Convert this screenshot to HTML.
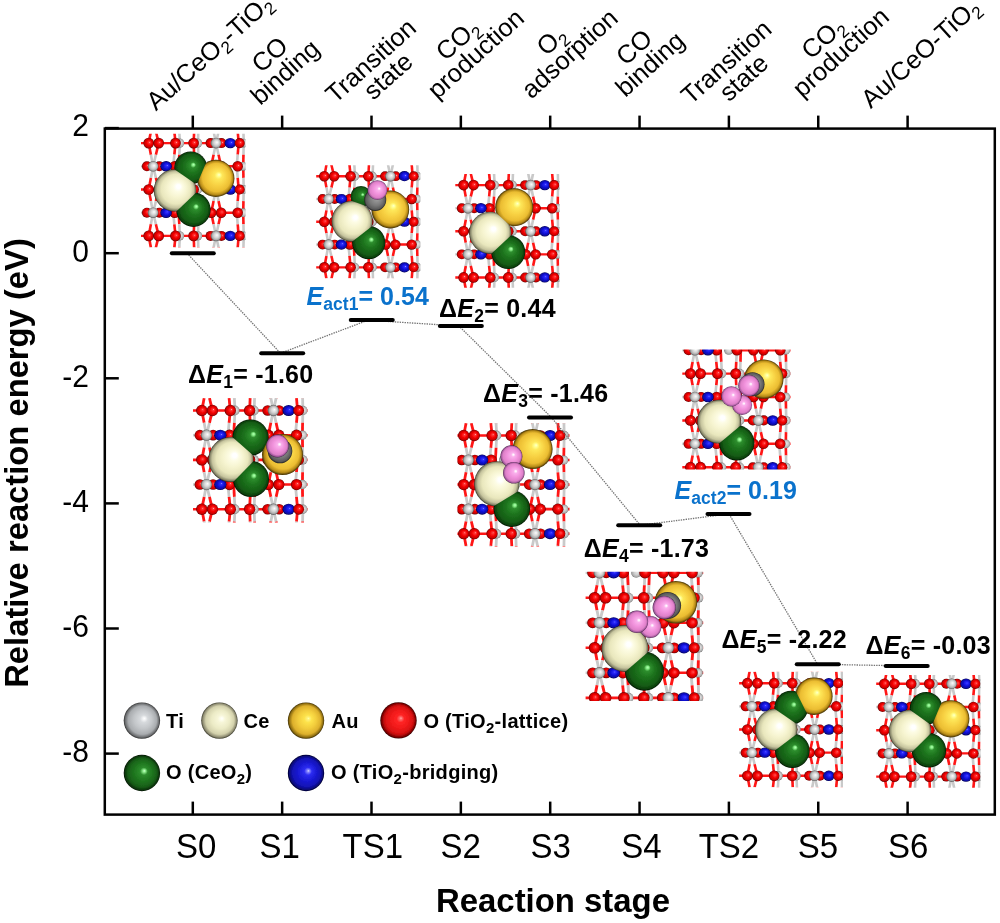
<!DOCTYPE html>
<html><head><meta charset="utf-8"><title>Reaction energy diagram</title>
<style>html,body{margin:0;padding:0;background:#fff;}svg{display:block;}</style>
</head><body>
<svg width="1000" height="923" viewBox="0 0 1000 923"><defs><filter id="soft2" x="-10%" y="-10%" width="120%" height="120%"><feGaussianBlur stdDeviation="0.5"/></filter><filter id="soft" x="-5%" y="-5%" width="110%" height="110%"><feGaussianBlur stdDeviation="0.35"/></filter><radialGradient id="gRed" cx="0.5" cy="0.5" r="0.5" fx="0.6" fy="0.42"><stop offset="0" stop-color="#ffc0c0"/><stop offset="0.12" stop-color="#ff3a3a"/><stop offset="0.5" stop-color="#f40000"/><stop offset="0.82" stop-color="#c80000"/><stop offset="1" stop-color="#600000"/></radialGradient><radialGradient id="gTi" cx="0.5" cy="0.5" r="0.5" fx="0.6" fy="0.42"><stop offset="0" stop-color="#ffffff"/><stop offset="0.12" stop-color="#f2f2f2"/><stop offset="0.5" stop-color="#d2d2d2"/><stop offset="0.8" stop-color="#a9a9a9"/><stop offset="1" stop-color="#555555"/></radialGradient><radialGradient id="gTiB" cx="0.5" cy="0.5" r="0.5" fx="0.6" fy="0.42"><stop offset="0" stop-color="#e6e6e6"/><stop offset="0.5" stop-color="#cdcdcd"/><stop offset="0.85" stop-color="#a8a8a8"/><stop offset="1" stop-color="#767676"/></radialGradient><radialGradient id="gBlue" cx="0.5" cy="0.5" r="0.5" fx="0.6" fy="0.42"><stop offset="0" stop-color="#a0a0ff"/><stop offset="0.12" stop-color="#3030ff"/><stop offset="0.5" stop-color="#1212dc"/><stop offset="0.82" stop-color="#0a0aa6"/><stop offset="1" stop-color="#000050"/></radialGradient><radialGradient id="gCe" cx="0.5" cy="0.5" r="0.5" fx="0.59" fy="0.4"><stop offset="0" stop-color="#ffffff"/><stop offset="0.09" stop-color="#ffffff"/><stop offset="0.22" stop-color="#fdfce4"/><stop offset="0.45" stop-color="#f6f4d0"/><stop offset="0.7" stop-color="#e9e7bd"/><stop offset="0.86" stop-color="#c6c49e"/><stop offset="0.95" stop-color="#858468"/><stop offset="1" stop-color="#2e2e22"/></radialGradient><radialGradient id="gGreen" cx="0.5" cy="0.5" r="0.5" fx="0.59" fy="0.4"><stop offset="0" stop-color="#b8ffb8"/><stop offset="0.07" stop-color="#88f088"/><stop offset="0.17" stop-color="#2e8e2e"/><stop offset="0.45" stop-color="#1c721c"/><stop offset="0.78" stop-color="#155c15"/><stop offset="0.92" stop-color="#0c420c"/><stop offset="1" stop-color="#011601"/></radialGradient><radialGradient id="gAu" cx="0.5" cy="0.5" r="0.5" fx="0.59" fy="0.4"><stop offset="0" stop-color="#ffffd0"/><stop offset="0.08" stop-color="#ffff90"/><stop offset="0.2" stop-color="#fee85a"/><stop offset="0.5" stop-color="#f7d042"/><stop offset="0.76" stop-color="#ebbd32"/><stop offset="0.9" stop-color="#b68a18"/><stop offset="1" stop-color="#3a2a00"/></radialGradient><radialGradient id="gPink" cx="0.5" cy="0.5" r="0.5" fx="0.6" fy="0.42"><stop offset="0" stop-color="#ffffff"/><stop offset="0.06" stop-color="#fff0fc"/><stop offset="0.18" stop-color="#fab0ec"/><stop offset="0.5" stop-color="#f192dc"/><stop offset="0.8" stop-color="#de80c8"/><stop offset="0.93" stop-color="#a0589a"/><stop offset="1" stop-color="#48244a"/></radialGradient><radialGradient id="gC" cx="0.5" cy="0.5" r="0.5" fx="0.6" fy="0.42"><stop offset="0" stop-color="#c8c8c8"/><stop offset="0.15" stop-color="#9a9a9a"/><stop offset="0.6" stop-color="#787878"/><stop offset="0.88" stop-color="#5a5a5a"/><stop offset="1" stop-color="#222222"/></radialGradient><radialGradient id="gLTi" cx="0.5" cy="0.5" r="0.5" fx="0.57" fy="0.44"><stop offset="0" stop-color="#ffffff"/><stop offset="0.07" stop-color="#f4f5f6"/><stop offset="0.21000000000000002" stop-color="#d6d9dc"/><stop offset="0.5" stop-color="#c3c6c9"/><stop offset="0.78" stop-color="#a9acaf"/><stop offset="0.93" stop-color="#6a6c6e"/><stop offset="1" stop-color="#2c2c2c"/></radialGradient><radialGradient id="gLCe" cx="0.5" cy="0.5" r="0.5" fx="0.57" fy="0.44"><stop offset="0" stop-color="#ffffff"/><stop offset="0.07" stop-color="#fefef0"/><stop offset="0.21000000000000002" stop-color="#f7f6d8"/><stop offset="0.5" stop-color="#ecebc6"/><stop offset="0.78" stop-color="#d3d1ac"/><stop offset="0.93" stop-color="#8c8a70"/><stop offset="1" stop-color="#343426"/></radialGradient><radialGradient id="gLRed" cx="0.5" cy="0.5" r="0.5" fx="0.57" fy="0.44"><stop offset="0" stop-color="#ffa8a8"/><stop offset="0.07" stop-color="#ff6a6a"/><stop offset="0.21000000000000002" stop-color="#ff2424"/><stop offset="0.5" stop-color="#f01a1a"/><stop offset="0.78" stop-color="#d41010"/><stop offset="0.93" stop-color="#800000"/><stop offset="1" stop-color="#2c0000"/></radialGradient><radialGradient id="gLBlue" cx="0.5" cy="0.5" r="0.5" fx="0.57" fy="0.44"><stop offset="0" stop-color="#d8d8ff"/><stop offset="0.07" stop-color="#8888ff"/><stop offset="0.21000000000000002" stop-color="#2c2cf2"/><stop offset="0.5" stop-color="#1a1ad4"/><stop offset="0.78" stop-color="#1212b4"/><stop offset="0.93" stop-color="#080870"/><stop offset="1" stop-color="#000024"/></radialGradient><radialGradient id="gLGreen" cx="0.5" cy="0.5" r="0.5" fx="0.57" fy="0.44"><stop offset="0" stop-color="#d0ffd0"/><stop offset="0.07" stop-color="#90f090"/><stop offset="0.21000000000000002" stop-color="#2c8c2c"/><stop offset="0.5" stop-color="#1f761f"/><stop offset="0.78" stop-color="#186018"/><stop offset="0.93" stop-color="#0c380c"/><stop offset="1" stop-color="#021202"/></radialGradient><radialGradient id="gLAu" cx="0.5" cy="0.5" r="0.5" fx="0.57" fy="0.44"><stop offset="0" stop-color="#ffffa8"/><stop offset="0.07" stop-color="#fff27a"/><stop offset="0.21000000000000002" stop-color="#fde24a"/><stop offset="0.5" stop-color="#f2cc3c"/><stop offset="0.78" stop-color="#ddb02c"/><stop offset="0.93" stop-color="#8c6c10"/><stop offset="1" stop-color="#362800"/></radialGradient><clipPath id="cS0"><rect x="141.0" y="133.7" width="104.60" height="113.70"/></clipPath><clipPath id="k1"><polygon points="208.18,157.80 236.40,157.80 236.40,199.00 195.20,199.00 195.20,188.53"/></clipPath><clipPath id="k2"><polygon points="151.80,167.20 171.47,167.20 198.20,185.77 198.20,213.60 151.80,213.60"/></clipPath><clipPath id="k3"><polygon points="198.39,190.50 212.60,190.50 212.60,228.90 174.20,228.90 174.20,213.56"/></clipPath><clipPath id="cTS1"><rect x="316.2" y="165.2" width="104.20" height="113.00"/></clipPath><clipPath id="k4"><polygon points="329.60,198.70 345.80,198.70 374.60,209.08 374.60,243.70 329.60,243.70"/></clipPath><clipPath id="k5"><polygon points="374.94,224.00 387.30,224.00 387.30,261.20 350.10,261.20 350.10,243.27"/></clipPath><clipPath id="cS2"><rect x="455.3" y="174.1" width="104.40" height="113.60"/></clipPath><clipPath id="k6"><polygon points="493.20,186.30 535.20,186.30 535.20,228.30 512.72,228.30 493.20,209.93"/></clipPath><clipPath id="k7"><polygon points="513.56,233.10 527.20,233.10 527.20,271.10 489.20,271.10 489.20,255.82"/></clipPath><clipPath id="cS1"><rect x="193.0" y="398.0" width="114.60" height="124.40"/></clipPath><clipPath id="k8"><polygon points="206.40,434.90 230.10,434.90 255.60,457.50 255.60,484.10 206.40,484.10"/></clipPath><clipPath id="k9"><polygon points="255.66,459.00 271.00,459.00 271.00,499.00 231.00,499.00 231.00,484.30"/></clipPath><clipPath id="k10"><polygon points="272.49,432.00 305.00,432.00 305.00,477.00 260.00,477.00 260.00,455.51"/></clipPath><clipPath id="cS3"><rect x="457.4" y="423.0" width="112.60" height="123.40"/></clipPath><clipPath id="k11"><polygon points="523.05,488.30 532.10,488.30 532.10,528.90 491.50,528.90 491.50,507.51"/></clipPath><clipPath id="cTS2"><rect x="682.3" y="349.5" width="108.20" height="119.90"/></clipPath><clipPath id="k12"><polygon points="743.59,423.10 756.40,423.10 756.40,462.50 717.00,462.50 717.00,445.28"/></clipPath><clipPath id="cS4"><rect x="585.6" y="571.8" width="117.60" height="129.20"/></clipPath><clipPath id="k13"><polygon points="650.76,649.70 665.90,649.70 665.90,692.70 622.90,692.70 622.90,673.63"/></clipPath><clipPath id="cS5"><rect x="739.1" y="671.8" width="103.90" height="115.40"/></clipPath><clipPath id="k14"><polygon points="793.20,675.50 834.60,675.50 834.60,716.90 808.67,716.90 793.20,686.09"/></clipPath><clipPath id="k15"><polygon points="753.20,706.60 771.28,706.60 799.20,725.64 799.20,752.60 753.20,752.60"/></clipPath><clipPath id="k16"><polygon points="800.12,731.40 811.60,731.40 811.60,770.00 773.00,770.00 773.00,752.09"/></clipPath><clipPath id="cS6"><rect x="876.2" y="674.9" width="104.50" height="112.80"/></clipPath><clipPath id="k17"><polygon points="943.38,698.20 971.40,698.20 971.40,739.40 930.20,739.40 930.20,729.49"/></clipPath><clipPath id="k18"><polygon points="886.80,707.80 906.95,707.80 933.20,726.50 933.20,754.20 886.80,754.20"/></clipPath><clipPath id="k19"><polygon points="933.27,731.10 948.10,731.10 948.10,769.50 909.70,769.50 909.70,754.18"/></clipPath></defs><rect width="1000" height="923" fill="#fff"/><g clip-path="url(#cS0)"><g filter="url(#soft)"><g transform="translate(148.7,143.1) scale(1.0)"><line x1="-12" y1="-23.20" x2="12" y2="-23.20" stroke="#c9c9c9" stroke-width="2.4"/><line x1="12" y1="-23.20" x2="22" y2="-23.20" stroke="#1a1ae0" stroke-width="2.4"/><line x1="40" y1="-23.20" x2="100" y2="-23.20" stroke="#ff1414" stroke-width="2.4"/><line x1="4.4" y1="-23.20" x2="2.20" y2="-11.60" stroke="#c9c9c9" stroke-width="2.6"/><line x1="2.20" y1="-11.60" x2="0" y2="0.00" stroke="#ff1414" stroke-width="2.6"/><line x1="4.4" y1="-23.20" x2="7.20" y2="-11.60" stroke="#c9c9c9" stroke-width="2.6"/><line x1="7.20" y1="-11.60" x2="10" y2="0.00" stroke="#ff1414" stroke-width="2.6"/><line x1="24.5" y1="-23.20" x2="25.65" y2="-11.60" stroke="#c9c9c9" stroke-width="2.6"/><line x1="25.65" y1="-11.60" x2="26.8" y2="0.00" stroke="#ff1414" stroke-width="2.6"/><line x1="30.0" y1="-23.20" x2="30.60" y2="-11.60" stroke="#ff1414" stroke-width="2.6"/><line x1="30.60" y1="-11.60" x2="31.2" y2="0.00" stroke="#c9c9c9" stroke-width="2.6"/><line x1="46.0" y1="-23.20" x2="45.45" y2="-11.60" stroke="#c9c9c9" stroke-width="2.6"/><line x1="45.45" y1="-11.60" x2="44.9" y2="0.00" stroke="#ff1414" stroke-width="2.6"/><line x1="50.0" y1="-23.20" x2="49.60" y2="-11.60" stroke="#ff1414" stroke-width="2.6"/><line x1="49.60" y1="-11.60" x2="49.2" y2="0.00" stroke="#c9c9c9" stroke-width="2.6"/><line x1="62.5" y1="-23.20" x2="64.90" y2="-11.60" stroke="#ff1414" stroke-width="2.6"/><line x1="64.90" y1="-11.60" x2="67.3" y2="0.00" stroke="#c9c9c9" stroke-width="2.6"/><line x1="72.4" y1="-23.20" x2="69.85" y2="-11.60" stroke="#ff1414" stroke-width="2.6"/><line x1="69.85" y1="-11.60" x2="67.3" y2="0.00" stroke="#c9c9c9" stroke-width="2.6"/><line x1="88.0" y1="-23.20" x2="89.00" y2="-11.60" stroke="#c9c9c9" stroke-width="2.6"/><line x1="89.00" y1="-11.60" x2="90.0" y2="0.00" stroke="#ff1414" stroke-width="2.6"/><line x1="94.5" y1="-23.20" x2="94.75" y2="-11.60" stroke="#ff1414" stroke-width="2.6"/><line x1="94.75" y1="-11.60" x2="95.0" y2="0.00" stroke="#c9c9c9" stroke-width="2.6"/><line x1="-12" y1="0.00" x2="58" y2="0.00" stroke="#ff1414" stroke-width="2.4"/><line x1="58" y1="0.00" x2="77" y2="0.00" stroke="#c9c9c9" stroke-width="2.4"/><line x1="77" y1="0.00" x2="86" y2="0.00" stroke="#1a1ae0" stroke-width="2.4"/><line x1="86" y1="0.00" x2="100" y2="0.00" stroke="#ff1414" stroke-width="2.4"/><line x1="0" y1="0.00" x2="2.20" y2="11.60" stroke="#ff1414" stroke-width="2.6"/><line x1="2.20" y1="11.60" x2="4.4" y2="23.20" stroke="#c9c9c9" stroke-width="2.6"/><line x1="10" y1="0.00" x2="7.20" y2="11.60" stroke="#ff1414" stroke-width="2.6"/><line x1="7.20" y1="11.60" x2="4.4" y2="23.20" stroke="#c9c9c9" stroke-width="2.6"/><line x1="26.8" y1="0.00" x2="25.65" y2="11.60" stroke="#ff1414" stroke-width="2.6"/><line x1="25.65" y1="11.60" x2="24.5" y2="23.20" stroke="#c9c9c9" stroke-width="2.6"/><line x1="31.2" y1="0.00" x2="30.60" y2="11.60" stroke="#c9c9c9" stroke-width="2.6"/><line x1="30.60" y1="11.60" x2="30.0" y2="23.20" stroke="#ff1414" stroke-width="2.6"/><line x1="44.9" y1="0.00" x2="45.45" y2="11.60" stroke="#ff1414" stroke-width="2.6"/><line x1="45.45" y1="11.60" x2="46.0" y2="23.20" stroke="#c9c9c9" stroke-width="2.6"/><line x1="49.2" y1="0.00" x2="49.60" y2="11.60" stroke="#c9c9c9" stroke-width="2.6"/><line x1="49.60" y1="11.60" x2="50.0" y2="23.20" stroke="#ff1414" stroke-width="2.6"/><line x1="67.3" y1="0.00" x2="64.90" y2="11.60" stroke="#c9c9c9" stroke-width="2.6"/><line x1="64.90" y1="11.60" x2="62.5" y2="23.20" stroke="#ff1414" stroke-width="2.6"/><line x1="67.3" y1="0.00" x2="69.85" y2="11.60" stroke="#c9c9c9" stroke-width="2.6"/><line x1="69.85" y1="11.60" x2="72.4" y2="23.20" stroke="#ff1414" stroke-width="2.6"/><line x1="90.0" y1="0.00" x2="89.00" y2="11.60" stroke="#ff1414" stroke-width="2.6"/><line x1="89.00" y1="11.60" x2="88.0" y2="23.20" stroke="#c9c9c9" stroke-width="2.6"/><line x1="95.0" y1="0.00" x2="94.75" y2="11.60" stroke="#c9c9c9" stroke-width="2.6"/><line x1="94.75" y1="11.60" x2="94.5" y2="23.20" stroke="#ff1414" stroke-width="2.6"/><line x1="-12" y1="23.20" x2="12" y2="23.20" stroke="#c9c9c9" stroke-width="2.4"/><line x1="12" y1="23.20" x2="22" y2="23.20" stroke="#1a1ae0" stroke-width="2.4"/><line x1="40" y1="23.20" x2="100" y2="23.20" stroke="#ff1414" stroke-width="2.4"/><line x1="4.4" y1="23.20" x2="2.20" y2="34.80" stroke="#c9c9c9" stroke-width="2.6"/><line x1="2.20" y1="34.80" x2="0" y2="46.40" stroke="#ff1414" stroke-width="2.6"/><line x1="4.4" y1="23.20" x2="7.20" y2="34.80" stroke="#c9c9c9" stroke-width="2.6"/><line x1="7.20" y1="34.80" x2="10" y2="46.40" stroke="#ff1414" stroke-width="2.6"/><line x1="24.5" y1="23.20" x2="25.65" y2="34.80" stroke="#c9c9c9" stroke-width="2.6"/><line x1="25.65" y1="34.80" x2="26.8" y2="46.40" stroke="#ff1414" stroke-width="2.6"/><line x1="30.0" y1="23.20" x2="30.60" y2="34.80" stroke="#ff1414" stroke-width="2.6"/><line x1="30.60" y1="34.80" x2="31.2" y2="46.40" stroke="#c9c9c9" stroke-width="2.6"/><line x1="46.0" y1="23.20" x2="45.45" y2="34.80" stroke="#c9c9c9" stroke-width="2.6"/><line x1="45.45" y1="34.80" x2="44.9" y2="46.40" stroke="#ff1414" stroke-width="2.6"/><line x1="50.0" y1="23.20" x2="49.60" y2="34.80" stroke="#ff1414" stroke-width="2.6"/><line x1="49.60" y1="34.80" x2="49.2" y2="46.40" stroke="#c9c9c9" stroke-width="2.6"/><line x1="62.5" y1="23.20" x2="64.90" y2="34.80" stroke="#ff1414" stroke-width="2.6"/><line x1="64.90" y1="34.80" x2="67.3" y2="46.40" stroke="#c9c9c9" stroke-width="2.6"/><line x1="72.4" y1="23.20" x2="69.85" y2="34.80" stroke="#ff1414" stroke-width="2.6"/><line x1="69.85" y1="34.80" x2="67.3" y2="46.40" stroke="#c9c9c9" stroke-width="2.6"/><line x1="88.0" y1="23.20" x2="89.00" y2="34.80" stroke="#c9c9c9" stroke-width="2.6"/><line x1="89.00" y1="34.80" x2="90.0" y2="46.40" stroke="#ff1414" stroke-width="2.6"/><line x1="94.5" y1="23.20" x2="94.75" y2="34.80" stroke="#ff1414" stroke-width="2.6"/><line x1="94.75" y1="34.80" x2="95.0" y2="46.40" stroke="#c9c9c9" stroke-width="2.6"/><line x1="-12" y1="46.40" x2="58" y2="46.40" stroke="#ff1414" stroke-width="2.4"/><line x1="58" y1="46.40" x2="77" y2="46.40" stroke="#c9c9c9" stroke-width="2.4"/><line x1="77" y1="46.40" x2="86" y2="46.40" stroke="#1a1ae0" stroke-width="2.4"/><line x1="86" y1="46.40" x2="100" y2="46.40" stroke="#ff1414" stroke-width="2.4"/><line x1="0" y1="46.40" x2="2.20" y2="58.00" stroke="#ff1414" stroke-width="2.6"/><line x1="2.20" y1="58.00" x2="4.4" y2="69.60" stroke="#c9c9c9" stroke-width="2.6"/><line x1="10" y1="46.40" x2="7.20" y2="58.00" stroke="#ff1414" stroke-width="2.6"/><line x1="7.20" y1="58.00" x2="4.4" y2="69.60" stroke="#c9c9c9" stroke-width="2.6"/><line x1="26.8" y1="46.40" x2="25.65" y2="58.00" stroke="#ff1414" stroke-width="2.6"/><line x1="25.65" y1="58.00" x2="24.5" y2="69.60" stroke="#c9c9c9" stroke-width="2.6"/><line x1="31.2" y1="46.40" x2="30.60" y2="58.00" stroke="#c9c9c9" stroke-width="2.6"/><line x1="30.60" y1="58.00" x2="30.0" y2="69.60" stroke="#ff1414" stroke-width="2.6"/><line x1="44.9" y1="46.40" x2="45.45" y2="58.00" stroke="#ff1414" stroke-width="2.6"/><line x1="45.45" y1="58.00" x2="46.0" y2="69.60" stroke="#c9c9c9" stroke-width="2.6"/><line x1="49.2" y1="46.40" x2="49.60" y2="58.00" stroke="#c9c9c9" stroke-width="2.6"/><line x1="49.60" y1="58.00" x2="50.0" y2="69.60" stroke="#ff1414" stroke-width="2.6"/><line x1="67.3" y1="46.40" x2="64.90" y2="58.00" stroke="#c9c9c9" stroke-width="2.6"/><line x1="64.90" y1="58.00" x2="62.5" y2="69.60" stroke="#ff1414" stroke-width="2.6"/><line x1="67.3" y1="46.40" x2="69.85" y2="58.00" stroke="#c9c9c9" stroke-width="2.6"/><line x1="69.85" y1="58.00" x2="72.4" y2="69.60" stroke="#ff1414" stroke-width="2.6"/><line x1="90.0" y1="46.40" x2="89.00" y2="58.00" stroke="#ff1414" stroke-width="2.6"/><line x1="89.00" y1="58.00" x2="88.0" y2="69.60" stroke="#c9c9c9" stroke-width="2.6"/><line x1="95.0" y1="46.40" x2="94.75" y2="58.00" stroke="#c9c9c9" stroke-width="2.6"/><line x1="94.75" y1="58.00" x2="94.5" y2="69.60" stroke="#ff1414" stroke-width="2.6"/><line x1="-12" y1="69.60" x2="12" y2="69.60" stroke="#c9c9c9" stroke-width="2.4"/><line x1="12" y1="69.60" x2="22" y2="69.60" stroke="#1a1ae0" stroke-width="2.4"/><line x1="40" y1="69.60" x2="100" y2="69.60" stroke="#ff1414" stroke-width="2.4"/><line x1="4.4" y1="69.60" x2="2.20" y2="81.20" stroke="#c9c9c9" stroke-width="2.6"/><line x1="2.20" y1="81.20" x2="0" y2="92.80" stroke="#ff1414" stroke-width="2.6"/><line x1="4.4" y1="69.60" x2="7.20" y2="81.20" stroke="#c9c9c9" stroke-width="2.6"/><line x1="7.20" y1="81.20" x2="10" y2="92.80" stroke="#ff1414" stroke-width="2.6"/><line x1="24.5" y1="69.60" x2="25.65" y2="81.20" stroke="#c9c9c9" stroke-width="2.6"/><line x1="25.65" y1="81.20" x2="26.8" y2="92.80" stroke="#ff1414" stroke-width="2.6"/><line x1="30.0" y1="69.60" x2="30.60" y2="81.20" stroke="#ff1414" stroke-width="2.6"/><line x1="30.60" y1="81.20" x2="31.2" y2="92.80" stroke="#c9c9c9" stroke-width="2.6"/><line x1="46.0" y1="69.60" x2="45.45" y2="81.20" stroke="#c9c9c9" stroke-width="2.6"/><line x1="45.45" y1="81.20" x2="44.9" y2="92.80" stroke="#ff1414" stroke-width="2.6"/><line x1="50.0" y1="69.60" x2="49.60" y2="81.20" stroke="#ff1414" stroke-width="2.6"/><line x1="49.60" y1="81.20" x2="49.2" y2="92.80" stroke="#c9c9c9" stroke-width="2.6"/><line x1="62.5" y1="69.60" x2="64.90" y2="81.20" stroke="#ff1414" stroke-width="2.6"/><line x1="64.90" y1="81.20" x2="67.3" y2="92.80" stroke="#c9c9c9" stroke-width="2.6"/><line x1="72.4" y1="69.60" x2="69.85" y2="81.20" stroke="#ff1414" stroke-width="2.6"/><line x1="69.85" y1="81.20" x2="67.3" y2="92.80" stroke="#c9c9c9" stroke-width="2.6"/><line x1="88.0" y1="69.60" x2="89.00" y2="81.20" stroke="#c9c9c9" stroke-width="2.6"/><line x1="89.00" y1="81.20" x2="90.0" y2="92.80" stroke="#ff1414" stroke-width="2.6"/><line x1="94.5" y1="69.60" x2="94.75" y2="81.20" stroke="#ff1414" stroke-width="2.6"/><line x1="94.75" y1="81.20" x2="95.0" y2="92.80" stroke="#c9c9c9" stroke-width="2.6"/><line x1="-12" y1="92.80" x2="58" y2="92.80" stroke="#ff1414" stroke-width="2.4"/><line x1="58" y1="92.80" x2="77" y2="92.80" stroke="#c9c9c9" stroke-width="2.4"/><line x1="77" y1="92.80" x2="86" y2="92.80" stroke="#1a1ae0" stroke-width="2.4"/><line x1="86" y1="92.80" x2="100" y2="92.80" stroke="#ff1414" stroke-width="2.4"/><line x1="0" y1="92.80" x2="2.20" y2="104.40" stroke="#ff1414" stroke-width="2.6"/><line x1="2.20" y1="104.40" x2="4.4" y2="116.00" stroke="#c9c9c9" stroke-width="2.6"/><line x1="10" y1="92.80" x2="7.20" y2="104.40" stroke="#ff1414" stroke-width="2.6"/><line x1="7.20" y1="104.40" x2="4.4" y2="116.00" stroke="#c9c9c9" stroke-width="2.6"/><line x1="26.8" y1="92.80" x2="25.65" y2="104.40" stroke="#ff1414" stroke-width="2.6"/><line x1="25.65" y1="104.40" x2="24.5" y2="116.00" stroke="#c9c9c9" stroke-width="2.6"/><line x1="31.2" y1="92.80" x2="30.60" y2="104.40" stroke="#c9c9c9" stroke-width="2.6"/><line x1="30.60" y1="104.40" x2="30.0" y2="116.00" stroke="#ff1414" stroke-width="2.6"/><line x1="44.9" y1="92.80" x2="45.45" y2="104.40" stroke="#ff1414" stroke-width="2.6"/><line x1="45.45" y1="104.40" x2="46.0" y2="116.00" stroke="#c9c9c9" stroke-width="2.6"/><line x1="49.2" y1="92.80" x2="49.60" y2="104.40" stroke="#c9c9c9" stroke-width="2.6"/><line x1="49.60" y1="104.40" x2="50.0" y2="116.00" stroke="#ff1414" stroke-width="2.6"/><line x1="67.3" y1="92.80" x2="64.90" y2="104.40" stroke="#c9c9c9" stroke-width="2.6"/><line x1="64.90" y1="104.40" x2="62.5" y2="116.00" stroke="#ff1414" stroke-width="2.6"/><line x1="67.3" y1="92.80" x2="69.85" y2="104.40" stroke="#c9c9c9" stroke-width="2.6"/><line x1="69.85" y1="104.40" x2="72.4" y2="116.00" stroke="#ff1414" stroke-width="2.6"/><line x1="90.0" y1="92.80" x2="89.00" y2="104.40" stroke="#ff1414" stroke-width="2.6"/><line x1="89.00" y1="104.40" x2="88.0" y2="116.00" stroke="#c9c9c9" stroke-width="2.6"/><line x1="95.0" y1="92.80" x2="94.75" y2="104.40" stroke="#c9c9c9" stroke-width="2.6"/><line x1="94.75" y1="104.40" x2="94.5" y2="116.00" stroke="#ff1414" stroke-width="2.6"/><line x1="-12" y1="116.00" x2="12" y2="116.00" stroke="#c9c9c9" stroke-width="2.4"/><line x1="12" y1="116.00" x2="22" y2="116.00" stroke="#1a1ae0" stroke-width="2.4"/><line x1="40" y1="116.00" x2="100" y2="116.00" stroke="#ff1414" stroke-width="2.4"/><line x1="4.4" y1="116.00" x2="2.20" y2="127.60" stroke="#c9c9c9" stroke-width="2.6"/><line x1="2.20" y1="127.60" x2="0" y2="139.20" stroke="#ff1414" stroke-width="2.6"/><line x1="4.4" y1="116.00" x2="7.20" y2="127.60" stroke="#c9c9c9" stroke-width="2.6"/><line x1="7.20" y1="127.60" x2="10" y2="139.20" stroke="#ff1414" stroke-width="2.6"/><line x1="24.5" y1="116.00" x2="25.65" y2="127.60" stroke="#c9c9c9" stroke-width="2.6"/><line x1="25.65" y1="127.60" x2="26.8" y2="139.20" stroke="#ff1414" stroke-width="2.6"/><line x1="30.0" y1="116.00" x2="30.60" y2="127.60" stroke="#ff1414" stroke-width="2.6"/><line x1="30.60" y1="127.60" x2="31.2" y2="139.20" stroke="#c9c9c9" stroke-width="2.6"/><line x1="46.0" y1="116.00" x2="45.45" y2="127.60" stroke="#c9c9c9" stroke-width="2.6"/><line x1="45.45" y1="127.60" x2="44.9" y2="139.20" stroke="#ff1414" stroke-width="2.6"/><line x1="50.0" y1="116.00" x2="49.60" y2="127.60" stroke="#ff1414" stroke-width="2.6"/><line x1="49.60" y1="127.60" x2="49.2" y2="139.20" stroke="#c9c9c9" stroke-width="2.6"/><line x1="62.5" y1="116.00" x2="64.90" y2="127.60" stroke="#ff1414" stroke-width="2.6"/><line x1="64.90" y1="127.60" x2="67.3" y2="139.20" stroke="#c9c9c9" stroke-width="2.6"/><line x1="72.4" y1="116.00" x2="69.85" y2="127.60" stroke="#ff1414" stroke-width="2.6"/><line x1="69.85" y1="127.60" x2="67.3" y2="139.20" stroke="#c9c9c9" stroke-width="2.6"/><line x1="88.0" y1="116.00" x2="89.00" y2="127.60" stroke="#c9c9c9" stroke-width="2.6"/><line x1="89.00" y1="127.60" x2="90.0" y2="139.20" stroke="#ff1414" stroke-width="2.6"/><line x1="94.5" y1="116.00" x2="94.75" y2="127.60" stroke="#ff1414" stroke-width="2.6"/><line x1="94.75" y1="127.60" x2="95.0" y2="139.20" stroke="#c9c9c9" stroke-width="2.6"/><circle cx="-1.8" cy="-23.20" r="5.0" fill="url(#gRed)"/><circle cx="10.6" cy="-23.20" r="5.0" fill="url(#gRed)"/><circle cx="38.0" cy="-23.20" r="4.6" fill="url(#gTiB)"/><circle cx="94.5" cy="-23.20" r="4.4" fill="url(#gTiB)"/><circle cx="30.8" cy="0.00" r="4.7" fill="url(#gTiB)"/><circle cx="48.8" cy="0.00" r="4.7" fill="url(#gTiB)"/><circle cx="95.0" cy="0.00" r="4.4" fill="url(#gTiB)"/><circle cx="61.9" cy="0.00" r="5.0" fill="url(#gRed)"/><circle cx="72.7" cy="0.00" r="5.0" fill="url(#gRed)"/><circle cx="-1.8" cy="23.20" r="5.0" fill="url(#gRed)"/><circle cx="10.6" cy="23.20" r="5.0" fill="url(#gRed)"/><circle cx="38.0" cy="23.20" r="4.6" fill="url(#gTiB)"/><circle cx="94.5" cy="23.20" r="4.4" fill="url(#gTiB)"/><circle cx="30.8" cy="46.40" r="4.7" fill="url(#gTiB)"/><circle cx="48.8" cy="46.40" r="4.7" fill="url(#gTiB)"/><circle cx="95.0" cy="46.40" r="4.4" fill="url(#gTiB)"/><circle cx="61.9" cy="46.40" r="5.0" fill="url(#gRed)"/><circle cx="72.7" cy="46.40" r="5.0" fill="url(#gRed)"/><circle cx="-1.8" cy="69.60" r="5.0" fill="url(#gRed)"/><circle cx="10.6" cy="69.60" r="5.0" fill="url(#gRed)"/><circle cx="38.0" cy="69.60" r="4.6" fill="url(#gTiB)"/><circle cx="94.5" cy="69.60" r="4.4" fill="url(#gTiB)"/><circle cx="30.8" cy="92.80" r="4.7" fill="url(#gTiB)"/><circle cx="48.8" cy="92.80" r="4.7" fill="url(#gTiB)"/><circle cx="95.0" cy="92.80" r="4.4" fill="url(#gTiB)"/><circle cx="61.9" cy="92.80" r="5.0" fill="url(#gRed)"/><circle cx="72.7" cy="92.80" r="5.0" fill="url(#gRed)"/><circle cx="-1.8" cy="116.00" r="5.0" fill="url(#gRed)"/><circle cx="10.6" cy="116.00" r="5.0" fill="url(#gRed)"/><circle cx="38.0" cy="116.00" r="4.6" fill="url(#gTiB)"/><circle cx="94.5" cy="116.00" r="4.4" fill="url(#gTiB)"/><circle cx="26.0" cy="-23.20" r="5.25" fill="url(#gRed)"/><circle cx="46.0" cy="-23.20" r="5.25" fill="url(#gRed)"/><circle cx="62.5" cy="-23.20" r="5.25" fill="url(#gRed)"/><circle cx="72.4" cy="-23.20" r="5.25" fill="url(#gRed)"/><circle cx="89.0" cy="-23.20" r="5.25" fill="url(#gRed)"/><circle cx="4.4" cy="-23.20" r="5.3" fill="url(#gTi)"/><ellipse cx="17.4" cy="-23.20" rx="5.8" ry="5.2" fill="url(#gBlue)"/><circle cx="0" cy="0.00" r="5.35" fill="url(#gRed)"/><circle cx="10.0" cy="0.00" r="5.35" fill="url(#gRed)"/><circle cx="26.8" cy="0.00" r="5.35" fill="url(#gRed)"/><circle cx="44.9" cy="0.00" r="5.35" fill="url(#gRed)"/><circle cx="67.3" cy="0.00" r="5.3" fill="url(#gTi)"/><ellipse cx="81.6" cy="0.00" rx="5.8" ry="5.2" fill="url(#gBlue)"/><circle cx="91.0" cy="0.00" r="5.1" fill="url(#gRed)"/><circle cx="26.0" cy="23.20" r="5.25" fill="url(#gRed)"/><circle cx="46.0" cy="23.20" r="5.25" fill="url(#gRed)"/><circle cx="62.5" cy="23.20" r="5.25" fill="url(#gRed)"/><circle cx="72.4" cy="23.20" r="5.25" fill="url(#gRed)"/><circle cx="89.0" cy="23.20" r="5.25" fill="url(#gRed)"/><circle cx="4.4" cy="23.20" r="5.3" fill="url(#gTi)"/><ellipse cx="17.4" cy="23.20" rx="5.8" ry="5.2" fill="url(#gBlue)"/><circle cx="0" cy="46.40" r="5.35" fill="url(#gRed)"/><circle cx="10.0" cy="46.40" r="5.35" fill="url(#gRed)"/><circle cx="26.8" cy="46.40" r="5.35" fill="url(#gRed)"/><circle cx="44.9" cy="46.40" r="5.35" fill="url(#gRed)"/><circle cx="67.3" cy="46.40" r="5.3" fill="url(#gTi)"/><ellipse cx="81.6" cy="46.40" rx="5.8" ry="5.2" fill="url(#gBlue)"/><circle cx="91.0" cy="46.40" r="5.1" fill="url(#gRed)"/><circle cx="26.0" cy="69.60" r="5.25" fill="url(#gRed)"/><circle cx="46.0" cy="69.60" r="5.25" fill="url(#gRed)"/><circle cx="62.5" cy="69.60" r="5.25" fill="url(#gRed)"/><circle cx="72.4" cy="69.60" r="5.25" fill="url(#gRed)"/><circle cx="89.0" cy="69.60" r="5.25" fill="url(#gRed)"/><circle cx="4.4" cy="69.60" r="5.3" fill="url(#gTi)"/><ellipse cx="17.4" cy="69.60" rx="5.8" ry="5.2" fill="url(#gBlue)"/><circle cx="0" cy="92.80" r="5.35" fill="url(#gRed)"/><circle cx="10.0" cy="92.80" r="5.35" fill="url(#gRed)"/><circle cx="26.8" cy="92.80" r="5.35" fill="url(#gRed)"/><circle cx="44.9" cy="92.80" r="5.35" fill="url(#gRed)"/><circle cx="67.3" cy="92.80" r="5.3" fill="url(#gTi)"/><ellipse cx="81.6" cy="92.80" rx="5.8" ry="5.2" fill="url(#gBlue)"/><circle cx="91.0" cy="92.80" r="5.1" fill="url(#gRed)"/><circle cx="26.0" cy="116.00" r="5.25" fill="url(#gRed)"/><circle cx="46.0" cy="116.00" r="5.25" fill="url(#gRed)"/><circle cx="62.5" cy="116.00" r="5.25" fill="url(#gRed)"/><circle cx="72.4" cy="116.00" r="5.25" fill="url(#gRed)"/><circle cx="89.0" cy="116.00" r="5.25" fill="url(#gRed)"/><circle cx="4.4" cy="116.00" r="5.3" fill="url(#gTi)"/><ellipse cx="17.4" cy="116.00" rx="5.8" ry="5.2" fill="url(#gBlue)"/></g><circle cx="190.7" cy="167.8" r="16.4" fill="url(#gGreen)"/><circle cx="215.8" cy="178.4" r="18.6" fill="url(#gAu)" clip-path="url(#k1)"/><circle cx="175.0" cy="190.4" r="21.2" fill="url(#gCe)" clip-path="url(#k2)"/><circle cx="193.4" cy="209.7" r="17.2" fill="url(#gGreen)" clip-path="url(#k3)"/></g></g><g clip-path="url(#cTS1)"><g filter="url(#soft)"><g transform="translate(324.3,176.2) scale(0.982)"><line x1="-12" y1="-23.20" x2="12" y2="-23.20" stroke="#c9c9c9" stroke-width="2.4"/><line x1="12" y1="-23.20" x2="22" y2="-23.20" stroke="#1a1ae0" stroke-width="2.4"/><line x1="40" y1="-23.20" x2="100" y2="-23.20" stroke="#ff1414" stroke-width="2.4"/><line x1="4.4" y1="-23.20" x2="2.20" y2="-11.60" stroke="#c9c9c9" stroke-width="2.6"/><line x1="2.20" y1="-11.60" x2="0" y2="0.00" stroke="#ff1414" stroke-width="2.6"/><line x1="4.4" y1="-23.20" x2="7.20" y2="-11.60" stroke="#c9c9c9" stroke-width="2.6"/><line x1="7.20" y1="-11.60" x2="10" y2="0.00" stroke="#ff1414" stroke-width="2.6"/><line x1="24.5" y1="-23.20" x2="25.65" y2="-11.60" stroke="#c9c9c9" stroke-width="2.6"/><line x1="25.65" y1="-11.60" x2="26.8" y2="0.00" stroke="#ff1414" stroke-width="2.6"/><line x1="30.0" y1="-23.20" x2="30.60" y2="-11.60" stroke="#ff1414" stroke-width="2.6"/><line x1="30.60" y1="-11.60" x2="31.2" y2="0.00" stroke="#c9c9c9" stroke-width="2.6"/><line x1="46.0" y1="-23.20" x2="45.45" y2="-11.60" stroke="#c9c9c9" stroke-width="2.6"/><line x1="45.45" y1="-11.60" x2="44.9" y2="0.00" stroke="#ff1414" stroke-width="2.6"/><line x1="50.0" y1="-23.20" x2="49.60" y2="-11.60" stroke="#ff1414" stroke-width="2.6"/><line x1="49.60" y1="-11.60" x2="49.2" y2="0.00" stroke="#c9c9c9" stroke-width="2.6"/><line x1="62.5" y1="-23.20" x2="64.90" y2="-11.60" stroke="#ff1414" stroke-width="2.6"/><line x1="64.90" y1="-11.60" x2="67.3" y2="0.00" stroke="#c9c9c9" stroke-width="2.6"/><line x1="72.4" y1="-23.20" x2="69.85" y2="-11.60" stroke="#ff1414" stroke-width="2.6"/><line x1="69.85" y1="-11.60" x2="67.3" y2="0.00" stroke="#c9c9c9" stroke-width="2.6"/><line x1="88.0" y1="-23.20" x2="89.00" y2="-11.60" stroke="#c9c9c9" stroke-width="2.6"/><line x1="89.00" y1="-11.60" x2="90.0" y2="0.00" stroke="#ff1414" stroke-width="2.6"/><line x1="94.5" y1="-23.20" x2="94.75" y2="-11.60" stroke="#ff1414" stroke-width="2.6"/><line x1="94.75" y1="-11.60" x2="95.0" y2="0.00" stroke="#c9c9c9" stroke-width="2.6"/><line x1="-12" y1="0.00" x2="58" y2="0.00" stroke="#ff1414" stroke-width="2.4"/><line x1="58" y1="0.00" x2="77" y2="0.00" stroke="#c9c9c9" stroke-width="2.4"/><line x1="77" y1="0.00" x2="86" y2="0.00" stroke="#1a1ae0" stroke-width="2.4"/><line x1="86" y1="0.00" x2="100" y2="0.00" stroke="#ff1414" stroke-width="2.4"/><line x1="0" y1="0.00" x2="2.20" y2="11.60" stroke="#ff1414" stroke-width="2.6"/><line x1="2.20" y1="11.60" x2="4.4" y2="23.20" stroke="#c9c9c9" stroke-width="2.6"/><line x1="10" y1="0.00" x2="7.20" y2="11.60" stroke="#ff1414" stroke-width="2.6"/><line x1="7.20" y1="11.60" x2="4.4" y2="23.20" stroke="#c9c9c9" stroke-width="2.6"/><line x1="26.8" y1="0.00" x2="25.65" y2="11.60" stroke="#ff1414" stroke-width="2.6"/><line x1="25.65" y1="11.60" x2="24.5" y2="23.20" stroke="#c9c9c9" stroke-width="2.6"/><line x1="31.2" y1="0.00" x2="30.60" y2="11.60" stroke="#c9c9c9" stroke-width="2.6"/><line x1="30.60" y1="11.60" x2="30.0" y2="23.20" stroke="#ff1414" stroke-width="2.6"/><line x1="44.9" y1="0.00" x2="45.45" y2="11.60" stroke="#ff1414" stroke-width="2.6"/><line x1="45.45" y1="11.60" x2="46.0" y2="23.20" stroke="#c9c9c9" stroke-width="2.6"/><line x1="49.2" y1="0.00" x2="49.60" y2="11.60" stroke="#c9c9c9" stroke-width="2.6"/><line x1="49.60" y1="11.60" x2="50.0" y2="23.20" stroke="#ff1414" stroke-width="2.6"/><line x1="67.3" y1="0.00" x2="64.90" y2="11.60" stroke="#c9c9c9" stroke-width="2.6"/><line x1="64.90" y1="11.60" x2="62.5" y2="23.20" stroke="#ff1414" stroke-width="2.6"/><line x1="67.3" y1="0.00" x2="69.85" y2="11.60" stroke="#c9c9c9" stroke-width="2.6"/><line x1="69.85" y1="11.60" x2="72.4" y2="23.20" stroke="#ff1414" stroke-width="2.6"/><line x1="90.0" y1="0.00" x2="89.00" y2="11.60" stroke="#ff1414" stroke-width="2.6"/><line x1="89.00" y1="11.60" x2="88.0" y2="23.20" stroke="#c9c9c9" stroke-width="2.6"/><line x1="95.0" y1="0.00" x2="94.75" y2="11.60" stroke="#c9c9c9" stroke-width="2.6"/><line x1="94.75" y1="11.60" x2="94.5" y2="23.20" stroke="#ff1414" stroke-width="2.6"/><line x1="-12" y1="23.20" x2="12" y2="23.20" stroke="#c9c9c9" stroke-width="2.4"/><line x1="12" y1="23.20" x2="22" y2="23.20" stroke="#1a1ae0" stroke-width="2.4"/><line x1="40" y1="23.20" x2="100" y2="23.20" stroke="#ff1414" stroke-width="2.4"/><line x1="4.4" y1="23.20" x2="2.20" y2="34.80" stroke="#c9c9c9" stroke-width="2.6"/><line x1="2.20" y1="34.80" x2="0" y2="46.40" stroke="#ff1414" stroke-width="2.6"/><line x1="4.4" y1="23.20" x2="7.20" y2="34.80" stroke="#c9c9c9" stroke-width="2.6"/><line x1="7.20" y1="34.80" x2="10" y2="46.40" stroke="#ff1414" stroke-width="2.6"/><line x1="24.5" y1="23.20" x2="25.65" y2="34.80" stroke="#c9c9c9" stroke-width="2.6"/><line x1="25.65" y1="34.80" x2="26.8" y2="46.40" stroke="#ff1414" stroke-width="2.6"/><line x1="30.0" y1="23.20" x2="30.60" y2="34.80" stroke="#ff1414" stroke-width="2.6"/><line x1="30.60" y1="34.80" x2="31.2" y2="46.40" stroke="#c9c9c9" stroke-width="2.6"/><line x1="46.0" y1="23.20" x2="45.45" y2="34.80" stroke="#c9c9c9" stroke-width="2.6"/><line x1="45.45" y1="34.80" x2="44.9" y2="46.40" stroke="#ff1414" stroke-width="2.6"/><line x1="50.0" y1="23.20" x2="49.60" y2="34.80" stroke="#ff1414" stroke-width="2.6"/><line x1="49.60" y1="34.80" x2="49.2" y2="46.40" stroke="#c9c9c9" stroke-width="2.6"/><line x1="62.5" y1="23.20" x2="64.90" y2="34.80" stroke="#ff1414" stroke-width="2.6"/><line x1="64.90" y1="34.80" x2="67.3" y2="46.40" stroke="#c9c9c9" stroke-width="2.6"/><line x1="72.4" y1="23.20" x2="69.85" y2="34.80" stroke="#ff1414" stroke-width="2.6"/><line x1="69.85" y1="34.80" x2="67.3" y2="46.40" stroke="#c9c9c9" stroke-width="2.6"/><line x1="88.0" y1="23.20" x2="89.00" y2="34.80" stroke="#c9c9c9" stroke-width="2.6"/><line x1="89.00" y1="34.80" x2="90.0" y2="46.40" stroke="#ff1414" stroke-width="2.6"/><line x1="94.5" y1="23.20" x2="94.75" y2="34.80" stroke="#ff1414" stroke-width="2.6"/><line x1="94.75" y1="34.80" x2="95.0" y2="46.40" stroke="#c9c9c9" stroke-width="2.6"/><line x1="-12" y1="46.40" x2="58" y2="46.40" stroke="#ff1414" stroke-width="2.4"/><line x1="58" y1="46.40" x2="77" y2="46.40" stroke="#c9c9c9" stroke-width="2.4"/><line x1="77" y1="46.40" x2="86" y2="46.40" stroke="#1a1ae0" stroke-width="2.4"/><line x1="86" y1="46.40" x2="100" y2="46.40" stroke="#ff1414" stroke-width="2.4"/><line x1="0" y1="46.40" x2="2.20" y2="58.00" stroke="#ff1414" stroke-width="2.6"/><line x1="2.20" y1="58.00" x2="4.4" y2="69.60" stroke="#c9c9c9" stroke-width="2.6"/><line x1="10" y1="46.40" x2="7.20" y2="58.00" stroke="#ff1414" stroke-width="2.6"/><line x1="7.20" y1="58.00" x2="4.4" y2="69.60" stroke="#c9c9c9" stroke-width="2.6"/><line x1="26.8" y1="46.40" x2="25.65" y2="58.00" stroke="#ff1414" stroke-width="2.6"/><line x1="25.65" y1="58.00" x2="24.5" y2="69.60" stroke="#c9c9c9" stroke-width="2.6"/><line x1="31.2" y1="46.40" x2="30.60" y2="58.00" stroke="#c9c9c9" stroke-width="2.6"/><line x1="30.60" y1="58.00" x2="30.0" y2="69.60" stroke="#ff1414" stroke-width="2.6"/><line x1="44.9" y1="46.40" x2="45.45" y2="58.00" stroke="#ff1414" stroke-width="2.6"/><line x1="45.45" y1="58.00" x2="46.0" y2="69.60" stroke="#c9c9c9" stroke-width="2.6"/><line x1="49.2" y1="46.40" x2="49.60" y2="58.00" stroke="#c9c9c9" stroke-width="2.6"/><line x1="49.60" y1="58.00" x2="50.0" y2="69.60" stroke="#ff1414" stroke-width="2.6"/><line x1="67.3" y1="46.40" x2="64.90" y2="58.00" stroke="#c9c9c9" stroke-width="2.6"/><line x1="64.90" y1="58.00" x2="62.5" y2="69.60" stroke="#ff1414" stroke-width="2.6"/><line x1="67.3" y1="46.40" x2="69.85" y2="58.00" stroke="#c9c9c9" stroke-width="2.6"/><line x1="69.85" y1="58.00" x2="72.4" y2="69.60" stroke="#ff1414" stroke-width="2.6"/><line x1="90.0" y1="46.40" x2="89.00" y2="58.00" stroke="#ff1414" stroke-width="2.6"/><line x1="89.00" y1="58.00" x2="88.0" y2="69.60" stroke="#c9c9c9" stroke-width="2.6"/><line x1="95.0" y1="46.40" x2="94.75" y2="58.00" stroke="#c9c9c9" stroke-width="2.6"/><line x1="94.75" y1="58.00" x2="94.5" y2="69.60" stroke="#ff1414" stroke-width="2.6"/><line x1="-12" y1="69.60" x2="12" y2="69.60" stroke="#c9c9c9" stroke-width="2.4"/><line x1="12" y1="69.60" x2="22" y2="69.60" stroke="#1a1ae0" stroke-width="2.4"/><line x1="40" y1="69.60" x2="100" y2="69.60" stroke="#ff1414" stroke-width="2.4"/><line x1="4.4" y1="69.60" x2="2.20" y2="81.20" stroke="#c9c9c9" stroke-width="2.6"/><line x1="2.20" y1="81.20" x2="0" y2="92.80" stroke="#ff1414" stroke-width="2.6"/><line x1="4.4" y1="69.60" x2="7.20" y2="81.20" stroke="#c9c9c9" stroke-width="2.6"/><line x1="7.20" y1="81.20" x2="10" y2="92.80" stroke="#ff1414" stroke-width="2.6"/><line x1="24.5" y1="69.60" x2="25.65" y2="81.20" stroke="#c9c9c9" stroke-width="2.6"/><line x1="25.65" y1="81.20" x2="26.8" y2="92.80" stroke="#ff1414" stroke-width="2.6"/><line x1="30.0" y1="69.60" x2="30.60" y2="81.20" stroke="#ff1414" stroke-width="2.6"/><line x1="30.60" y1="81.20" x2="31.2" y2="92.80" stroke="#c9c9c9" stroke-width="2.6"/><line x1="46.0" y1="69.60" x2="45.45" y2="81.20" stroke="#c9c9c9" stroke-width="2.6"/><line x1="45.45" y1="81.20" x2="44.9" y2="92.80" stroke="#ff1414" stroke-width="2.6"/><line x1="50.0" y1="69.60" x2="49.60" y2="81.20" stroke="#ff1414" stroke-width="2.6"/><line x1="49.60" y1="81.20" x2="49.2" y2="92.80" stroke="#c9c9c9" stroke-width="2.6"/><line x1="62.5" y1="69.60" x2="64.90" y2="81.20" stroke="#ff1414" stroke-width="2.6"/><line x1="64.90" y1="81.20" x2="67.3" y2="92.80" stroke="#c9c9c9" stroke-width="2.6"/><line x1="72.4" y1="69.60" x2="69.85" y2="81.20" stroke="#ff1414" stroke-width="2.6"/><line x1="69.85" y1="81.20" x2="67.3" y2="92.80" stroke="#c9c9c9" stroke-width="2.6"/><line x1="88.0" y1="69.60" x2="89.00" y2="81.20" stroke="#c9c9c9" stroke-width="2.6"/><line x1="89.00" y1="81.20" x2="90.0" y2="92.80" stroke="#ff1414" stroke-width="2.6"/><line x1="94.5" y1="69.60" x2="94.75" y2="81.20" stroke="#ff1414" stroke-width="2.6"/><line x1="94.75" y1="81.20" x2="95.0" y2="92.80" stroke="#c9c9c9" stroke-width="2.6"/><line x1="-12" y1="92.80" x2="58" y2="92.80" stroke="#ff1414" stroke-width="2.4"/><line x1="58" y1="92.80" x2="77" y2="92.80" stroke="#c9c9c9" stroke-width="2.4"/><line x1="77" y1="92.80" x2="86" y2="92.80" stroke="#1a1ae0" stroke-width="2.4"/><line x1="86" y1="92.80" x2="100" y2="92.80" stroke="#ff1414" stroke-width="2.4"/><line x1="0" y1="92.80" x2="2.20" y2="104.40" stroke="#ff1414" stroke-width="2.6"/><line x1="2.20" y1="104.40" x2="4.4" y2="116.00" stroke="#c9c9c9" stroke-width="2.6"/><line x1="10" y1="92.80" x2="7.20" y2="104.40" stroke="#ff1414" stroke-width="2.6"/><line x1="7.20" y1="104.40" x2="4.4" y2="116.00" stroke="#c9c9c9" stroke-width="2.6"/><line x1="26.8" y1="92.80" x2="25.65" y2="104.40" stroke="#ff1414" stroke-width="2.6"/><line x1="25.65" y1="104.40" x2="24.5" y2="116.00" stroke="#c9c9c9" stroke-width="2.6"/><line x1="31.2" y1="92.80" x2="30.60" y2="104.40" stroke="#c9c9c9" stroke-width="2.6"/><line x1="30.60" y1="104.40" x2="30.0" y2="116.00" stroke="#ff1414" stroke-width="2.6"/><line x1="44.9" y1="92.80" x2="45.45" y2="104.40" stroke="#ff1414" stroke-width="2.6"/><line x1="45.45" y1="104.40" x2="46.0" y2="116.00" stroke="#c9c9c9" stroke-width="2.6"/><line x1="49.2" y1="92.80" x2="49.60" y2="104.40" stroke="#c9c9c9" stroke-width="2.6"/><line x1="49.60" y1="104.40" x2="50.0" y2="116.00" stroke="#ff1414" stroke-width="2.6"/><line x1="67.3" y1="92.80" x2="64.90" y2="104.40" stroke="#c9c9c9" stroke-width="2.6"/><line x1="64.90" y1="104.40" x2="62.5" y2="116.00" stroke="#ff1414" stroke-width="2.6"/><line x1="67.3" y1="92.80" x2="69.85" y2="104.40" stroke="#c9c9c9" stroke-width="2.6"/><line x1="69.85" y1="104.40" x2="72.4" y2="116.00" stroke="#ff1414" stroke-width="2.6"/><line x1="90.0" y1="92.80" x2="89.00" y2="104.40" stroke="#ff1414" stroke-width="2.6"/><line x1="89.00" y1="104.40" x2="88.0" y2="116.00" stroke="#c9c9c9" stroke-width="2.6"/><line x1="95.0" y1="92.80" x2="94.75" y2="104.40" stroke="#c9c9c9" stroke-width="2.6"/><line x1="94.75" y1="104.40" x2="94.5" y2="116.00" stroke="#ff1414" stroke-width="2.6"/><line x1="-12" y1="116.00" x2="12" y2="116.00" stroke="#c9c9c9" stroke-width="2.4"/><line x1="12" y1="116.00" x2="22" y2="116.00" stroke="#1a1ae0" stroke-width="2.4"/><line x1="40" y1="116.00" x2="100" y2="116.00" stroke="#ff1414" stroke-width="2.4"/><line x1="4.4" y1="116.00" x2="2.20" y2="127.60" stroke="#c9c9c9" stroke-width="2.6"/><line x1="2.20" y1="127.60" x2="0" y2="139.20" stroke="#ff1414" stroke-width="2.6"/><line x1="4.4" y1="116.00" x2="7.20" y2="127.60" stroke="#c9c9c9" stroke-width="2.6"/><line x1="7.20" y1="127.60" x2="10" y2="139.20" stroke="#ff1414" stroke-width="2.6"/><line x1="24.5" y1="116.00" x2="25.65" y2="127.60" stroke="#c9c9c9" stroke-width="2.6"/><line x1="25.65" y1="127.60" x2="26.8" y2="139.20" stroke="#ff1414" stroke-width="2.6"/><line x1="30.0" y1="116.00" x2="30.60" y2="127.60" stroke="#ff1414" stroke-width="2.6"/><line x1="30.60" y1="127.60" x2="31.2" y2="139.20" stroke="#c9c9c9" stroke-width="2.6"/><line x1="46.0" y1="116.00" x2="45.45" y2="127.60" stroke="#c9c9c9" stroke-width="2.6"/><line x1="45.45" y1="127.60" x2="44.9" y2="139.20" stroke="#ff1414" stroke-width="2.6"/><line x1="50.0" y1="116.00" x2="49.60" y2="127.60" stroke="#ff1414" stroke-width="2.6"/><line x1="49.60" y1="127.60" x2="49.2" y2="139.20" stroke="#c9c9c9" stroke-width="2.6"/><line x1="62.5" y1="116.00" x2="64.90" y2="127.60" stroke="#ff1414" stroke-width="2.6"/><line x1="64.90" y1="127.60" x2="67.3" y2="139.20" stroke="#c9c9c9" stroke-width="2.6"/><line x1="72.4" y1="116.00" x2="69.85" y2="127.60" stroke="#ff1414" stroke-width="2.6"/><line x1="69.85" y1="127.60" x2="67.3" y2="139.20" stroke="#c9c9c9" stroke-width="2.6"/><line x1="88.0" y1="116.00" x2="89.00" y2="127.60" stroke="#c9c9c9" stroke-width="2.6"/><line x1="89.00" y1="127.60" x2="90.0" y2="139.20" stroke="#ff1414" stroke-width="2.6"/><line x1="94.5" y1="116.00" x2="94.75" y2="127.60" stroke="#ff1414" stroke-width="2.6"/><line x1="94.75" y1="127.60" x2="95.0" y2="139.20" stroke="#c9c9c9" stroke-width="2.6"/><circle cx="-1.8" cy="-23.20" r="5.0" fill="url(#gRed)"/><circle cx="10.6" cy="-23.20" r="5.0" fill="url(#gRed)"/><circle cx="38.0" cy="-23.20" r="4.6" fill="url(#gTiB)"/><circle cx="94.5" cy="-23.20" r="4.4" fill="url(#gTiB)"/><circle cx="30.8" cy="0.00" r="4.7" fill="url(#gTiB)"/><circle cx="48.8" cy="0.00" r="4.7" fill="url(#gTiB)"/><circle cx="95.0" cy="0.00" r="4.4" fill="url(#gTiB)"/><circle cx="61.9" cy="0.00" r="5.0" fill="url(#gRed)"/><circle cx="72.7" cy="0.00" r="5.0" fill="url(#gRed)"/><circle cx="-1.8" cy="23.20" r="5.0" fill="url(#gRed)"/><circle cx="10.6" cy="23.20" r="5.0" fill="url(#gRed)"/><circle cx="38.0" cy="23.20" r="4.6" fill="url(#gTiB)"/><circle cx="94.5" cy="23.20" r="4.4" fill="url(#gTiB)"/><circle cx="30.8" cy="46.40" r="4.7" fill="url(#gTiB)"/><circle cx="48.8" cy="46.40" r="4.7" fill="url(#gTiB)"/><circle cx="95.0" cy="46.40" r="4.4" fill="url(#gTiB)"/><circle cx="61.9" cy="46.40" r="5.0" fill="url(#gRed)"/><circle cx="72.7" cy="46.40" r="5.0" fill="url(#gRed)"/><circle cx="-1.8" cy="69.60" r="5.0" fill="url(#gRed)"/><circle cx="10.6" cy="69.60" r="5.0" fill="url(#gRed)"/><circle cx="38.0" cy="69.60" r="4.6" fill="url(#gTiB)"/><circle cx="94.5" cy="69.60" r="4.4" fill="url(#gTiB)"/><circle cx="30.8" cy="92.80" r="4.7" fill="url(#gTiB)"/><circle cx="48.8" cy="92.80" r="4.7" fill="url(#gTiB)"/><circle cx="95.0" cy="92.80" r="4.4" fill="url(#gTiB)"/><circle cx="61.9" cy="92.80" r="5.0" fill="url(#gRed)"/><circle cx="72.7" cy="92.80" r="5.0" fill="url(#gRed)"/><circle cx="-1.8" cy="116.00" r="5.0" fill="url(#gRed)"/><circle cx="10.6" cy="116.00" r="5.0" fill="url(#gRed)"/><circle cx="38.0" cy="116.00" r="4.6" fill="url(#gTiB)"/><circle cx="94.5" cy="116.00" r="4.4" fill="url(#gTiB)"/><circle cx="26.0" cy="-23.20" r="5.25" fill="url(#gRed)"/><circle cx="46.0" cy="-23.20" r="5.25" fill="url(#gRed)"/><circle cx="62.5" cy="-23.20" r="5.25" fill="url(#gRed)"/><circle cx="72.4" cy="-23.20" r="5.25" fill="url(#gRed)"/><circle cx="89.0" cy="-23.20" r="5.25" fill="url(#gRed)"/><circle cx="4.4" cy="-23.20" r="5.3" fill="url(#gTi)"/><ellipse cx="17.4" cy="-23.20" rx="5.8" ry="5.2" fill="url(#gBlue)"/><circle cx="0" cy="0.00" r="5.35" fill="url(#gRed)"/><circle cx="10.0" cy="0.00" r="5.35" fill="url(#gRed)"/><circle cx="26.8" cy="0.00" r="5.35" fill="url(#gRed)"/><circle cx="44.9" cy="0.00" r="5.35" fill="url(#gRed)"/><circle cx="67.3" cy="0.00" r="5.3" fill="url(#gTi)"/><ellipse cx="81.6" cy="0.00" rx="5.8" ry="5.2" fill="url(#gBlue)"/><circle cx="91.0" cy="0.00" r="5.1" fill="url(#gRed)"/><circle cx="26.0" cy="23.20" r="5.25" fill="url(#gRed)"/><circle cx="46.0" cy="23.20" r="5.25" fill="url(#gRed)"/><circle cx="62.5" cy="23.20" r="5.25" fill="url(#gRed)"/><circle cx="72.4" cy="23.20" r="5.25" fill="url(#gRed)"/><circle cx="89.0" cy="23.20" r="5.25" fill="url(#gRed)"/><circle cx="4.4" cy="23.20" r="5.3" fill="url(#gTi)"/><ellipse cx="17.4" cy="23.20" rx="5.8" ry="5.2" fill="url(#gBlue)"/><circle cx="0" cy="46.40" r="5.35" fill="url(#gRed)"/><circle cx="10.0" cy="46.40" r="5.35" fill="url(#gRed)"/><circle cx="26.8" cy="46.40" r="5.35" fill="url(#gRed)"/><circle cx="44.9" cy="46.40" r="5.35" fill="url(#gRed)"/><circle cx="67.3" cy="46.40" r="5.3" fill="url(#gTi)"/><ellipse cx="81.6" cy="46.40" rx="5.8" ry="5.2" fill="url(#gBlue)"/><circle cx="91.0" cy="46.40" r="5.1" fill="url(#gRed)"/><circle cx="26.0" cy="69.60" r="5.25" fill="url(#gRed)"/><circle cx="46.0" cy="69.60" r="5.25" fill="url(#gRed)"/><circle cx="62.5" cy="69.60" r="5.25" fill="url(#gRed)"/><circle cx="72.4" cy="69.60" r="5.25" fill="url(#gRed)"/><circle cx="89.0" cy="69.60" r="5.25" fill="url(#gRed)"/><circle cx="4.4" cy="69.60" r="5.3" fill="url(#gTi)"/><ellipse cx="17.4" cy="69.60" rx="5.8" ry="5.2" fill="url(#gBlue)"/><circle cx="0" cy="92.80" r="5.35" fill="url(#gRed)"/><circle cx="10.0" cy="92.80" r="5.35" fill="url(#gRed)"/><circle cx="26.8" cy="92.80" r="5.35" fill="url(#gRed)"/><circle cx="44.9" cy="92.80" r="5.35" fill="url(#gRed)"/><circle cx="67.3" cy="92.80" r="5.3" fill="url(#gTi)"/><ellipse cx="81.6" cy="92.80" rx="5.8" ry="5.2" fill="url(#gBlue)"/><circle cx="91.0" cy="92.80" r="5.1" fill="url(#gRed)"/><circle cx="26.0" cy="116.00" r="5.25" fill="url(#gRed)"/><circle cx="46.0" cy="116.00" r="5.25" fill="url(#gRed)"/><circle cx="62.5" cy="116.00" r="5.25" fill="url(#gRed)"/><circle cx="72.4" cy="116.00" r="5.25" fill="url(#gRed)"/><circle cx="89.0" cy="116.00" r="5.25" fill="url(#gRed)"/><circle cx="4.4" cy="116.00" r="5.3" fill="url(#gTi)"/><ellipse cx="17.4" cy="116.00" rx="5.8" ry="5.2" fill="url(#gBlue)"/></g><circle cx="361.0" cy="196.5" r="10.5" fill="url(#gGreen)"/><circle cx="390.3" cy="209.5" r="18.9" fill="url(#gAu)"/><circle cx="352.1" cy="221.2" r="20.5" fill="url(#gCe)" clip-path="url(#k4)"/><circle cx="368.7" cy="242.6" r="16.6" fill="url(#gGreen)" clip-path="url(#k5)"/><circle cx="375.2" cy="199.9" r="11.0" fill="url(#gC)"/><circle cx="377.4" cy="190.1" r="9.9" fill="url(#gPink)"/></g></g><g clip-path="url(#cS2)"><g filter="url(#soft)"><g transform="translate(463.6,185.1) scale(0.995)"><line x1="-12" y1="-23.20" x2="12" y2="-23.20" stroke="#c9c9c9" stroke-width="2.4"/><line x1="12" y1="-23.20" x2="22" y2="-23.20" stroke="#1a1ae0" stroke-width="2.4"/><line x1="40" y1="-23.20" x2="100" y2="-23.20" stroke="#ff1414" stroke-width="2.4"/><line x1="4.4" y1="-23.20" x2="2.20" y2="-11.60" stroke="#c9c9c9" stroke-width="2.6"/><line x1="2.20" y1="-11.60" x2="0" y2="0.00" stroke="#ff1414" stroke-width="2.6"/><line x1="4.4" y1="-23.20" x2="7.20" y2="-11.60" stroke="#c9c9c9" stroke-width="2.6"/><line x1="7.20" y1="-11.60" x2="10" y2="0.00" stroke="#ff1414" stroke-width="2.6"/><line x1="24.5" y1="-23.20" x2="25.65" y2="-11.60" stroke="#c9c9c9" stroke-width="2.6"/><line x1="25.65" y1="-11.60" x2="26.8" y2="0.00" stroke="#ff1414" stroke-width="2.6"/><line x1="30.0" y1="-23.20" x2="30.60" y2="-11.60" stroke="#ff1414" stroke-width="2.6"/><line x1="30.60" y1="-11.60" x2="31.2" y2="0.00" stroke="#c9c9c9" stroke-width="2.6"/><line x1="46.0" y1="-23.20" x2="45.45" y2="-11.60" stroke="#c9c9c9" stroke-width="2.6"/><line x1="45.45" y1="-11.60" x2="44.9" y2="0.00" stroke="#ff1414" stroke-width="2.6"/><line x1="50.0" y1="-23.20" x2="49.60" y2="-11.60" stroke="#ff1414" stroke-width="2.6"/><line x1="49.60" y1="-11.60" x2="49.2" y2="0.00" stroke="#c9c9c9" stroke-width="2.6"/><line x1="62.5" y1="-23.20" x2="64.90" y2="-11.60" stroke="#ff1414" stroke-width="2.6"/><line x1="64.90" y1="-11.60" x2="67.3" y2="0.00" stroke="#c9c9c9" stroke-width="2.6"/><line x1="72.4" y1="-23.20" x2="69.85" y2="-11.60" stroke="#ff1414" stroke-width="2.6"/><line x1="69.85" y1="-11.60" x2="67.3" y2="0.00" stroke="#c9c9c9" stroke-width="2.6"/><line x1="88.0" y1="-23.20" x2="89.00" y2="-11.60" stroke="#c9c9c9" stroke-width="2.6"/><line x1="89.00" y1="-11.60" x2="90.0" y2="0.00" stroke="#ff1414" stroke-width="2.6"/><line x1="94.5" y1="-23.20" x2="94.75" y2="-11.60" stroke="#ff1414" stroke-width="2.6"/><line x1="94.75" y1="-11.60" x2="95.0" y2="0.00" stroke="#c9c9c9" stroke-width="2.6"/><line x1="-12" y1="0.00" x2="58" y2="0.00" stroke="#ff1414" stroke-width="2.4"/><line x1="58" y1="0.00" x2="77" y2="0.00" stroke="#c9c9c9" stroke-width="2.4"/><line x1="77" y1="0.00" x2="86" y2="0.00" stroke="#1a1ae0" stroke-width="2.4"/><line x1="86" y1="0.00" x2="100" y2="0.00" stroke="#ff1414" stroke-width="2.4"/><line x1="0" y1="0.00" x2="2.20" y2="11.60" stroke="#ff1414" stroke-width="2.6"/><line x1="2.20" y1="11.60" x2="4.4" y2="23.20" stroke="#c9c9c9" stroke-width="2.6"/><line x1="10" y1="0.00" x2="7.20" y2="11.60" stroke="#ff1414" stroke-width="2.6"/><line x1="7.20" y1="11.60" x2="4.4" y2="23.20" stroke="#c9c9c9" stroke-width="2.6"/><line x1="26.8" y1="0.00" x2="25.65" y2="11.60" stroke="#ff1414" stroke-width="2.6"/><line x1="25.65" y1="11.60" x2="24.5" y2="23.20" stroke="#c9c9c9" stroke-width="2.6"/><line x1="31.2" y1="0.00" x2="30.60" y2="11.60" stroke="#c9c9c9" stroke-width="2.6"/><line x1="30.60" y1="11.60" x2="30.0" y2="23.20" stroke="#ff1414" stroke-width="2.6"/><line x1="44.9" y1="0.00" x2="45.45" y2="11.60" stroke="#ff1414" stroke-width="2.6"/><line x1="45.45" y1="11.60" x2="46.0" y2="23.20" stroke="#c9c9c9" stroke-width="2.6"/><line x1="49.2" y1="0.00" x2="49.60" y2="11.60" stroke="#c9c9c9" stroke-width="2.6"/><line x1="49.60" y1="11.60" x2="50.0" y2="23.20" stroke="#ff1414" stroke-width="2.6"/><line x1="67.3" y1="0.00" x2="64.90" y2="11.60" stroke="#c9c9c9" stroke-width="2.6"/><line x1="64.90" y1="11.60" x2="62.5" y2="23.20" stroke="#ff1414" stroke-width="2.6"/><line x1="67.3" y1="0.00" x2="69.85" y2="11.60" stroke="#c9c9c9" stroke-width="2.6"/><line x1="69.85" y1="11.60" x2="72.4" y2="23.20" stroke="#ff1414" stroke-width="2.6"/><line x1="90.0" y1="0.00" x2="89.00" y2="11.60" stroke="#ff1414" stroke-width="2.6"/><line x1="89.00" y1="11.60" x2="88.0" y2="23.20" stroke="#c9c9c9" stroke-width="2.6"/><line x1="95.0" y1="0.00" x2="94.75" y2="11.60" stroke="#c9c9c9" stroke-width="2.6"/><line x1="94.75" y1="11.60" x2="94.5" y2="23.20" stroke="#ff1414" stroke-width="2.6"/><line x1="-12" y1="23.20" x2="12" y2="23.20" stroke="#c9c9c9" stroke-width="2.4"/><line x1="12" y1="23.20" x2="22" y2="23.20" stroke="#1a1ae0" stroke-width="2.4"/><line x1="40" y1="23.20" x2="100" y2="23.20" stroke="#ff1414" stroke-width="2.4"/><line x1="4.4" y1="23.20" x2="2.20" y2="34.80" stroke="#c9c9c9" stroke-width="2.6"/><line x1="2.20" y1="34.80" x2="0" y2="46.40" stroke="#ff1414" stroke-width="2.6"/><line x1="4.4" y1="23.20" x2="7.20" y2="34.80" stroke="#c9c9c9" stroke-width="2.6"/><line x1="7.20" y1="34.80" x2="10" y2="46.40" stroke="#ff1414" stroke-width="2.6"/><line x1="24.5" y1="23.20" x2="25.65" y2="34.80" stroke="#c9c9c9" stroke-width="2.6"/><line x1="25.65" y1="34.80" x2="26.8" y2="46.40" stroke="#ff1414" stroke-width="2.6"/><line x1="30.0" y1="23.20" x2="30.60" y2="34.80" stroke="#ff1414" stroke-width="2.6"/><line x1="30.60" y1="34.80" x2="31.2" y2="46.40" stroke="#c9c9c9" stroke-width="2.6"/><line x1="46.0" y1="23.20" x2="45.45" y2="34.80" stroke="#c9c9c9" stroke-width="2.6"/><line x1="45.45" y1="34.80" x2="44.9" y2="46.40" stroke="#ff1414" stroke-width="2.6"/><line x1="50.0" y1="23.20" x2="49.60" y2="34.80" stroke="#ff1414" stroke-width="2.6"/><line x1="49.60" y1="34.80" x2="49.2" y2="46.40" stroke="#c9c9c9" stroke-width="2.6"/><line x1="62.5" y1="23.20" x2="64.90" y2="34.80" stroke="#ff1414" stroke-width="2.6"/><line x1="64.90" y1="34.80" x2="67.3" y2="46.40" stroke="#c9c9c9" stroke-width="2.6"/><line x1="72.4" y1="23.20" x2="69.85" y2="34.80" stroke="#ff1414" stroke-width="2.6"/><line x1="69.85" y1="34.80" x2="67.3" y2="46.40" stroke="#c9c9c9" stroke-width="2.6"/><line x1="88.0" y1="23.20" x2="89.00" y2="34.80" stroke="#c9c9c9" stroke-width="2.6"/><line x1="89.00" y1="34.80" x2="90.0" y2="46.40" stroke="#ff1414" stroke-width="2.6"/><line x1="94.5" y1="23.20" x2="94.75" y2="34.80" stroke="#ff1414" stroke-width="2.6"/><line x1="94.75" y1="34.80" x2="95.0" y2="46.40" stroke="#c9c9c9" stroke-width="2.6"/><line x1="-12" y1="46.40" x2="58" y2="46.40" stroke="#ff1414" stroke-width="2.4"/><line x1="58" y1="46.40" x2="77" y2="46.40" stroke="#c9c9c9" stroke-width="2.4"/><line x1="77" y1="46.40" x2="86" y2="46.40" stroke="#1a1ae0" stroke-width="2.4"/><line x1="86" y1="46.40" x2="100" y2="46.40" stroke="#ff1414" stroke-width="2.4"/><line x1="0" y1="46.40" x2="2.20" y2="58.00" stroke="#ff1414" stroke-width="2.6"/><line x1="2.20" y1="58.00" x2="4.4" y2="69.60" stroke="#c9c9c9" stroke-width="2.6"/><line x1="10" y1="46.40" x2="7.20" y2="58.00" stroke="#ff1414" stroke-width="2.6"/><line x1="7.20" y1="58.00" x2="4.4" y2="69.60" stroke="#c9c9c9" stroke-width="2.6"/><line x1="26.8" y1="46.40" x2="25.65" y2="58.00" stroke="#ff1414" stroke-width="2.6"/><line x1="25.65" y1="58.00" x2="24.5" y2="69.60" stroke="#c9c9c9" stroke-width="2.6"/><line x1="31.2" y1="46.40" x2="30.60" y2="58.00" stroke="#c9c9c9" stroke-width="2.6"/><line x1="30.60" y1="58.00" x2="30.0" y2="69.60" stroke="#ff1414" stroke-width="2.6"/><line x1="44.9" y1="46.40" x2="45.45" y2="58.00" stroke="#ff1414" stroke-width="2.6"/><line x1="45.45" y1="58.00" x2="46.0" y2="69.60" stroke="#c9c9c9" stroke-width="2.6"/><line x1="49.2" y1="46.40" x2="49.60" y2="58.00" stroke="#c9c9c9" stroke-width="2.6"/><line x1="49.60" y1="58.00" x2="50.0" y2="69.60" stroke="#ff1414" stroke-width="2.6"/><line x1="67.3" y1="46.40" x2="64.90" y2="58.00" stroke="#c9c9c9" stroke-width="2.6"/><line x1="64.90" y1="58.00" x2="62.5" y2="69.60" stroke="#ff1414" stroke-width="2.6"/><line x1="67.3" y1="46.40" x2="69.85" y2="58.00" stroke="#c9c9c9" stroke-width="2.6"/><line x1="69.85" y1="58.00" x2="72.4" y2="69.60" stroke="#ff1414" stroke-width="2.6"/><line x1="90.0" y1="46.40" x2="89.00" y2="58.00" stroke="#ff1414" stroke-width="2.6"/><line x1="89.00" y1="58.00" x2="88.0" y2="69.60" stroke="#c9c9c9" stroke-width="2.6"/><line x1="95.0" y1="46.40" x2="94.75" y2="58.00" stroke="#c9c9c9" stroke-width="2.6"/><line x1="94.75" y1="58.00" x2="94.5" y2="69.60" stroke="#ff1414" stroke-width="2.6"/><line x1="-12" y1="69.60" x2="12" y2="69.60" stroke="#c9c9c9" stroke-width="2.4"/><line x1="12" y1="69.60" x2="22" y2="69.60" stroke="#1a1ae0" stroke-width="2.4"/><line x1="40" y1="69.60" x2="100" y2="69.60" stroke="#ff1414" stroke-width="2.4"/><line x1="4.4" y1="69.60" x2="2.20" y2="81.20" stroke="#c9c9c9" stroke-width="2.6"/><line x1="2.20" y1="81.20" x2="0" y2="92.80" stroke="#ff1414" stroke-width="2.6"/><line x1="4.4" y1="69.60" x2="7.20" y2="81.20" stroke="#c9c9c9" stroke-width="2.6"/><line x1="7.20" y1="81.20" x2="10" y2="92.80" stroke="#ff1414" stroke-width="2.6"/><line x1="24.5" y1="69.60" x2="25.65" y2="81.20" stroke="#c9c9c9" stroke-width="2.6"/><line x1="25.65" y1="81.20" x2="26.8" y2="92.80" stroke="#ff1414" stroke-width="2.6"/><line x1="30.0" y1="69.60" x2="30.60" y2="81.20" stroke="#ff1414" stroke-width="2.6"/><line x1="30.60" y1="81.20" x2="31.2" y2="92.80" stroke="#c9c9c9" stroke-width="2.6"/><line x1="46.0" y1="69.60" x2="45.45" y2="81.20" stroke="#c9c9c9" stroke-width="2.6"/><line x1="45.45" y1="81.20" x2="44.9" y2="92.80" stroke="#ff1414" stroke-width="2.6"/><line x1="50.0" y1="69.60" x2="49.60" y2="81.20" stroke="#ff1414" stroke-width="2.6"/><line x1="49.60" y1="81.20" x2="49.2" y2="92.80" stroke="#c9c9c9" stroke-width="2.6"/><line x1="62.5" y1="69.60" x2="64.90" y2="81.20" stroke="#ff1414" stroke-width="2.6"/><line x1="64.90" y1="81.20" x2="67.3" y2="92.80" stroke="#c9c9c9" stroke-width="2.6"/><line x1="72.4" y1="69.60" x2="69.85" y2="81.20" stroke="#ff1414" stroke-width="2.6"/><line x1="69.85" y1="81.20" x2="67.3" y2="92.80" stroke="#c9c9c9" stroke-width="2.6"/><line x1="88.0" y1="69.60" x2="89.00" y2="81.20" stroke="#c9c9c9" stroke-width="2.6"/><line x1="89.00" y1="81.20" x2="90.0" y2="92.80" stroke="#ff1414" stroke-width="2.6"/><line x1="94.5" y1="69.60" x2="94.75" y2="81.20" stroke="#ff1414" stroke-width="2.6"/><line x1="94.75" y1="81.20" x2="95.0" y2="92.80" stroke="#c9c9c9" stroke-width="2.6"/><line x1="-12" y1="92.80" x2="58" y2="92.80" stroke="#ff1414" stroke-width="2.4"/><line x1="58" y1="92.80" x2="77" y2="92.80" stroke="#c9c9c9" stroke-width="2.4"/><line x1="77" y1="92.80" x2="86" y2="92.80" stroke="#1a1ae0" stroke-width="2.4"/><line x1="86" y1="92.80" x2="100" y2="92.80" stroke="#ff1414" stroke-width="2.4"/><line x1="0" y1="92.80" x2="2.20" y2="104.40" stroke="#ff1414" stroke-width="2.6"/><line x1="2.20" y1="104.40" x2="4.4" y2="116.00" stroke="#c9c9c9" stroke-width="2.6"/><line x1="10" y1="92.80" x2="7.20" y2="104.40" stroke="#ff1414" stroke-width="2.6"/><line x1="7.20" y1="104.40" x2="4.4" y2="116.00" stroke="#c9c9c9" stroke-width="2.6"/><line x1="26.8" y1="92.80" x2="25.65" y2="104.40" stroke="#ff1414" stroke-width="2.6"/><line x1="25.65" y1="104.40" x2="24.5" y2="116.00" stroke="#c9c9c9" stroke-width="2.6"/><line x1="31.2" y1="92.80" x2="30.60" y2="104.40" stroke="#c9c9c9" stroke-width="2.6"/><line x1="30.60" y1="104.40" x2="30.0" y2="116.00" stroke="#ff1414" stroke-width="2.6"/><line x1="44.9" y1="92.80" x2="45.45" y2="104.40" stroke="#ff1414" stroke-width="2.6"/><line x1="45.45" y1="104.40" x2="46.0" y2="116.00" stroke="#c9c9c9" stroke-width="2.6"/><line x1="49.2" y1="92.80" x2="49.60" y2="104.40" stroke="#c9c9c9" stroke-width="2.6"/><line x1="49.60" y1="104.40" x2="50.0" y2="116.00" stroke="#ff1414" stroke-width="2.6"/><line x1="67.3" y1="92.80" x2="64.90" y2="104.40" stroke="#c9c9c9" stroke-width="2.6"/><line x1="64.90" y1="104.40" x2="62.5" y2="116.00" stroke="#ff1414" stroke-width="2.6"/><line x1="67.3" y1="92.80" x2="69.85" y2="104.40" stroke="#c9c9c9" stroke-width="2.6"/><line x1="69.85" y1="104.40" x2="72.4" y2="116.00" stroke="#ff1414" stroke-width="2.6"/><line x1="90.0" y1="92.80" x2="89.00" y2="104.40" stroke="#ff1414" stroke-width="2.6"/><line x1="89.00" y1="104.40" x2="88.0" y2="116.00" stroke="#c9c9c9" stroke-width="2.6"/><line x1="95.0" y1="92.80" x2="94.75" y2="104.40" stroke="#c9c9c9" stroke-width="2.6"/><line x1="94.75" y1="104.40" x2="94.5" y2="116.00" stroke="#ff1414" stroke-width="2.6"/><line x1="-12" y1="116.00" x2="12" y2="116.00" stroke="#c9c9c9" stroke-width="2.4"/><line x1="12" y1="116.00" x2="22" y2="116.00" stroke="#1a1ae0" stroke-width="2.4"/><line x1="40" y1="116.00" x2="100" y2="116.00" stroke="#ff1414" stroke-width="2.4"/><line x1="4.4" y1="116.00" x2="2.20" y2="127.60" stroke="#c9c9c9" stroke-width="2.6"/><line x1="2.20" y1="127.60" x2="0" y2="139.20" stroke="#ff1414" stroke-width="2.6"/><line x1="4.4" y1="116.00" x2="7.20" y2="127.60" stroke="#c9c9c9" stroke-width="2.6"/><line x1="7.20" y1="127.60" x2="10" y2="139.20" stroke="#ff1414" stroke-width="2.6"/><line x1="24.5" y1="116.00" x2="25.65" y2="127.60" stroke="#c9c9c9" stroke-width="2.6"/><line x1="25.65" y1="127.60" x2="26.8" y2="139.20" stroke="#ff1414" stroke-width="2.6"/><line x1="30.0" y1="116.00" x2="30.60" y2="127.60" stroke="#ff1414" stroke-width="2.6"/><line x1="30.60" y1="127.60" x2="31.2" y2="139.20" stroke="#c9c9c9" stroke-width="2.6"/><line x1="46.0" y1="116.00" x2="45.45" y2="127.60" stroke="#c9c9c9" stroke-width="2.6"/><line x1="45.45" y1="127.60" x2="44.9" y2="139.20" stroke="#ff1414" stroke-width="2.6"/><line x1="50.0" y1="116.00" x2="49.60" y2="127.60" stroke="#ff1414" stroke-width="2.6"/><line x1="49.60" y1="127.60" x2="49.2" y2="139.20" stroke="#c9c9c9" stroke-width="2.6"/><line x1="62.5" y1="116.00" x2="64.90" y2="127.60" stroke="#ff1414" stroke-width="2.6"/><line x1="64.90" y1="127.60" x2="67.3" y2="139.20" stroke="#c9c9c9" stroke-width="2.6"/><line x1="72.4" y1="116.00" x2="69.85" y2="127.60" stroke="#ff1414" stroke-width="2.6"/><line x1="69.85" y1="127.60" x2="67.3" y2="139.20" stroke="#c9c9c9" stroke-width="2.6"/><line x1="88.0" y1="116.00" x2="89.00" y2="127.60" stroke="#c9c9c9" stroke-width="2.6"/><line x1="89.00" y1="127.60" x2="90.0" y2="139.20" stroke="#ff1414" stroke-width="2.6"/><line x1="94.5" y1="116.00" x2="94.75" y2="127.60" stroke="#ff1414" stroke-width="2.6"/><line x1="94.75" y1="127.60" x2="95.0" y2="139.20" stroke="#c9c9c9" stroke-width="2.6"/><circle cx="-1.8" cy="-23.20" r="5.0" fill="url(#gRed)"/><circle cx="10.6" cy="-23.20" r="5.0" fill="url(#gRed)"/><circle cx="38.0" cy="-23.20" r="4.6" fill="url(#gTiB)"/><circle cx="94.5" cy="-23.20" r="4.4" fill="url(#gTiB)"/><circle cx="30.8" cy="0.00" r="4.7" fill="url(#gTiB)"/><circle cx="48.8" cy="0.00" r="4.7" fill="url(#gTiB)"/><circle cx="95.0" cy="0.00" r="4.4" fill="url(#gTiB)"/><circle cx="61.9" cy="0.00" r="5.0" fill="url(#gRed)"/><circle cx="72.7" cy="0.00" r="5.0" fill="url(#gRed)"/><circle cx="-1.8" cy="23.20" r="5.0" fill="url(#gRed)"/><circle cx="10.6" cy="23.20" r="5.0" fill="url(#gRed)"/><circle cx="38.0" cy="23.20" r="4.6" fill="url(#gTiB)"/><circle cx="94.5" cy="23.20" r="4.4" fill="url(#gTiB)"/><circle cx="30.8" cy="46.40" r="4.7" fill="url(#gTiB)"/><circle cx="48.8" cy="46.40" r="4.7" fill="url(#gTiB)"/><circle cx="95.0" cy="46.40" r="4.4" fill="url(#gTiB)"/><circle cx="61.9" cy="46.40" r="5.0" fill="url(#gRed)"/><circle cx="72.7" cy="46.40" r="5.0" fill="url(#gRed)"/><circle cx="-1.8" cy="69.60" r="5.0" fill="url(#gRed)"/><circle cx="10.6" cy="69.60" r="5.0" fill="url(#gRed)"/><circle cx="38.0" cy="69.60" r="4.6" fill="url(#gTiB)"/><circle cx="94.5" cy="69.60" r="4.4" fill="url(#gTiB)"/><circle cx="30.8" cy="92.80" r="4.7" fill="url(#gTiB)"/><circle cx="48.8" cy="92.80" r="4.7" fill="url(#gTiB)"/><circle cx="95.0" cy="92.80" r="4.4" fill="url(#gTiB)"/><circle cx="61.9" cy="92.80" r="5.0" fill="url(#gRed)"/><circle cx="72.7" cy="92.80" r="5.0" fill="url(#gRed)"/><circle cx="-1.8" cy="116.00" r="5.0" fill="url(#gRed)"/><circle cx="10.6" cy="116.00" r="5.0" fill="url(#gRed)"/><circle cx="38.0" cy="116.00" r="4.6" fill="url(#gTiB)"/><circle cx="94.5" cy="116.00" r="4.4" fill="url(#gTiB)"/><circle cx="26.0" cy="-23.20" r="5.25" fill="url(#gRed)"/><circle cx="46.0" cy="-23.20" r="5.25" fill="url(#gRed)"/><circle cx="62.5" cy="-23.20" r="5.25" fill="url(#gRed)"/><circle cx="72.4" cy="-23.20" r="5.25" fill="url(#gRed)"/><circle cx="89.0" cy="-23.20" r="5.25" fill="url(#gRed)"/><circle cx="4.4" cy="-23.20" r="5.3" fill="url(#gTi)"/><ellipse cx="17.4" cy="-23.20" rx="5.8" ry="5.2" fill="url(#gBlue)"/><circle cx="0" cy="0.00" r="5.35" fill="url(#gRed)"/><circle cx="10.0" cy="0.00" r="5.35" fill="url(#gRed)"/><circle cx="26.8" cy="0.00" r="5.35" fill="url(#gRed)"/><circle cx="44.9" cy="0.00" r="5.35" fill="url(#gRed)"/><circle cx="67.3" cy="0.00" r="5.3" fill="url(#gTi)"/><ellipse cx="81.6" cy="0.00" rx="5.8" ry="5.2" fill="url(#gBlue)"/><circle cx="91.0" cy="0.00" r="5.1" fill="url(#gRed)"/><circle cx="26.0" cy="23.20" r="5.25" fill="url(#gRed)"/><circle cx="46.0" cy="23.20" r="5.25" fill="url(#gRed)"/><circle cx="62.5" cy="23.20" r="5.25" fill="url(#gRed)"/><circle cx="72.4" cy="23.20" r="5.25" fill="url(#gRed)"/><circle cx="89.0" cy="23.20" r="5.25" fill="url(#gRed)"/><circle cx="4.4" cy="23.20" r="5.3" fill="url(#gTi)"/><ellipse cx="17.4" cy="23.20" rx="5.8" ry="5.2" fill="url(#gBlue)"/><circle cx="0" cy="46.40" r="5.35" fill="url(#gRed)"/><circle cx="10.0" cy="46.40" r="5.35" fill="url(#gRed)"/><circle cx="26.8" cy="46.40" r="5.35" fill="url(#gRed)"/><circle cx="44.9" cy="46.40" r="5.35" fill="url(#gRed)"/><circle cx="67.3" cy="46.40" r="5.3" fill="url(#gTi)"/><ellipse cx="81.6" cy="46.40" rx="5.8" ry="5.2" fill="url(#gBlue)"/><circle cx="91.0" cy="46.40" r="5.1" fill="url(#gRed)"/><circle cx="26.0" cy="69.60" r="5.25" fill="url(#gRed)"/><circle cx="46.0" cy="69.60" r="5.25" fill="url(#gRed)"/><circle cx="62.5" cy="69.60" r="5.25" fill="url(#gRed)"/><circle cx="72.4" cy="69.60" r="5.25" fill="url(#gRed)"/><circle cx="89.0" cy="69.60" r="5.25" fill="url(#gRed)"/><circle cx="4.4" cy="69.60" r="5.3" fill="url(#gTi)"/><ellipse cx="17.4" cy="69.60" rx="5.8" ry="5.2" fill="url(#gBlue)"/><circle cx="0" cy="92.80" r="5.35" fill="url(#gRed)"/><circle cx="10.0" cy="92.80" r="5.35" fill="url(#gRed)"/><circle cx="26.8" cy="92.80" r="5.35" fill="url(#gRed)"/><circle cx="44.9" cy="92.80" r="5.35" fill="url(#gRed)"/><circle cx="67.3" cy="92.80" r="5.3" fill="url(#gTi)"/><ellipse cx="81.6" cy="92.80" rx="5.8" ry="5.2" fill="url(#gBlue)"/><circle cx="91.0" cy="92.80" r="5.1" fill="url(#gRed)"/><circle cx="26.0" cy="116.00" r="5.25" fill="url(#gRed)"/><circle cx="46.0" cy="116.00" r="5.25" fill="url(#gRed)"/><circle cx="62.5" cy="116.00" r="5.25" fill="url(#gRed)"/><circle cx="72.4" cy="116.00" r="5.25" fill="url(#gRed)"/><circle cx="89.0" cy="116.00" r="5.25" fill="url(#gRed)"/><circle cx="4.4" cy="116.00" r="5.3" fill="url(#gTi)"/><ellipse cx="17.4" cy="116.00" rx="5.8" ry="5.2" fill="url(#gBlue)"/></g><circle cx="490.2" cy="232.8" r="21.1" fill="url(#gCe)"/><circle cx="514.2" cy="207.3" r="19.0" fill="url(#gAu)" clip-path="url(#k6)"/><circle cx="508.2" cy="252.1" r="17.0" fill="url(#gGreen)" clip-path="url(#k7)"/></g></g><g clip-path="url(#cS1)"><g filter="url(#soft)"><g transform="translate(201.8,410.5) scale(1.064)"><line x1="-12" y1="-23.20" x2="12" y2="-23.20" stroke="#c9c9c9" stroke-width="2.4"/><line x1="12" y1="-23.20" x2="22" y2="-23.20" stroke="#1a1ae0" stroke-width="2.4"/><line x1="40" y1="-23.20" x2="100" y2="-23.20" stroke="#ff1414" stroke-width="2.4"/><line x1="4.4" y1="-23.20" x2="2.20" y2="-11.60" stroke="#c9c9c9" stroke-width="2.6"/><line x1="2.20" y1="-11.60" x2="0" y2="0.00" stroke="#ff1414" stroke-width="2.6"/><line x1="4.4" y1="-23.20" x2="7.20" y2="-11.60" stroke="#c9c9c9" stroke-width="2.6"/><line x1="7.20" y1="-11.60" x2="10" y2="0.00" stroke="#ff1414" stroke-width="2.6"/><line x1="24.5" y1="-23.20" x2="25.65" y2="-11.60" stroke="#c9c9c9" stroke-width="2.6"/><line x1="25.65" y1="-11.60" x2="26.8" y2="0.00" stroke="#ff1414" stroke-width="2.6"/><line x1="30.0" y1="-23.20" x2="30.60" y2="-11.60" stroke="#ff1414" stroke-width="2.6"/><line x1="30.60" y1="-11.60" x2="31.2" y2="0.00" stroke="#c9c9c9" stroke-width="2.6"/><line x1="46.0" y1="-23.20" x2="45.45" y2="-11.60" stroke="#c9c9c9" stroke-width="2.6"/><line x1="45.45" y1="-11.60" x2="44.9" y2="0.00" stroke="#ff1414" stroke-width="2.6"/><line x1="50.0" y1="-23.20" x2="49.60" y2="-11.60" stroke="#ff1414" stroke-width="2.6"/><line x1="49.60" y1="-11.60" x2="49.2" y2="0.00" stroke="#c9c9c9" stroke-width="2.6"/><line x1="62.5" y1="-23.20" x2="64.90" y2="-11.60" stroke="#ff1414" stroke-width="2.6"/><line x1="64.90" y1="-11.60" x2="67.3" y2="0.00" stroke="#c9c9c9" stroke-width="2.6"/><line x1="72.4" y1="-23.20" x2="69.85" y2="-11.60" stroke="#ff1414" stroke-width="2.6"/><line x1="69.85" y1="-11.60" x2="67.3" y2="0.00" stroke="#c9c9c9" stroke-width="2.6"/><line x1="88.0" y1="-23.20" x2="89.00" y2="-11.60" stroke="#c9c9c9" stroke-width="2.6"/><line x1="89.00" y1="-11.60" x2="90.0" y2="0.00" stroke="#ff1414" stroke-width="2.6"/><line x1="94.5" y1="-23.20" x2="94.75" y2="-11.60" stroke="#ff1414" stroke-width="2.6"/><line x1="94.75" y1="-11.60" x2="95.0" y2="0.00" stroke="#c9c9c9" stroke-width="2.6"/><line x1="-12" y1="0.00" x2="58" y2="0.00" stroke="#ff1414" stroke-width="2.4"/><line x1="58" y1="0.00" x2="77" y2="0.00" stroke="#c9c9c9" stroke-width="2.4"/><line x1="77" y1="0.00" x2="86" y2="0.00" stroke="#1a1ae0" stroke-width="2.4"/><line x1="86" y1="0.00" x2="100" y2="0.00" stroke="#ff1414" stroke-width="2.4"/><line x1="0" y1="0.00" x2="2.20" y2="11.60" stroke="#ff1414" stroke-width="2.6"/><line x1="2.20" y1="11.60" x2="4.4" y2="23.20" stroke="#c9c9c9" stroke-width="2.6"/><line x1="10" y1="0.00" x2="7.20" y2="11.60" stroke="#ff1414" stroke-width="2.6"/><line x1="7.20" y1="11.60" x2="4.4" y2="23.20" stroke="#c9c9c9" stroke-width="2.6"/><line x1="26.8" y1="0.00" x2="25.65" y2="11.60" stroke="#ff1414" stroke-width="2.6"/><line x1="25.65" y1="11.60" x2="24.5" y2="23.20" stroke="#c9c9c9" stroke-width="2.6"/><line x1="31.2" y1="0.00" x2="30.60" y2="11.60" stroke="#c9c9c9" stroke-width="2.6"/><line x1="30.60" y1="11.60" x2="30.0" y2="23.20" stroke="#ff1414" stroke-width="2.6"/><line x1="44.9" y1="0.00" x2="45.45" y2="11.60" stroke="#ff1414" stroke-width="2.6"/><line x1="45.45" y1="11.60" x2="46.0" y2="23.20" stroke="#c9c9c9" stroke-width="2.6"/><line x1="49.2" y1="0.00" x2="49.60" y2="11.60" stroke="#c9c9c9" stroke-width="2.6"/><line x1="49.60" y1="11.60" x2="50.0" y2="23.20" stroke="#ff1414" stroke-width="2.6"/><line x1="67.3" y1="0.00" x2="64.90" y2="11.60" stroke="#c9c9c9" stroke-width="2.6"/><line x1="64.90" y1="11.60" x2="62.5" y2="23.20" stroke="#ff1414" stroke-width="2.6"/><line x1="67.3" y1="0.00" x2="69.85" y2="11.60" stroke="#c9c9c9" stroke-width="2.6"/><line x1="69.85" y1="11.60" x2="72.4" y2="23.20" stroke="#ff1414" stroke-width="2.6"/><line x1="90.0" y1="0.00" x2="89.00" y2="11.60" stroke="#ff1414" stroke-width="2.6"/><line x1="89.00" y1="11.60" x2="88.0" y2="23.20" stroke="#c9c9c9" stroke-width="2.6"/><line x1="95.0" y1="0.00" x2="94.75" y2="11.60" stroke="#c9c9c9" stroke-width="2.6"/><line x1="94.75" y1="11.60" x2="94.5" y2="23.20" stroke="#ff1414" stroke-width="2.6"/><line x1="-12" y1="23.20" x2="12" y2="23.20" stroke="#c9c9c9" stroke-width="2.4"/><line x1="12" y1="23.20" x2="22" y2="23.20" stroke="#1a1ae0" stroke-width="2.4"/><line x1="40" y1="23.20" x2="100" y2="23.20" stroke="#ff1414" stroke-width="2.4"/><line x1="4.4" y1="23.20" x2="2.20" y2="34.80" stroke="#c9c9c9" stroke-width="2.6"/><line x1="2.20" y1="34.80" x2="0" y2="46.40" stroke="#ff1414" stroke-width="2.6"/><line x1="4.4" y1="23.20" x2="7.20" y2="34.80" stroke="#c9c9c9" stroke-width="2.6"/><line x1="7.20" y1="34.80" x2="10" y2="46.40" stroke="#ff1414" stroke-width="2.6"/><line x1="24.5" y1="23.20" x2="25.65" y2="34.80" stroke="#c9c9c9" stroke-width="2.6"/><line x1="25.65" y1="34.80" x2="26.8" y2="46.40" stroke="#ff1414" stroke-width="2.6"/><line x1="30.0" y1="23.20" x2="30.60" y2="34.80" stroke="#ff1414" stroke-width="2.6"/><line x1="30.60" y1="34.80" x2="31.2" y2="46.40" stroke="#c9c9c9" stroke-width="2.6"/><line x1="46.0" y1="23.20" x2="45.45" y2="34.80" stroke="#c9c9c9" stroke-width="2.6"/><line x1="45.45" y1="34.80" x2="44.9" y2="46.40" stroke="#ff1414" stroke-width="2.6"/><line x1="50.0" y1="23.20" x2="49.60" y2="34.80" stroke="#ff1414" stroke-width="2.6"/><line x1="49.60" y1="34.80" x2="49.2" y2="46.40" stroke="#c9c9c9" stroke-width="2.6"/><line x1="62.5" y1="23.20" x2="64.90" y2="34.80" stroke="#ff1414" stroke-width="2.6"/><line x1="64.90" y1="34.80" x2="67.3" y2="46.40" stroke="#c9c9c9" stroke-width="2.6"/><line x1="72.4" y1="23.20" x2="69.85" y2="34.80" stroke="#ff1414" stroke-width="2.6"/><line x1="69.85" y1="34.80" x2="67.3" y2="46.40" stroke="#c9c9c9" stroke-width="2.6"/><line x1="88.0" y1="23.20" x2="89.00" y2="34.80" stroke="#c9c9c9" stroke-width="2.6"/><line x1="89.00" y1="34.80" x2="90.0" y2="46.40" stroke="#ff1414" stroke-width="2.6"/><line x1="94.5" y1="23.20" x2="94.75" y2="34.80" stroke="#ff1414" stroke-width="2.6"/><line x1="94.75" y1="34.80" x2="95.0" y2="46.40" stroke="#c9c9c9" stroke-width="2.6"/><line x1="-12" y1="46.40" x2="58" y2="46.40" stroke="#ff1414" stroke-width="2.4"/><line x1="58" y1="46.40" x2="77" y2="46.40" stroke="#c9c9c9" stroke-width="2.4"/><line x1="77" y1="46.40" x2="86" y2="46.40" stroke="#1a1ae0" stroke-width="2.4"/><line x1="86" y1="46.40" x2="100" y2="46.40" stroke="#ff1414" stroke-width="2.4"/><line x1="0" y1="46.40" x2="2.20" y2="58.00" stroke="#ff1414" stroke-width="2.6"/><line x1="2.20" y1="58.00" x2="4.4" y2="69.60" stroke="#c9c9c9" stroke-width="2.6"/><line x1="10" y1="46.40" x2="7.20" y2="58.00" stroke="#ff1414" stroke-width="2.6"/><line x1="7.20" y1="58.00" x2="4.4" y2="69.60" stroke="#c9c9c9" stroke-width="2.6"/><line x1="26.8" y1="46.40" x2="25.65" y2="58.00" stroke="#ff1414" stroke-width="2.6"/><line x1="25.65" y1="58.00" x2="24.5" y2="69.60" stroke="#c9c9c9" stroke-width="2.6"/><line x1="31.2" y1="46.40" x2="30.60" y2="58.00" stroke="#c9c9c9" stroke-width="2.6"/><line x1="30.60" y1="58.00" x2="30.0" y2="69.60" stroke="#ff1414" stroke-width="2.6"/><line x1="44.9" y1="46.40" x2="45.45" y2="58.00" stroke="#ff1414" stroke-width="2.6"/><line x1="45.45" y1="58.00" x2="46.0" y2="69.60" stroke="#c9c9c9" stroke-width="2.6"/><line x1="49.2" y1="46.40" x2="49.60" y2="58.00" stroke="#c9c9c9" stroke-width="2.6"/><line x1="49.60" y1="58.00" x2="50.0" y2="69.60" stroke="#ff1414" stroke-width="2.6"/><line x1="67.3" y1="46.40" x2="64.90" y2="58.00" stroke="#c9c9c9" stroke-width="2.6"/><line x1="64.90" y1="58.00" x2="62.5" y2="69.60" stroke="#ff1414" stroke-width="2.6"/><line x1="67.3" y1="46.40" x2="69.85" y2="58.00" stroke="#c9c9c9" stroke-width="2.6"/><line x1="69.85" y1="58.00" x2="72.4" y2="69.60" stroke="#ff1414" stroke-width="2.6"/><line x1="90.0" y1="46.40" x2="89.00" y2="58.00" stroke="#ff1414" stroke-width="2.6"/><line x1="89.00" y1="58.00" x2="88.0" y2="69.60" stroke="#c9c9c9" stroke-width="2.6"/><line x1="95.0" y1="46.40" x2="94.75" y2="58.00" stroke="#c9c9c9" stroke-width="2.6"/><line x1="94.75" y1="58.00" x2="94.5" y2="69.60" stroke="#ff1414" stroke-width="2.6"/><line x1="-12" y1="69.60" x2="12" y2="69.60" stroke="#c9c9c9" stroke-width="2.4"/><line x1="12" y1="69.60" x2="22" y2="69.60" stroke="#1a1ae0" stroke-width="2.4"/><line x1="40" y1="69.60" x2="100" y2="69.60" stroke="#ff1414" stroke-width="2.4"/><line x1="4.4" y1="69.60" x2="2.20" y2="81.20" stroke="#c9c9c9" stroke-width="2.6"/><line x1="2.20" y1="81.20" x2="0" y2="92.80" stroke="#ff1414" stroke-width="2.6"/><line x1="4.4" y1="69.60" x2="7.20" y2="81.20" stroke="#c9c9c9" stroke-width="2.6"/><line x1="7.20" y1="81.20" x2="10" y2="92.80" stroke="#ff1414" stroke-width="2.6"/><line x1="24.5" y1="69.60" x2="25.65" y2="81.20" stroke="#c9c9c9" stroke-width="2.6"/><line x1="25.65" y1="81.20" x2="26.8" y2="92.80" stroke="#ff1414" stroke-width="2.6"/><line x1="30.0" y1="69.60" x2="30.60" y2="81.20" stroke="#ff1414" stroke-width="2.6"/><line x1="30.60" y1="81.20" x2="31.2" y2="92.80" stroke="#c9c9c9" stroke-width="2.6"/><line x1="46.0" y1="69.60" x2="45.45" y2="81.20" stroke="#c9c9c9" stroke-width="2.6"/><line x1="45.45" y1="81.20" x2="44.9" y2="92.80" stroke="#ff1414" stroke-width="2.6"/><line x1="50.0" y1="69.60" x2="49.60" y2="81.20" stroke="#ff1414" stroke-width="2.6"/><line x1="49.60" y1="81.20" x2="49.2" y2="92.80" stroke="#c9c9c9" stroke-width="2.6"/><line x1="62.5" y1="69.60" x2="64.90" y2="81.20" stroke="#ff1414" stroke-width="2.6"/><line x1="64.90" y1="81.20" x2="67.3" y2="92.80" stroke="#c9c9c9" stroke-width="2.6"/><line x1="72.4" y1="69.60" x2="69.85" y2="81.20" stroke="#ff1414" stroke-width="2.6"/><line x1="69.85" y1="81.20" x2="67.3" y2="92.80" stroke="#c9c9c9" stroke-width="2.6"/><line x1="88.0" y1="69.60" x2="89.00" y2="81.20" stroke="#c9c9c9" stroke-width="2.6"/><line x1="89.00" y1="81.20" x2="90.0" y2="92.80" stroke="#ff1414" stroke-width="2.6"/><line x1="94.5" y1="69.60" x2="94.75" y2="81.20" stroke="#ff1414" stroke-width="2.6"/><line x1="94.75" y1="81.20" x2="95.0" y2="92.80" stroke="#c9c9c9" stroke-width="2.6"/><line x1="-12" y1="92.80" x2="58" y2="92.80" stroke="#ff1414" stroke-width="2.4"/><line x1="58" y1="92.80" x2="77" y2="92.80" stroke="#c9c9c9" stroke-width="2.4"/><line x1="77" y1="92.80" x2="86" y2="92.80" stroke="#1a1ae0" stroke-width="2.4"/><line x1="86" y1="92.80" x2="100" y2="92.80" stroke="#ff1414" stroke-width="2.4"/><line x1="0" y1="92.80" x2="2.20" y2="104.40" stroke="#ff1414" stroke-width="2.6"/><line x1="2.20" y1="104.40" x2="4.4" y2="116.00" stroke="#c9c9c9" stroke-width="2.6"/><line x1="10" y1="92.80" x2="7.20" y2="104.40" stroke="#ff1414" stroke-width="2.6"/><line x1="7.20" y1="104.40" x2="4.4" y2="116.00" stroke="#c9c9c9" stroke-width="2.6"/><line x1="26.8" y1="92.80" x2="25.65" y2="104.40" stroke="#ff1414" stroke-width="2.6"/><line x1="25.65" y1="104.40" x2="24.5" y2="116.00" stroke="#c9c9c9" stroke-width="2.6"/><line x1="31.2" y1="92.80" x2="30.60" y2="104.40" stroke="#c9c9c9" stroke-width="2.6"/><line x1="30.60" y1="104.40" x2="30.0" y2="116.00" stroke="#ff1414" stroke-width="2.6"/><line x1="44.9" y1="92.80" x2="45.45" y2="104.40" stroke="#ff1414" stroke-width="2.6"/><line x1="45.45" y1="104.40" x2="46.0" y2="116.00" stroke="#c9c9c9" stroke-width="2.6"/><line x1="49.2" y1="92.80" x2="49.60" y2="104.40" stroke="#c9c9c9" stroke-width="2.6"/><line x1="49.60" y1="104.40" x2="50.0" y2="116.00" stroke="#ff1414" stroke-width="2.6"/><line x1="67.3" y1="92.80" x2="64.90" y2="104.40" stroke="#c9c9c9" stroke-width="2.6"/><line x1="64.90" y1="104.40" x2="62.5" y2="116.00" stroke="#ff1414" stroke-width="2.6"/><line x1="67.3" y1="92.80" x2="69.85" y2="104.40" stroke="#c9c9c9" stroke-width="2.6"/><line x1="69.85" y1="104.40" x2="72.4" y2="116.00" stroke="#ff1414" stroke-width="2.6"/><line x1="90.0" y1="92.80" x2="89.00" y2="104.40" stroke="#ff1414" stroke-width="2.6"/><line x1="89.00" y1="104.40" x2="88.0" y2="116.00" stroke="#c9c9c9" stroke-width="2.6"/><line x1="95.0" y1="92.80" x2="94.75" y2="104.40" stroke="#c9c9c9" stroke-width="2.6"/><line x1="94.75" y1="104.40" x2="94.5" y2="116.00" stroke="#ff1414" stroke-width="2.6"/><line x1="-12" y1="116.00" x2="12" y2="116.00" stroke="#c9c9c9" stroke-width="2.4"/><line x1="12" y1="116.00" x2="22" y2="116.00" stroke="#1a1ae0" stroke-width="2.4"/><line x1="40" y1="116.00" x2="100" y2="116.00" stroke="#ff1414" stroke-width="2.4"/><line x1="4.4" y1="116.00" x2="2.20" y2="127.60" stroke="#c9c9c9" stroke-width="2.6"/><line x1="2.20" y1="127.60" x2="0" y2="139.20" stroke="#ff1414" stroke-width="2.6"/><line x1="4.4" y1="116.00" x2="7.20" y2="127.60" stroke="#c9c9c9" stroke-width="2.6"/><line x1="7.20" y1="127.60" x2="10" y2="139.20" stroke="#ff1414" stroke-width="2.6"/><line x1="24.5" y1="116.00" x2="25.65" y2="127.60" stroke="#c9c9c9" stroke-width="2.6"/><line x1="25.65" y1="127.60" x2="26.8" y2="139.20" stroke="#ff1414" stroke-width="2.6"/><line x1="30.0" y1="116.00" x2="30.60" y2="127.60" stroke="#ff1414" stroke-width="2.6"/><line x1="30.60" y1="127.60" x2="31.2" y2="139.20" stroke="#c9c9c9" stroke-width="2.6"/><line x1="46.0" y1="116.00" x2="45.45" y2="127.60" stroke="#c9c9c9" stroke-width="2.6"/><line x1="45.45" y1="127.60" x2="44.9" y2="139.20" stroke="#ff1414" stroke-width="2.6"/><line x1="50.0" y1="116.00" x2="49.60" y2="127.60" stroke="#ff1414" stroke-width="2.6"/><line x1="49.60" y1="127.60" x2="49.2" y2="139.20" stroke="#c9c9c9" stroke-width="2.6"/><line x1="62.5" y1="116.00" x2="64.90" y2="127.60" stroke="#ff1414" stroke-width="2.6"/><line x1="64.90" y1="127.60" x2="67.3" y2="139.20" stroke="#c9c9c9" stroke-width="2.6"/><line x1="72.4" y1="116.00" x2="69.85" y2="127.60" stroke="#ff1414" stroke-width="2.6"/><line x1="69.85" y1="127.60" x2="67.3" y2="139.20" stroke="#c9c9c9" stroke-width="2.6"/><line x1="88.0" y1="116.00" x2="89.00" y2="127.60" stroke="#c9c9c9" stroke-width="2.6"/><line x1="89.00" y1="127.60" x2="90.0" y2="139.20" stroke="#ff1414" stroke-width="2.6"/><line x1="94.5" y1="116.00" x2="94.75" y2="127.60" stroke="#ff1414" stroke-width="2.6"/><line x1="94.75" y1="127.60" x2="95.0" y2="139.20" stroke="#c9c9c9" stroke-width="2.6"/><circle cx="-1.8" cy="-23.20" r="5.0" fill="url(#gRed)"/><circle cx="10.6" cy="-23.20" r="5.0" fill="url(#gRed)"/><circle cx="38.0" cy="-23.20" r="4.6" fill="url(#gTiB)"/><circle cx="94.5" cy="-23.20" r="4.4" fill="url(#gTiB)"/><circle cx="30.8" cy="0.00" r="4.7" fill="url(#gTiB)"/><circle cx="48.8" cy="0.00" r="4.7" fill="url(#gTiB)"/><circle cx="95.0" cy="0.00" r="4.4" fill="url(#gTiB)"/><circle cx="61.9" cy="0.00" r="5.0" fill="url(#gRed)"/><circle cx="72.7" cy="0.00" r="5.0" fill="url(#gRed)"/><circle cx="-1.8" cy="23.20" r="5.0" fill="url(#gRed)"/><circle cx="10.6" cy="23.20" r="5.0" fill="url(#gRed)"/><circle cx="38.0" cy="23.20" r="4.6" fill="url(#gTiB)"/><circle cx="94.5" cy="23.20" r="4.4" fill="url(#gTiB)"/><circle cx="30.8" cy="46.40" r="4.7" fill="url(#gTiB)"/><circle cx="48.8" cy="46.40" r="4.7" fill="url(#gTiB)"/><circle cx="95.0" cy="46.40" r="4.4" fill="url(#gTiB)"/><circle cx="61.9" cy="46.40" r="5.0" fill="url(#gRed)"/><circle cx="72.7" cy="46.40" r="5.0" fill="url(#gRed)"/><circle cx="-1.8" cy="69.60" r="5.0" fill="url(#gRed)"/><circle cx="10.6" cy="69.60" r="5.0" fill="url(#gRed)"/><circle cx="38.0" cy="69.60" r="4.6" fill="url(#gTiB)"/><circle cx="94.5" cy="69.60" r="4.4" fill="url(#gTiB)"/><circle cx="30.8" cy="92.80" r="4.7" fill="url(#gTiB)"/><circle cx="48.8" cy="92.80" r="4.7" fill="url(#gTiB)"/><circle cx="95.0" cy="92.80" r="4.4" fill="url(#gTiB)"/><circle cx="61.9" cy="92.80" r="5.0" fill="url(#gRed)"/><circle cx="72.7" cy="92.80" r="5.0" fill="url(#gRed)"/><circle cx="-1.8" cy="116.00" r="5.0" fill="url(#gRed)"/><circle cx="10.6" cy="116.00" r="5.0" fill="url(#gRed)"/><circle cx="38.0" cy="116.00" r="4.6" fill="url(#gTiB)"/><circle cx="94.5" cy="116.00" r="4.4" fill="url(#gTiB)"/><circle cx="26.0" cy="-23.20" r="5.25" fill="url(#gRed)"/><circle cx="46.0" cy="-23.20" r="5.25" fill="url(#gRed)"/><circle cx="62.5" cy="-23.20" r="5.25" fill="url(#gRed)"/><circle cx="72.4" cy="-23.20" r="5.25" fill="url(#gRed)"/><circle cx="89.0" cy="-23.20" r="5.25" fill="url(#gRed)"/><circle cx="4.4" cy="-23.20" r="5.3" fill="url(#gTi)"/><ellipse cx="17.4" cy="-23.20" rx="5.8" ry="5.2" fill="url(#gBlue)"/><circle cx="0" cy="0.00" r="5.35" fill="url(#gRed)"/><circle cx="10.0" cy="0.00" r="5.35" fill="url(#gRed)"/><circle cx="26.8" cy="0.00" r="5.35" fill="url(#gRed)"/><circle cx="44.9" cy="0.00" r="5.35" fill="url(#gRed)"/><circle cx="67.3" cy="0.00" r="5.3" fill="url(#gTi)"/><ellipse cx="81.6" cy="0.00" rx="5.8" ry="5.2" fill="url(#gBlue)"/><circle cx="91.0" cy="0.00" r="5.1" fill="url(#gRed)"/><circle cx="26.0" cy="23.20" r="5.25" fill="url(#gRed)"/><circle cx="46.0" cy="23.20" r="5.25" fill="url(#gRed)"/><circle cx="62.5" cy="23.20" r="5.25" fill="url(#gRed)"/><circle cx="72.4" cy="23.20" r="5.25" fill="url(#gRed)"/><circle cx="89.0" cy="23.20" r="5.25" fill="url(#gRed)"/><circle cx="4.4" cy="23.20" r="5.3" fill="url(#gTi)"/><ellipse cx="17.4" cy="23.20" rx="5.8" ry="5.2" fill="url(#gBlue)"/><circle cx="0" cy="46.40" r="5.35" fill="url(#gRed)"/><circle cx="10.0" cy="46.40" r="5.35" fill="url(#gRed)"/><circle cx="26.8" cy="46.40" r="5.35" fill="url(#gRed)"/><circle cx="44.9" cy="46.40" r="5.35" fill="url(#gRed)"/><circle cx="67.3" cy="46.40" r="5.3" fill="url(#gTi)"/><ellipse cx="81.6" cy="46.40" rx="5.8" ry="5.2" fill="url(#gBlue)"/><circle cx="91.0" cy="46.40" r="5.1" fill="url(#gRed)"/><circle cx="26.0" cy="69.60" r="5.25" fill="url(#gRed)"/><circle cx="46.0" cy="69.60" r="5.25" fill="url(#gRed)"/><circle cx="62.5" cy="69.60" r="5.25" fill="url(#gRed)"/><circle cx="72.4" cy="69.60" r="5.25" fill="url(#gRed)"/><circle cx="89.0" cy="69.60" r="5.25" fill="url(#gRed)"/><circle cx="4.4" cy="69.60" r="5.3" fill="url(#gTi)"/><ellipse cx="17.4" cy="69.60" rx="5.8" ry="5.2" fill="url(#gBlue)"/><circle cx="0" cy="92.80" r="5.35" fill="url(#gRed)"/><circle cx="10.0" cy="92.80" r="5.35" fill="url(#gRed)"/><circle cx="26.8" cy="92.80" r="5.35" fill="url(#gRed)"/><circle cx="44.9" cy="92.80" r="5.35" fill="url(#gRed)"/><circle cx="67.3" cy="92.80" r="5.3" fill="url(#gTi)"/><ellipse cx="81.6" cy="92.80" rx="5.8" ry="5.2" fill="url(#gBlue)"/><circle cx="91.0" cy="92.80" r="5.1" fill="url(#gRed)"/><circle cx="26.0" cy="116.00" r="5.25" fill="url(#gRed)"/><circle cx="46.0" cy="116.00" r="5.25" fill="url(#gRed)"/><circle cx="62.5" cy="116.00" r="5.25" fill="url(#gRed)"/><circle cx="72.4" cy="116.00" r="5.25" fill="url(#gRed)"/><circle cx="89.0" cy="116.00" r="5.25" fill="url(#gRed)"/><circle cx="4.4" cy="116.00" r="5.3" fill="url(#gTi)"/><ellipse cx="17.4" cy="116.00" rx="5.8" ry="5.2" fill="url(#gBlue)"/></g><circle cx="250.5" cy="437.5" r="18.1" fill="url(#gGreen)"/><circle cx="231.0" cy="459.5" r="22.6" fill="url(#gCe)" clip-path="url(#k8)"/><circle cx="251.0" cy="479.0" r="18.0" fill="url(#gGreen)" clip-path="url(#k9)"/><circle cx="282.5" cy="454.5" r="20.5" fill="url(#gAu)" clip-path="url(#k10)"/><circle cx="280.0" cy="451.0" r="12.3" fill="url(#gC)"/><circle cx="277.5" cy="446.0" r="11.4" fill="url(#gPink)"/></g></g><g clip-path="url(#cS3)"><g filter="url(#soft)"><g transform="translate(463.7,435.5) scale(1.058)"><line x1="-12" y1="-23.20" x2="12" y2="-23.20" stroke="#c9c9c9" stroke-width="2.4"/><line x1="12" y1="-23.20" x2="22" y2="-23.20" stroke="#1a1ae0" stroke-width="2.4"/><line x1="40" y1="-23.20" x2="100" y2="-23.20" stroke="#ff1414" stroke-width="2.4"/><line x1="4.4" y1="-23.20" x2="2.20" y2="-11.60" stroke="#c9c9c9" stroke-width="2.6"/><line x1="2.20" y1="-11.60" x2="0" y2="0.00" stroke="#ff1414" stroke-width="2.6"/><line x1="4.4" y1="-23.20" x2="7.20" y2="-11.60" stroke="#c9c9c9" stroke-width="2.6"/><line x1="7.20" y1="-11.60" x2="10" y2="0.00" stroke="#ff1414" stroke-width="2.6"/><line x1="24.5" y1="-23.20" x2="25.65" y2="-11.60" stroke="#c9c9c9" stroke-width="2.6"/><line x1="25.65" y1="-11.60" x2="26.8" y2="0.00" stroke="#ff1414" stroke-width="2.6"/><line x1="30.0" y1="-23.20" x2="30.60" y2="-11.60" stroke="#ff1414" stroke-width="2.6"/><line x1="30.60" y1="-11.60" x2="31.2" y2="0.00" stroke="#c9c9c9" stroke-width="2.6"/><line x1="46.0" y1="-23.20" x2="45.45" y2="-11.60" stroke="#c9c9c9" stroke-width="2.6"/><line x1="45.45" y1="-11.60" x2="44.9" y2="0.00" stroke="#ff1414" stroke-width="2.6"/><line x1="50.0" y1="-23.20" x2="49.60" y2="-11.60" stroke="#ff1414" stroke-width="2.6"/><line x1="49.60" y1="-11.60" x2="49.2" y2="0.00" stroke="#c9c9c9" stroke-width="2.6"/><line x1="62.5" y1="-23.20" x2="64.90" y2="-11.60" stroke="#ff1414" stroke-width="2.6"/><line x1="64.90" y1="-11.60" x2="67.3" y2="0.00" stroke="#c9c9c9" stroke-width="2.6"/><line x1="72.4" y1="-23.20" x2="69.85" y2="-11.60" stroke="#ff1414" stroke-width="2.6"/><line x1="69.85" y1="-11.60" x2="67.3" y2="0.00" stroke="#c9c9c9" stroke-width="2.6"/><line x1="88.0" y1="-23.20" x2="89.00" y2="-11.60" stroke="#c9c9c9" stroke-width="2.6"/><line x1="89.00" y1="-11.60" x2="90.0" y2="0.00" stroke="#ff1414" stroke-width="2.6"/><line x1="94.5" y1="-23.20" x2="94.75" y2="-11.60" stroke="#ff1414" stroke-width="2.6"/><line x1="94.75" y1="-11.60" x2="95.0" y2="0.00" stroke="#c9c9c9" stroke-width="2.6"/><line x1="-12" y1="0.00" x2="58" y2="0.00" stroke="#ff1414" stroke-width="2.4"/><line x1="58" y1="0.00" x2="77" y2="0.00" stroke="#c9c9c9" stroke-width="2.4"/><line x1="77" y1="0.00" x2="86" y2="0.00" stroke="#1a1ae0" stroke-width="2.4"/><line x1="86" y1="0.00" x2="100" y2="0.00" stroke="#ff1414" stroke-width="2.4"/><line x1="0" y1="0.00" x2="2.20" y2="11.60" stroke="#ff1414" stroke-width="2.6"/><line x1="2.20" y1="11.60" x2="4.4" y2="23.20" stroke="#c9c9c9" stroke-width="2.6"/><line x1="10" y1="0.00" x2="7.20" y2="11.60" stroke="#ff1414" stroke-width="2.6"/><line x1="7.20" y1="11.60" x2="4.4" y2="23.20" stroke="#c9c9c9" stroke-width="2.6"/><line x1="26.8" y1="0.00" x2="25.65" y2="11.60" stroke="#ff1414" stroke-width="2.6"/><line x1="25.65" y1="11.60" x2="24.5" y2="23.20" stroke="#c9c9c9" stroke-width="2.6"/><line x1="31.2" y1="0.00" x2="30.60" y2="11.60" stroke="#c9c9c9" stroke-width="2.6"/><line x1="30.60" y1="11.60" x2="30.0" y2="23.20" stroke="#ff1414" stroke-width="2.6"/><line x1="44.9" y1="0.00" x2="45.45" y2="11.60" stroke="#ff1414" stroke-width="2.6"/><line x1="45.45" y1="11.60" x2="46.0" y2="23.20" stroke="#c9c9c9" stroke-width="2.6"/><line x1="49.2" y1="0.00" x2="49.60" y2="11.60" stroke="#c9c9c9" stroke-width="2.6"/><line x1="49.60" y1="11.60" x2="50.0" y2="23.20" stroke="#ff1414" stroke-width="2.6"/><line x1="67.3" y1="0.00" x2="64.90" y2="11.60" stroke="#c9c9c9" stroke-width="2.6"/><line x1="64.90" y1="11.60" x2="62.5" y2="23.20" stroke="#ff1414" stroke-width="2.6"/><line x1="67.3" y1="0.00" x2="69.85" y2="11.60" stroke="#c9c9c9" stroke-width="2.6"/><line x1="69.85" y1="11.60" x2="72.4" y2="23.20" stroke="#ff1414" stroke-width="2.6"/><line x1="90.0" y1="0.00" x2="89.00" y2="11.60" stroke="#ff1414" stroke-width="2.6"/><line x1="89.00" y1="11.60" x2="88.0" y2="23.20" stroke="#c9c9c9" stroke-width="2.6"/><line x1="95.0" y1="0.00" x2="94.75" y2="11.60" stroke="#c9c9c9" stroke-width="2.6"/><line x1="94.75" y1="11.60" x2="94.5" y2="23.20" stroke="#ff1414" stroke-width="2.6"/><line x1="-12" y1="23.20" x2="12" y2="23.20" stroke="#c9c9c9" stroke-width="2.4"/><line x1="12" y1="23.20" x2="22" y2="23.20" stroke="#1a1ae0" stroke-width="2.4"/><line x1="40" y1="23.20" x2="100" y2="23.20" stroke="#ff1414" stroke-width="2.4"/><line x1="4.4" y1="23.20" x2="2.20" y2="34.80" stroke="#c9c9c9" stroke-width="2.6"/><line x1="2.20" y1="34.80" x2="0" y2="46.40" stroke="#ff1414" stroke-width="2.6"/><line x1="4.4" y1="23.20" x2="7.20" y2="34.80" stroke="#c9c9c9" stroke-width="2.6"/><line x1="7.20" y1="34.80" x2="10" y2="46.40" stroke="#ff1414" stroke-width="2.6"/><line x1="24.5" y1="23.20" x2="25.65" y2="34.80" stroke="#c9c9c9" stroke-width="2.6"/><line x1="25.65" y1="34.80" x2="26.8" y2="46.40" stroke="#ff1414" stroke-width="2.6"/><line x1="30.0" y1="23.20" x2="30.60" y2="34.80" stroke="#ff1414" stroke-width="2.6"/><line x1="30.60" y1="34.80" x2="31.2" y2="46.40" stroke="#c9c9c9" stroke-width="2.6"/><line x1="46.0" y1="23.20" x2="45.45" y2="34.80" stroke="#c9c9c9" stroke-width="2.6"/><line x1="45.45" y1="34.80" x2="44.9" y2="46.40" stroke="#ff1414" stroke-width="2.6"/><line x1="50.0" y1="23.20" x2="49.60" y2="34.80" stroke="#ff1414" stroke-width="2.6"/><line x1="49.60" y1="34.80" x2="49.2" y2="46.40" stroke="#c9c9c9" stroke-width="2.6"/><line x1="62.5" y1="23.20" x2="64.90" y2="34.80" stroke="#ff1414" stroke-width="2.6"/><line x1="64.90" y1="34.80" x2="67.3" y2="46.40" stroke="#c9c9c9" stroke-width="2.6"/><line x1="72.4" y1="23.20" x2="69.85" y2="34.80" stroke="#ff1414" stroke-width="2.6"/><line x1="69.85" y1="34.80" x2="67.3" y2="46.40" stroke="#c9c9c9" stroke-width="2.6"/><line x1="88.0" y1="23.20" x2="89.00" y2="34.80" stroke="#c9c9c9" stroke-width="2.6"/><line x1="89.00" y1="34.80" x2="90.0" y2="46.40" stroke="#ff1414" stroke-width="2.6"/><line x1="94.5" y1="23.20" x2="94.75" y2="34.80" stroke="#ff1414" stroke-width="2.6"/><line x1="94.75" y1="34.80" x2="95.0" y2="46.40" stroke="#c9c9c9" stroke-width="2.6"/><line x1="-12" y1="46.40" x2="58" y2="46.40" stroke="#ff1414" stroke-width="2.4"/><line x1="58" y1="46.40" x2="77" y2="46.40" stroke="#c9c9c9" stroke-width="2.4"/><line x1="77" y1="46.40" x2="86" y2="46.40" stroke="#1a1ae0" stroke-width="2.4"/><line x1="86" y1="46.40" x2="100" y2="46.40" stroke="#ff1414" stroke-width="2.4"/><line x1="0" y1="46.40" x2="2.20" y2="58.00" stroke="#ff1414" stroke-width="2.6"/><line x1="2.20" y1="58.00" x2="4.4" y2="69.60" stroke="#c9c9c9" stroke-width="2.6"/><line x1="10" y1="46.40" x2="7.20" y2="58.00" stroke="#ff1414" stroke-width="2.6"/><line x1="7.20" y1="58.00" x2="4.4" y2="69.60" stroke="#c9c9c9" stroke-width="2.6"/><line x1="26.8" y1="46.40" x2="25.65" y2="58.00" stroke="#ff1414" stroke-width="2.6"/><line x1="25.65" y1="58.00" x2="24.5" y2="69.60" stroke="#c9c9c9" stroke-width="2.6"/><line x1="31.2" y1="46.40" x2="30.60" y2="58.00" stroke="#c9c9c9" stroke-width="2.6"/><line x1="30.60" y1="58.00" x2="30.0" y2="69.60" stroke="#ff1414" stroke-width="2.6"/><line x1="44.9" y1="46.40" x2="45.45" y2="58.00" stroke="#ff1414" stroke-width="2.6"/><line x1="45.45" y1="58.00" x2="46.0" y2="69.60" stroke="#c9c9c9" stroke-width="2.6"/><line x1="49.2" y1="46.40" x2="49.60" y2="58.00" stroke="#c9c9c9" stroke-width="2.6"/><line x1="49.60" y1="58.00" x2="50.0" y2="69.60" stroke="#ff1414" stroke-width="2.6"/><line x1="67.3" y1="46.40" x2="64.90" y2="58.00" stroke="#c9c9c9" stroke-width="2.6"/><line x1="64.90" y1="58.00" x2="62.5" y2="69.60" stroke="#ff1414" stroke-width="2.6"/><line x1="67.3" y1="46.40" x2="69.85" y2="58.00" stroke="#c9c9c9" stroke-width="2.6"/><line x1="69.85" y1="58.00" x2="72.4" y2="69.60" stroke="#ff1414" stroke-width="2.6"/><line x1="90.0" y1="46.40" x2="89.00" y2="58.00" stroke="#ff1414" stroke-width="2.6"/><line x1="89.00" y1="58.00" x2="88.0" y2="69.60" stroke="#c9c9c9" stroke-width="2.6"/><line x1="95.0" y1="46.40" x2="94.75" y2="58.00" stroke="#c9c9c9" stroke-width="2.6"/><line x1="94.75" y1="58.00" x2="94.5" y2="69.60" stroke="#ff1414" stroke-width="2.6"/><line x1="-12" y1="69.60" x2="12" y2="69.60" stroke="#c9c9c9" stroke-width="2.4"/><line x1="12" y1="69.60" x2="22" y2="69.60" stroke="#1a1ae0" stroke-width="2.4"/><line x1="40" y1="69.60" x2="100" y2="69.60" stroke="#ff1414" stroke-width="2.4"/><line x1="4.4" y1="69.60" x2="2.20" y2="81.20" stroke="#c9c9c9" stroke-width="2.6"/><line x1="2.20" y1="81.20" x2="0" y2="92.80" stroke="#ff1414" stroke-width="2.6"/><line x1="4.4" y1="69.60" x2="7.20" y2="81.20" stroke="#c9c9c9" stroke-width="2.6"/><line x1="7.20" y1="81.20" x2="10" y2="92.80" stroke="#ff1414" stroke-width="2.6"/><line x1="24.5" y1="69.60" x2="25.65" y2="81.20" stroke="#c9c9c9" stroke-width="2.6"/><line x1="25.65" y1="81.20" x2="26.8" y2="92.80" stroke="#ff1414" stroke-width="2.6"/><line x1="30.0" y1="69.60" x2="30.60" y2="81.20" stroke="#ff1414" stroke-width="2.6"/><line x1="30.60" y1="81.20" x2="31.2" y2="92.80" stroke="#c9c9c9" stroke-width="2.6"/><line x1="46.0" y1="69.60" x2="45.45" y2="81.20" stroke="#c9c9c9" stroke-width="2.6"/><line x1="45.45" y1="81.20" x2="44.9" y2="92.80" stroke="#ff1414" stroke-width="2.6"/><line x1="50.0" y1="69.60" x2="49.60" y2="81.20" stroke="#ff1414" stroke-width="2.6"/><line x1="49.60" y1="81.20" x2="49.2" y2="92.80" stroke="#c9c9c9" stroke-width="2.6"/><line x1="62.5" y1="69.60" x2="64.90" y2="81.20" stroke="#ff1414" stroke-width="2.6"/><line x1="64.90" y1="81.20" x2="67.3" y2="92.80" stroke="#c9c9c9" stroke-width="2.6"/><line x1="72.4" y1="69.60" x2="69.85" y2="81.20" stroke="#ff1414" stroke-width="2.6"/><line x1="69.85" y1="81.20" x2="67.3" y2="92.80" stroke="#c9c9c9" stroke-width="2.6"/><line x1="88.0" y1="69.60" x2="89.00" y2="81.20" stroke="#c9c9c9" stroke-width="2.6"/><line x1="89.00" y1="81.20" x2="90.0" y2="92.80" stroke="#ff1414" stroke-width="2.6"/><line x1="94.5" y1="69.60" x2="94.75" y2="81.20" stroke="#ff1414" stroke-width="2.6"/><line x1="94.75" y1="81.20" x2="95.0" y2="92.80" stroke="#c9c9c9" stroke-width="2.6"/><line x1="-12" y1="92.80" x2="58" y2="92.80" stroke="#ff1414" stroke-width="2.4"/><line x1="58" y1="92.80" x2="77" y2="92.80" stroke="#c9c9c9" stroke-width="2.4"/><line x1="77" y1="92.80" x2="86" y2="92.80" stroke="#1a1ae0" stroke-width="2.4"/><line x1="86" y1="92.80" x2="100" y2="92.80" stroke="#ff1414" stroke-width="2.4"/><line x1="0" y1="92.80" x2="2.20" y2="104.40" stroke="#ff1414" stroke-width="2.6"/><line x1="2.20" y1="104.40" x2="4.4" y2="116.00" stroke="#c9c9c9" stroke-width="2.6"/><line x1="10" y1="92.80" x2="7.20" y2="104.40" stroke="#ff1414" stroke-width="2.6"/><line x1="7.20" y1="104.40" x2="4.4" y2="116.00" stroke="#c9c9c9" stroke-width="2.6"/><line x1="26.8" y1="92.80" x2="25.65" y2="104.40" stroke="#ff1414" stroke-width="2.6"/><line x1="25.65" y1="104.40" x2="24.5" y2="116.00" stroke="#c9c9c9" stroke-width="2.6"/><line x1="31.2" y1="92.80" x2="30.60" y2="104.40" stroke="#c9c9c9" stroke-width="2.6"/><line x1="30.60" y1="104.40" x2="30.0" y2="116.00" stroke="#ff1414" stroke-width="2.6"/><line x1="44.9" y1="92.80" x2="45.45" y2="104.40" stroke="#ff1414" stroke-width="2.6"/><line x1="45.45" y1="104.40" x2="46.0" y2="116.00" stroke="#c9c9c9" stroke-width="2.6"/><line x1="49.2" y1="92.80" x2="49.60" y2="104.40" stroke="#c9c9c9" stroke-width="2.6"/><line x1="49.60" y1="104.40" x2="50.0" y2="116.00" stroke="#ff1414" stroke-width="2.6"/><line x1="67.3" y1="92.80" x2="64.90" y2="104.40" stroke="#c9c9c9" stroke-width="2.6"/><line x1="64.90" y1="104.40" x2="62.5" y2="116.00" stroke="#ff1414" stroke-width="2.6"/><line x1="67.3" y1="92.80" x2="69.85" y2="104.40" stroke="#c9c9c9" stroke-width="2.6"/><line x1="69.85" y1="104.40" x2="72.4" y2="116.00" stroke="#ff1414" stroke-width="2.6"/><line x1="90.0" y1="92.80" x2="89.00" y2="104.40" stroke="#ff1414" stroke-width="2.6"/><line x1="89.00" y1="104.40" x2="88.0" y2="116.00" stroke="#c9c9c9" stroke-width="2.6"/><line x1="95.0" y1="92.80" x2="94.75" y2="104.40" stroke="#c9c9c9" stroke-width="2.6"/><line x1="94.75" y1="104.40" x2="94.5" y2="116.00" stroke="#ff1414" stroke-width="2.6"/><line x1="-12" y1="116.00" x2="12" y2="116.00" stroke="#c9c9c9" stroke-width="2.4"/><line x1="12" y1="116.00" x2="22" y2="116.00" stroke="#1a1ae0" stroke-width="2.4"/><line x1="40" y1="116.00" x2="100" y2="116.00" stroke="#ff1414" stroke-width="2.4"/><line x1="4.4" y1="116.00" x2="2.20" y2="127.60" stroke="#c9c9c9" stroke-width="2.6"/><line x1="2.20" y1="127.60" x2="0" y2="139.20" stroke="#ff1414" stroke-width="2.6"/><line x1="4.4" y1="116.00" x2="7.20" y2="127.60" stroke="#c9c9c9" stroke-width="2.6"/><line x1="7.20" y1="127.60" x2="10" y2="139.20" stroke="#ff1414" stroke-width="2.6"/><line x1="24.5" y1="116.00" x2="25.65" y2="127.60" stroke="#c9c9c9" stroke-width="2.6"/><line x1="25.65" y1="127.60" x2="26.8" y2="139.20" stroke="#ff1414" stroke-width="2.6"/><line x1="30.0" y1="116.00" x2="30.60" y2="127.60" stroke="#ff1414" stroke-width="2.6"/><line x1="30.60" y1="127.60" x2="31.2" y2="139.20" stroke="#c9c9c9" stroke-width="2.6"/><line x1="46.0" y1="116.00" x2="45.45" y2="127.60" stroke="#c9c9c9" stroke-width="2.6"/><line x1="45.45" y1="127.60" x2="44.9" y2="139.20" stroke="#ff1414" stroke-width="2.6"/><line x1="50.0" y1="116.00" x2="49.60" y2="127.60" stroke="#ff1414" stroke-width="2.6"/><line x1="49.60" y1="127.60" x2="49.2" y2="139.20" stroke="#c9c9c9" stroke-width="2.6"/><line x1="62.5" y1="116.00" x2="64.90" y2="127.60" stroke="#ff1414" stroke-width="2.6"/><line x1="64.90" y1="127.60" x2="67.3" y2="139.20" stroke="#c9c9c9" stroke-width="2.6"/><line x1="72.4" y1="116.00" x2="69.85" y2="127.60" stroke="#ff1414" stroke-width="2.6"/><line x1="69.85" y1="127.60" x2="67.3" y2="139.20" stroke="#c9c9c9" stroke-width="2.6"/><line x1="88.0" y1="116.00" x2="89.00" y2="127.60" stroke="#c9c9c9" stroke-width="2.6"/><line x1="89.00" y1="127.60" x2="90.0" y2="139.20" stroke="#ff1414" stroke-width="2.6"/><line x1="94.5" y1="116.00" x2="94.75" y2="127.60" stroke="#ff1414" stroke-width="2.6"/><line x1="94.75" y1="127.60" x2="95.0" y2="139.20" stroke="#c9c9c9" stroke-width="2.6"/><circle cx="-1.8" cy="-23.20" r="5.0" fill="url(#gRed)"/><circle cx="10.6" cy="-23.20" r="5.0" fill="url(#gRed)"/><circle cx="38.0" cy="-23.20" r="4.6" fill="url(#gTiB)"/><circle cx="94.5" cy="-23.20" r="4.4" fill="url(#gTiB)"/><circle cx="30.8" cy="0.00" r="4.7" fill="url(#gTiB)"/><circle cx="48.8" cy="0.00" r="4.7" fill="url(#gTiB)"/><circle cx="95.0" cy="0.00" r="4.4" fill="url(#gTiB)"/><circle cx="61.9" cy="0.00" r="5.0" fill="url(#gRed)"/><circle cx="72.7" cy="0.00" r="5.0" fill="url(#gRed)"/><circle cx="-1.8" cy="23.20" r="5.0" fill="url(#gRed)"/><circle cx="10.6" cy="23.20" r="5.0" fill="url(#gRed)"/><circle cx="38.0" cy="23.20" r="4.6" fill="url(#gTiB)"/><circle cx="94.5" cy="23.20" r="4.4" fill="url(#gTiB)"/><circle cx="30.8" cy="46.40" r="4.7" fill="url(#gTiB)"/><circle cx="48.8" cy="46.40" r="4.7" fill="url(#gTiB)"/><circle cx="95.0" cy="46.40" r="4.4" fill="url(#gTiB)"/><circle cx="61.9" cy="46.40" r="5.0" fill="url(#gRed)"/><circle cx="72.7" cy="46.40" r="5.0" fill="url(#gRed)"/><circle cx="-1.8" cy="69.60" r="5.0" fill="url(#gRed)"/><circle cx="10.6" cy="69.60" r="5.0" fill="url(#gRed)"/><circle cx="38.0" cy="69.60" r="4.6" fill="url(#gTiB)"/><circle cx="94.5" cy="69.60" r="4.4" fill="url(#gTiB)"/><circle cx="30.8" cy="92.80" r="4.7" fill="url(#gTiB)"/><circle cx="48.8" cy="92.80" r="4.7" fill="url(#gTiB)"/><circle cx="95.0" cy="92.80" r="4.4" fill="url(#gTiB)"/><circle cx="61.9" cy="92.80" r="5.0" fill="url(#gRed)"/><circle cx="72.7" cy="92.80" r="5.0" fill="url(#gRed)"/><circle cx="-1.8" cy="116.00" r="5.0" fill="url(#gRed)"/><circle cx="10.6" cy="116.00" r="5.0" fill="url(#gRed)"/><circle cx="38.0" cy="116.00" r="4.6" fill="url(#gTiB)"/><circle cx="94.5" cy="116.00" r="4.4" fill="url(#gTiB)"/><circle cx="26.0" cy="-23.20" r="5.25" fill="url(#gRed)"/><circle cx="46.0" cy="-23.20" r="5.25" fill="url(#gRed)"/><circle cx="62.5" cy="-23.20" r="5.25" fill="url(#gRed)"/><circle cx="72.4" cy="-23.20" r="5.25" fill="url(#gRed)"/><circle cx="89.0" cy="-23.20" r="5.25" fill="url(#gRed)"/><circle cx="4.4" cy="-23.20" r="5.3" fill="url(#gTi)"/><ellipse cx="17.4" cy="-23.20" rx="5.8" ry="5.2" fill="url(#gBlue)"/><circle cx="0" cy="0.00" r="5.35" fill="url(#gRed)"/><circle cx="10.0" cy="0.00" r="5.35" fill="url(#gRed)"/><circle cx="26.8" cy="0.00" r="5.35" fill="url(#gRed)"/><circle cx="44.9" cy="0.00" r="5.35" fill="url(#gRed)"/><circle cx="67.3" cy="0.00" r="5.3" fill="url(#gTi)"/><ellipse cx="81.6" cy="0.00" rx="5.8" ry="5.2" fill="url(#gBlue)"/><circle cx="91.0" cy="0.00" r="5.1" fill="url(#gRed)"/><circle cx="26.0" cy="23.20" r="5.25" fill="url(#gRed)"/><circle cx="46.0" cy="23.20" r="5.25" fill="url(#gRed)"/><circle cx="62.5" cy="23.20" r="5.25" fill="url(#gRed)"/><circle cx="72.4" cy="23.20" r="5.25" fill="url(#gRed)"/><circle cx="89.0" cy="23.20" r="5.25" fill="url(#gRed)"/><circle cx="4.4" cy="23.20" r="5.3" fill="url(#gTi)"/><ellipse cx="17.4" cy="23.20" rx="5.8" ry="5.2" fill="url(#gBlue)"/><circle cx="0" cy="46.40" r="5.35" fill="url(#gRed)"/><circle cx="10.0" cy="46.40" r="5.35" fill="url(#gRed)"/><circle cx="26.8" cy="46.40" r="5.35" fill="url(#gRed)"/><circle cx="44.9" cy="46.40" r="5.35" fill="url(#gRed)"/><circle cx="67.3" cy="46.40" r="5.3" fill="url(#gTi)"/><ellipse cx="81.6" cy="46.40" rx="5.8" ry="5.2" fill="url(#gBlue)"/><circle cx="91.0" cy="46.40" r="5.1" fill="url(#gRed)"/><circle cx="26.0" cy="69.60" r="5.25" fill="url(#gRed)"/><circle cx="46.0" cy="69.60" r="5.25" fill="url(#gRed)"/><circle cx="62.5" cy="69.60" r="5.25" fill="url(#gRed)"/><circle cx="72.4" cy="69.60" r="5.25" fill="url(#gRed)"/><circle cx="89.0" cy="69.60" r="5.25" fill="url(#gRed)"/><circle cx="4.4" cy="69.60" r="5.3" fill="url(#gTi)"/><ellipse cx="17.4" cy="69.60" rx="5.8" ry="5.2" fill="url(#gBlue)"/><circle cx="0" cy="92.80" r="5.35" fill="url(#gRed)"/><circle cx="10.0" cy="92.80" r="5.35" fill="url(#gRed)"/><circle cx="26.8" cy="92.80" r="5.35" fill="url(#gRed)"/><circle cx="44.9" cy="92.80" r="5.35" fill="url(#gRed)"/><circle cx="67.3" cy="92.80" r="5.3" fill="url(#gTi)"/><ellipse cx="81.6" cy="92.80" rx="5.8" ry="5.2" fill="url(#gBlue)"/><circle cx="91.0" cy="92.80" r="5.1" fill="url(#gRed)"/><circle cx="26.0" cy="116.00" r="5.25" fill="url(#gRed)"/><circle cx="46.0" cy="116.00" r="5.25" fill="url(#gRed)"/><circle cx="62.5" cy="116.00" r="5.25" fill="url(#gRed)"/><circle cx="72.4" cy="116.00" r="5.25" fill="url(#gRed)"/><circle cx="89.0" cy="116.00" r="5.25" fill="url(#gRed)"/><circle cx="4.4" cy="116.00" r="5.3" fill="url(#gTi)"/><ellipse cx="17.4" cy="116.00" rx="5.8" ry="5.2" fill="url(#gBlue)"/></g><circle cx="496.7" cy="483.8" r="22.6" fill="url(#gCe)"/><circle cx="511.8" cy="508.6" r="18.3" fill="url(#gGreen)" clip-path="url(#k11)"/><circle cx="532.6" cy="449.1" r="20.0" fill="url(#gAu)"/><circle cx="511.4" cy="456.3" r="11.0" fill="url(#gPink)"/><circle cx="513.8" cy="472.8" r="10.8" fill="url(#gPink)"/></g></g><g clip-path="url(#cTS2)"><g filter="url(#soft)"><g transform="translate(690.4,373.6) scale(1.009)"><line x1="-12" y1="-46.40" x2="58" y2="-46.40" stroke="#ff1414" stroke-width="2.4"/><line x1="58" y1="-46.40" x2="77" y2="-46.40" stroke="#c9c9c9" stroke-width="2.4"/><line x1="77" y1="-46.40" x2="86" y2="-46.40" stroke="#1a1ae0" stroke-width="2.4"/><line x1="86" y1="-46.40" x2="100" y2="-46.40" stroke="#ff1414" stroke-width="2.4"/><line x1="0" y1="-46.40" x2="2.20" y2="-34.80" stroke="#ff1414" stroke-width="2.6"/><line x1="2.20" y1="-34.80" x2="4.4" y2="-23.20" stroke="#c9c9c9" stroke-width="2.6"/><line x1="10" y1="-46.40" x2="7.20" y2="-34.80" stroke="#ff1414" stroke-width="2.6"/><line x1="7.20" y1="-34.80" x2="4.4" y2="-23.20" stroke="#c9c9c9" stroke-width="2.6"/><line x1="26.8" y1="-46.40" x2="25.65" y2="-34.80" stroke="#ff1414" stroke-width="2.6"/><line x1="25.65" y1="-34.80" x2="24.5" y2="-23.20" stroke="#c9c9c9" stroke-width="2.6"/><line x1="31.2" y1="-46.40" x2="30.60" y2="-34.80" stroke="#c9c9c9" stroke-width="2.6"/><line x1="30.60" y1="-34.80" x2="30.0" y2="-23.20" stroke="#ff1414" stroke-width="2.6"/><line x1="44.9" y1="-46.40" x2="45.45" y2="-34.80" stroke="#ff1414" stroke-width="2.6"/><line x1="45.45" y1="-34.80" x2="46.0" y2="-23.20" stroke="#c9c9c9" stroke-width="2.6"/><line x1="49.2" y1="-46.40" x2="49.60" y2="-34.80" stroke="#c9c9c9" stroke-width="2.6"/><line x1="49.60" y1="-34.80" x2="50.0" y2="-23.20" stroke="#ff1414" stroke-width="2.6"/><line x1="67.3" y1="-46.40" x2="64.90" y2="-34.80" stroke="#c9c9c9" stroke-width="2.6"/><line x1="64.90" y1="-34.80" x2="62.5" y2="-23.20" stroke="#ff1414" stroke-width="2.6"/><line x1="67.3" y1="-46.40" x2="69.85" y2="-34.80" stroke="#c9c9c9" stroke-width="2.6"/><line x1="69.85" y1="-34.80" x2="72.4" y2="-23.20" stroke="#ff1414" stroke-width="2.6"/><line x1="90.0" y1="-46.40" x2="89.00" y2="-34.80" stroke="#ff1414" stroke-width="2.6"/><line x1="89.00" y1="-34.80" x2="88.0" y2="-23.20" stroke="#c9c9c9" stroke-width="2.6"/><line x1="95.0" y1="-46.40" x2="94.75" y2="-34.80" stroke="#c9c9c9" stroke-width="2.6"/><line x1="94.75" y1="-34.80" x2="94.5" y2="-23.20" stroke="#ff1414" stroke-width="2.6"/><line x1="-12" y1="-23.20" x2="12" y2="-23.20" stroke="#c9c9c9" stroke-width="2.4"/><line x1="12" y1="-23.20" x2="22" y2="-23.20" stroke="#1a1ae0" stroke-width="2.4"/><line x1="40" y1="-23.20" x2="100" y2="-23.20" stroke="#ff1414" stroke-width="2.4"/><line x1="4.4" y1="-23.20" x2="2.20" y2="-11.60" stroke="#c9c9c9" stroke-width="2.6"/><line x1="2.20" y1="-11.60" x2="0" y2="0.00" stroke="#ff1414" stroke-width="2.6"/><line x1="4.4" y1="-23.20" x2="7.20" y2="-11.60" stroke="#c9c9c9" stroke-width="2.6"/><line x1="7.20" y1="-11.60" x2="10" y2="0.00" stroke="#ff1414" stroke-width="2.6"/><line x1="24.5" y1="-23.20" x2="25.65" y2="-11.60" stroke="#c9c9c9" stroke-width="2.6"/><line x1="25.65" y1="-11.60" x2="26.8" y2="0.00" stroke="#ff1414" stroke-width="2.6"/><line x1="30.0" y1="-23.20" x2="30.60" y2="-11.60" stroke="#ff1414" stroke-width="2.6"/><line x1="30.60" y1="-11.60" x2="31.2" y2="0.00" stroke="#c9c9c9" stroke-width="2.6"/><line x1="46.0" y1="-23.20" x2="45.45" y2="-11.60" stroke="#c9c9c9" stroke-width="2.6"/><line x1="45.45" y1="-11.60" x2="44.9" y2="0.00" stroke="#ff1414" stroke-width="2.6"/><line x1="50.0" y1="-23.20" x2="49.60" y2="-11.60" stroke="#ff1414" stroke-width="2.6"/><line x1="49.60" y1="-11.60" x2="49.2" y2="0.00" stroke="#c9c9c9" stroke-width="2.6"/><line x1="62.5" y1="-23.20" x2="64.90" y2="-11.60" stroke="#ff1414" stroke-width="2.6"/><line x1="64.90" y1="-11.60" x2="67.3" y2="0.00" stroke="#c9c9c9" stroke-width="2.6"/><line x1="72.4" y1="-23.20" x2="69.85" y2="-11.60" stroke="#ff1414" stroke-width="2.6"/><line x1="69.85" y1="-11.60" x2="67.3" y2="0.00" stroke="#c9c9c9" stroke-width="2.6"/><line x1="88.0" y1="-23.20" x2="89.00" y2="-11.60" stroke="#c9c9c9" stroke-width="2.6"/><line x1="89.00" y1="-11.60" x2="90.0" y2="0.00" stroke="#ff1414" stroke-width="2.6"/><line x1="94.5" y1="-23.20" x2="94.75" y2="-11.60" stroke="#ff1414" stroke-width="2.6"/><line x1="94.75" y1="-11.60" x2="95.0" y2="0.00" stroke="#c9c9c9" stroke-width="2.6"/><line x1="-12" y1="0.00" x2="58" y2="0.00" stroke="#ff1414" stroke-width="2.4"/><line x1="58" y1="0.00" x2="77" y2="0.00" stroke="#c9c9c9" stroke-width="2.4"/><line x1="77" y1="0.00" x2="86" y2="0.00" stroke="#1a1ae0" stroke-width="2.4"/><line x1="86" y1="0.00" x2="100" y2="0.00" stroke="#ff1414" stroke-width="2.4"/><line x1="0" y1="0.00" x2="2.20" y2="11.60" stroke="#ff1414" stroke-width="2.6"/><line x1="2.20" y1="11.60" x2="4.4" y2="23.20" stroke="#c9c9c9" stroke-width="2.6"/><line x1="10" y1="0.00" x2="7.20" y2="11.60" stroke="#ff1414" stroke-width="2.6"/><line x1="7.20" y1="11.60" x2="4.4" y2="23.20" stroke="#c9c9c9" stroke-width="2.6"/><line x1="26.8" y1="0.00" x2="25.65" y2="11.60" stroke="#ff1414" stroke-width="2.6"/><line x1="25.65" y1="11.60" x2="24.5" y2="23.20" stroke="#c9c9c9" stroke-width="2.6"/><line x1="31.2" y1="0.00" x2="30.60" y2="11.60" stroke="#c9c9c9" stroke-width="2.6"/><line x1="30.60" y1="11.60" x2="30.0" y2="23.20" stroke="#ff1414" stroke-width="2.6"/><line x1="44.9" y1="0.00" x2="45.45" y2="11.60" stroke="#ff1414" stroke-width="2.6"/><line x1="45.45" y1="11.60" x2="46.0" y2="23.20" stroke="#c9c9c9" stroke-width="2.6"/><line x1="49.2" y1="0.00" x2="49.60" y2="11.60" stroke="#c9c9c9" stroke-width="2.6"/><line x1="49.60" y1="11.60" x2="50.0" y2="23.20" stroke="#ff1414" stroke-width="2.6"/><line x1="67.3" y1="0.00" x2="64.90" y2="11.60" stroke="#c9c9c9" stroke-width="2.6"/><line x1="64.90" y1="11.60" x2="62.5" y2="23.20" stroke="#ff1414" stroke-width="2.6"/><line x1="67.3" y1="0.00" x2="69.85" y2="11.60" stroke="#c9c9c9" stroke-width="2.6"/><line x1="69.85" y1="11.60" x2="72.4" y2="23.20" stroke="#ff1414" stroke-width="2.6"/><line x1="90.0" y1="0.00" x2="89.00" y2="11.60" stroke="#ff1414" stroke-width="2.6"/><line x1="89.00" y1="11.60" x2="88.0" y2="23.20" stroke="#c9c9c9" stroke-width="2.6"/><line x1="95.0" y1="0.00" x2="94.75" y2="11.60" stroke="#c9c9c9" stroke-width="2.6"/><line x1="94.75" y1="11.60" x2="94.5" y2="23.20" stroke="#ff1414" stroke-width="2.6"/><line x1="-12" y1="23.20" x2="12" y2="23.20" stroke="#c9c9c9" stroke-width="2.4"/><line x1="12" y1="23.20" x2="22" y2="23.20" stroke="#1a1ae0" stroke-width="2.4"/><line x1="40" y1="23.20" x2="100" y2="23.20" stroke="#ff1414" stroke-width="2.4"/><line x1="4.4" y1="23.20" x2="2.20" y2="34.80" stroke="#c9c9c9" stroke-width="2.6"/><line x1="2.20" y1="34.80" x2="0" y2="46.40" stroke="#ff1414" stroke-width="2.6"/><line x1="4.4" y1="23.20" x2="7.20" y2="34.80" stroke="#c9c9c9" stroke-width="2.6"/><line x1="7.20" y1="34.80" x2="10" y2="46.40" stroke="#ff1414" stroke-width="2.6"/><line x1="24.5" y1="23.20" x2="25.65" y2="34.80" stroke="#c9c9c9" stroke-width="2.6"/><line x1="25.65" y1="34.80" x2="26.8" y2="46.40" stroke="#ff1414" stroke-width="2.6"/><line x1="30.0" y1="23.20" x2="30.60" y2="34.80" stroke="#ff1414" stroke-width="2.6"/><line x1="30.60" y1="34.80" x2="31.2" y2="46.40" stroke="#c9c9c9" stroke-width="2.6"/><line x1="46.0" y1="23.20" x2="45.45" y2="34.80" stroke="#c9c9c9" stroke-width="2.6"/><line x1="45.45" y1="34.80" x2="44.9" y2="46.40" stroke="#ff1414" stroke-width="2.6"/><line x1="50.0" y1="23.20" x2="49.60" y2="34.80" stroke="#ff1414" stroke-width="2.6"/><line x1="49.60" y1="34.80" x2="49.2" y2="46.40" stroke="#c9c9c9" stroke-width="2.6"/><line x1="62.5" y1="23.20" x2="64.90" y2="34.80" stroke="#ff1414" stroke-width="2.6"/><line x1="64.90" y1="34.80" x2="67.3" y2="46.40" stroke="#c9c9c9" stroke-width="2.6"/><line x1="72.4" y1="23.20" x2="69.85" y2="34.80" stroke="#ff1414" stroke-width="2.6"/><line x1="69.85" y1="34.80" x2="67.3" y2="46.40" stroke="#c9c9c9" stroke-width="2.6"/><line x1="88.0" y1="23.20" x2="89.00" y2="34.80" stroke="#c9c9c9" stroke-width="2.6"/><line x1="89.00" y1="34.80" x2="90.0" y2="46.40" stroke="#ff1414" stroke-width="2.6"/><line x1="94.5" y1="23.20" x2="94.75" y2="34.80" stroke="#ff1414" stroke-width="2.6"/><line x1="94.75" y1="34.80" x2="95.0" y2="46.40" stroke="#c9c9c9" stroke-width="2.6"/><line x1="-12" y1="46.40" x2="58" y2="46.40" stroke="#ff1414" stroke-width="2.4"/><line x1="58" y1="46.40" x2="77" y2="46.40" stroke="#c9c9c9" stroke-width="2.4"/><line x1="77" y1="46.40" x2="86" y2="46.40" stroke="#1a1ae0" stroke-width="2.4"/><line x1="86" y1="46.40" x2="100" y2="46.40" stroke="#ff1414" stroke-width="2.4"/><line x1="0" y1="46.40" x2="2.20" y2="58.00" stroke="#ff1414" stroke-width="2.6"/><line x1="2.20" y1="58.00" x2="4.4" y2="69.60" stroke="#c9c9c9" stroke-width="2.6"/><line x1="10" y1="46.40" x2="7.20" y2="58.00" stroke="#ff1414" stroke-width="2.6"/><line x1="7.20" y1="58.00" x2="4.4" y2="69.60" stroke="#c9c9c9" stroke-width="2.6"/><line x1="26.8" y1="46.40" x2="25.65" y2="58.00" stroke="#ff1414" stroke-width="2.6"/><line x1="25.65" y1="58.00" x2="24.5" y2="69.60" stroke="#c9c9c9" stroke-width="2.6"/><line x1="31.2" y1="46.40" x2="30.60" y2="58.00" stroke="#c9c9c9" stroke-width="2.6"/><line x1="30.60" y1="58.00" x2="30.0" y2="69.60" stroke="#ff1414" stroke-width="2.6"/><line x1="44.9" y1="46.40" x2="45.45" y2="58.00" stroke="#ff1414" stroke-width="2.6"/><line x1="45.45" y1="58.00" x2="46.0" y2="69.60" stroke="#c9c9c9" stroke-width="2.6"/><line x1="49.2" y1="46.40" x2="49.60" y2="58.00" stroke="#c9c9c9" stroke-width="2.6"/><line x1="49.60" y1="58.00" x2="50.0" y2="69.60" stroke="#ff1414" stroke-width="2.6"/><line x1="67.3" y1="46.40" x2="64.90" y2="58.00" stroke="#c9c9c9" stroke-width="2.6"/><line x1="64.90" y1="58.00" x2="62.5" y2="69.60" stroke="#ff1414" stroke-width="2.6"/><line x1="67.3" y1="46.40" x2="69.85" y2="58.00" stroke="#c9c9c9" stroke-width="2.6"/><line x1="69.85" y1="58.00" x2="72.4" y2="69.60" stroke="#ff1414" stroke-width="2.6"/><line x1="90.0" y1="46.40" x2="89.00" y2="58.00" stroke="#ff1414" stroke-width="2.6"/><line x1="89.00" y1="58.00" x2="88.0" y2="69.60" stroke="#c9c9c9" stroke-width="2.6"/><line x1="95.0" y1="46.40" x2="94.75" y2="58.00" stroke="#c9c9c9" stroke-width="2.6"/><line x1="94.75" y1="58.00" x2="94.5" y2="69.60" stroke="#ff1414" stroke-width="2.6"/><line x1="-12" y1="69.60" x2="12" y2="69.60" stroke="#c9c9c9" stroke-width="2.4"/><line x1="12" y1="69.60" x2="22" y2="69.60" stroke="#1a1ae0" stroke-width="2.4"/><line x1="40" y1="69.60" x2="100" y2="69.60" stroke="#ff1414" stroke-width="2.4"/><line x1="4.4" y1="69.60" x2="2.20" y2="81.20" stroke="#c9c9c9" stroke-width="2.6"/><line x1="2.20" y1="81.20" x2="0" y2="92.80" stroke="#ff1414" stroke-width="2.6"/><line x1="4.4" y1="69.60" x2="7.20" y2="81.20" stroke="#c9c9c9" stroke-width="2.6"/><line x1="7.20" y1="81.20" x2="10" y2="92.80" stroke="#ff1414" stroke-width="2.6"/><line x1="24.5" y1="69.60" x2="25.65" y2="81.20" stroke="#c9c9c9" stroke-width="2.6"/><line x1="25.65" y1="81.20" x2="26.8" y2="92.80" stroke="#ff1414" stroke-width="2.6"/><line x1="30.0" y1="69.60" x2="30.60" y2="81.20" stroke="#ff1414" stroke-width="2.6"/><line x1="30.60" y1="81.20" x2="31.2" y2="92.80" stroke="#c9c9c9" stroke-width="2.6"/><line x1="46.0" y1="69.60" x2="45.45" y2="81.20" stroke="#c9c9c9" stroke-width="2.6"/><line x1="45.45" y1="81.20" x2="44.9" y2="92.80" stroke="#ff1414" stroke-width="2.6"/><line x1="50.0" y1="69.60" x2="49.60" y2="81.20" stroke="#ff1414" stroke-width="2.6"/><line x1="49.60" y1="81.20" x2="49.2" y2="92.80" stroke="#c9c9c9" stroke-width="2.6"/><line x1="62.5" y1="69.60" x2="64.90" y2="81.20" stroke="#ff1414" stroke-width="2.6"/><line x1="64.90" y1="81.20" x2="67.3" y2="92.80" stroke="#c9c9c9" stroke-width="2.6"/><line x1="72.4" y1="69.60" x2="69.85" y2="81.20" stroke="#ff1414" stroke-width="2.6"/><line x1="69.85" y1="81.20" x2="67.3" y2="92.80" stroke="#c9c9c9" stroke-width="2.6"/><line x1="88.0" y1="69.60" x2="89.00" y2="81.20" stroke="#c9c9c9" stroke-width="2.6"/><line x1="89.00" y1="81.20" x2="90.0" y2="92.80" stroke="#ff1414" stroke-width="2.6"/><line x1="94.5" y1="69.60" x2="94.75" y2="81.20" stroke="#ff1414" stroke-width="2.6"/><line x1="94.75" y1="81.20" x2="95.0" y2="92.80" stroke="#c9c9c9" stroke-width="2.6"/><line x1="-12" y1="92.80" x2="58" y2="92.80" stroke="#ff1414" stroke-width="2.4"/><line x1="58" y1="92.80" x2="77" y2="92.80" stroke="#c9c9c9" stroke-width="2.4"/><line x1="77" y1="92.80" x2="86" y2="92.80" stroke="#1a1ae0" stroke-width="2.4"/><line x1="86" y1="92.80" x2="100" y2="92.80" stroke="#ff1414" stroke-width="2.4"/><line x1="0" y1="92.80" x2="2.20" y2="104.40" stroke="#ff1414" stroke-width="2.6"/><line x1="2.20" y1="104.40" x2="4.4" y2="116.00" stroke="#c9c9c9" stroke-width="2.6"/><line x1="10" y1="92.80" x2="7.20" y2="104.40" stroke="#ff1414" stroke-width="2.6"/><line x1="7.20" y1="104.40" x2="4.4" y2="116.00" stroke="#c9c9c9" stroke-width="2.6"/><line x1="26.8" y1="92.80" x2="25.65" y2="104.40" stroke="#ff1414" stroke-width="2.6"/><line x1="25.65" y1="104.40" x2="24.5" y2="116.00" stroke="#c9c9c9" stroke-width="2.6"/><line x1="31.2" y1="92.80" x2="30.60" y2="104.40" stroke="#c9c9c9" stroke-width="2.6"/><line x1="30.60" y1="104.40" x2="30.0" y2="116.00" stroke="#ff1414" stroke-width="2.6"/><line x1="44.9" y1="92.80" x2="45.45" y2="104.40" stroke="#ff1414" stroke-width="2.6"/><line x1="45.45" y1="104.40" x2="46.0" y2="116.00" stroke="#c9c9c9" stroke-width="2.6"/><line x1="49.2" y1="92.80" x2="49.60" y2="104.40" stroke="#c9c9c9" stroke-width="2.6"/><line x1="49.60" y1="104.40" x2="50.0" y2="116.00" stroke="#ff1414" stroke-width="2.6"/><line x1="67.3" y1="92.80" x2="64.90" y2="104.40" stroke="#c9c9c9" stroke-width="2.6"/><line x1="64.90" y1="104.40" x2="62.5" y2="116.00" stroke="#ff1414" stroke-width="2.6"/><line x1="67.3" y1="92.80" x2="69.85" y2="104.40" stroke="#c9c9c9" stroke-width="2.6"/><line x1="69.85" y1="104.40" x2="72.4" y2="116.00" stroke="#ff1414" stroke-width="2.6"/><line x1="90.0" y1="92.80" x2="89.00" y2="104.40" stroke="#ff1414" stroke-width="2.6"/><line x1="89.00" y1="104.40" x2="88.0" y2="116.00" stroke="#c9c9c9" stroke-width="2.6"/><line x1="95.0" y1="92.80" x2="94.75" y2="104.40" stroke="#c9c9c9" stroke-width="2.6"/><line x1="94.75" y1="104.40" x2="94.5" y2="116.00" stroke="#ff1414" stroke-width="2.6"/><line x1="-12" y1="116.00" x2="12" y2="116.00" stroke="#c9c9c9" stroke-width="2.4"/><line x1="12" y1="116.00" x2="22" y2="116.00" stroke="#1a1ae0" stroke-width="2.4"/><line x1="40" y1="116.00" x2="100" y2="116.00" stroke="#ff1414" stroke-width="2.4"/><line x1="4.4" y1="116.00" x2="2.20" y2="127.60" stroke="#c9c9c9" stroke-width="2.6"/><line x1="2.20" y1="127.60" x2="0" y2="139.20" stroke="#ff1414" stroke-width="2.6"/><line x1="4.4" y1="116.00" x2="7.20" y2="127.60" stroke="#c9c9c9" stroke-width="2.6"/><line x1="7.20" y1="127.60" x2="10" y2="139.20" stroke="#ff1414" stroke-width="2.6"/><line x1="24.5" y1="116.00" x2="25.65" y2="127.60" stroke="#c9c9c9" stroke-width="2.6"/><line x1="25.65" y1="127.60" x2="26.8" y2="139.20" stroke="#ff1414" stroke-width="2.6"/><line x1="30.0" y1="116.00" x2="30.60" y2="127.60" stroke="#ff1414" stroke-width="2.6"/><line x1="30.60" y1="127.60" x2="31.2" y2="139.20" stroke="#c9c9c9" stroke-width="2.6"/><line x1="46.0" y1="116.00" x2="45.45" y2="127.60" stroke="#c9c9c9" stroke-width="2.6"/><line x1="45.45" y1="127.60" x2="44.9" y2="139.20" stroke="#ff1414" stroke-width="2.6"/><line x1="50.0" y1="116.00" x2="49.60" y2="127.60" stroke="#ff1414" stroke-width="2.6"/><line x1="49.60" y1="127.60" x2="49.2" y2="139.20" stroke="#c9c9c9" stroke-width="2.6"/><line x1="62.5" y1="116.00" x2="64.90" y2="127.60" stroke="#ff1414" stroke-width="2.6"/><line x1="64.90" y1="127.60" x2="67.3" y2="139.20" stroke="#c9c9c9" stroke-width="2.6"/><line x1="72.4" y1="116.00" x2="69.85" y2="127.60" stroke="#ff1414" stroke-width="2.6"/><line x1="69.85" y1="127.60" x2="67.3" y2="139.20" stroke="#c9c9c9" stroke-width="2.6"/><line x1="88.0" y1="116.00" x2="89.00" y2="127.60" stroke="#c9c9c9" stroke-width="2.6"/><line x1="89.00" y1="127.60" x2="90.0" y2="139.20" stroke="#ff1414" stroke-width="2.6"/><line x1="94.5" y1="116.00" x2="94.75" y2="127.60" stroke="#ff1414" stroke-width="2.6"/><line x1="94.75" y1="127.60" x2="95.0" y2="139.20" stroke="#c9c9c9" stroke-width="2.6"/><circle cx="30.8" cy="-46.40" r="4.7" fill="url(#gTiB)"/><circle cx="48.8" cy="-46.40" r="4.7" fill="url(#gTiB)"/><circle cx="95.0" cy="-46.40" r="4.4" fill="url(#gTiB)"/><circle cx="61.9" cy="-46.40" r="5.0" fill="url(#gRed)"/><circle cx="72.7" cy="-46.40" r="5.0" fill="url(#gRed)"/><circle cx="-1.8" cy="-23.20" r="5.0" fill="url(#gRed)"/><circle cx="10.6" cy="-23.20" r="5.0" fill="url(#gRed)"/><circle cx="38.0" cy="-23.20" r="4.6" fill="url(#gTiB)"/><circle cx="94.5" cy="-23.20" r="4.4" fill="url(#gTiB)"/><circle cx="30.8" cy="0.00" r="4.7" fill="url(#gTiB)"/><circle cx="48.8" cy="0.00" r="4.7" fill="url(#gTiB)"/><circle cx="95.0" cy="0.00" r="4.4" fill="url(#gTiB)"/><circle cx="61.9" cy="0.00" r="5.0" fill="url(#gRed)"/><circle cx="72.7" cy="0.00" r="5.0" fill="url(#gRed)"/><circle cx="-1.8" cy="23.20" r="5.0" fill="url(#gRed)"/><circle cx="10.6" cy="23.20" r="5.0" fill="url(#gRed)"/><circle cx="38.0" cy="23.20" r="4.6" fill="url(#gTiB)"/><circle cx="94.5" cy="23.20" r="4.4" fill="url(#gTiB)"/><circle cx="30.8" cy="46.40" r="4.7" fill="url(#gTiB)"/><circle cx="48.8" cy="46.40" r="4.7" fill="url(#gTiB)"/><circle cx="95.0" cy="46.40" r="4.4" fill="url(#gTiB)"/><circle cx="61.9" cy="46.40" r="5.0" fill="url(#gRed)"/><circle cx="72.7" cy="46.40" r="5.0" fill="url(#gRed)"/><circle cx="-1.8" cy="69.60" r="5.0" fill="url(#gRed)"/><circle cx="10.6" cy="69.60" r="5.0" fill="url(#gRed)"/><circle cx="38.0" cy="69.60" r="4.6" fill="url(#gTiB)"/><circle cx="94.5" cy="69.60" r="4.4" fill="url(#gTiB)"/><circle cx="30.8" cy="92.80" r="4.7" fill="url(#gTiB)"/><circle cx="48.8" cy="92.80" r="4.7" fill="url(#gTiB)"/><circle cx="95.0" cy="92.80" r="4.4" fill="url(#gTiB)"/><circle cx="61.9" cy="92.80" r="5.0" fill="url(#gRed)"/><circle cx="72.7" cy="92.80" r="5.0" fill="url(#gRed)"/><circle cx="-1.8" cy="116.00" r="5.0" fill="url(#gRed)"/><circle cx="10.6" cy="116.00" r="5.0" fill="url(#gRed)"/><circle cx="38.0" cy="116.00" r="4.6" fill="url(#gTiB)"/><circle cx="94.5" cy="116.00" r="4.4" fill="url(#gTiB)"/><circle cx="0" cy="-46.40" r="5.35" fill="url(#gRed)"/><circle cx="10.0" cy="-46.40" r="5.35" fill="url(#gRed)"/><circle cx="26.8" cy="-46.40" r="5.35" fill="url(#gRed)"/><circle cx="44.9" cy="-46.40" r="5.35" fill="url(#gRed)"/><circle cx="67.3" cy="-46.40" r="5.3" fill="url(#gTi)"/><ellipse cx="81.6" cy="-46.40" rx="5.8" ry="5.2" fill="url(#gBlue)"/><circle cx="91.0" cy="-46.40" r="5.1" fill="url(#gRed)"/><circle cx="26.0" cy="-23.20" r="5.25" fill="url(#gRed)"/><circle cx="46.0" cy="-23.20" r="5.25" fill="url(#gRed)"/><circle cx="62.5" cy="-23.20" r="5.25" fill="url(#gRed)"/><circle cx="72.4" cy="-23.20" r="5.25" fill="url(#gRed)"/><circle cx="89.0" cy="-23.20" r="5.25" fill="url(#gRed)"/><circle cx="4.4" cy="-23.20" r="5.3" fill="url(#gTi)"/><ellipse cx="17.4" cy="-23.20" rx="5.8" ry="5.2" fill="url(#gBlue)"/><circle cx="0" cy="0.00" r="5.35" fill="url(#gRed)"/><circle cx="10.0" cy="0.00" r="5.35" fill="url(#gRed)"/><circle cx="26.8" cy="0.00" r="5.35" fill="url(#gRed)"/><circle cx="44.9" cy="0.00" r="5.35" fill="url(#gRed)"/><circle cx="67.3" cy="0.00" r="5.3" fill="url(#gTi)"/><ellipse cx="81.6" cy="0.00" rx="5.8" ry="5.2" fill="url(#gBlue)"/><circle cx="91.0" cy="0.00" r="5.1" fill="url(#gRed)"/><circle cx="26.0" cy="23.20" r="5.25" fill="url(#gRed)"/><circle cx="46.0" cy="23.20" r="5.25" fill="url(#gRed)"/><circle cx="62.5" cy="23.20" r="5.25" fill="url(#gRed)"/><circle cx="72.4" cy="23.20" r="5.25" fill="url(#gRed)"/><circle cx="89.0" cy="23.20" r="5.25" fill="url(#gRed)"/><circle cx="4.4" cy="23.20" r="5.3" fill="url(#gTi)"/><ellipse cx="17.4" cy="23.20" rx="5.8" ry="5.2" fill="url(#gBlue)"/><circle cx="0" cy="46.40" r="5.35" fill="url(#gRed)"/><circle cx="10.0" cy="46.40" r="5.35" fill="url(#gRed)"/><circle cx="26.8" cy="46.40" r="5.35" fill="url(#gRed)"/><circle cx="44.9" cy="46.40" r="5.35" fill="url(#gRed)"/><circle cx="67.3" cy="46.40" r="5.3" fill="url(#gTi)"/><ellipse cx="81.6" cy="46.40" rx="5.8" ry="5.2" fill="url(#gBlue)"/><circle cx="91.0" cy="46.40" r="5.1" fill="url(#gRed)"/><circle cx="26.0" cy="69.60" r="5.25" fill="url(#gRed)"/><circle cx="46.0" cy="69.60" r="5.25" fill="url(#gRed)"/><circle cx="62.5" cy="69.60" r="5.25" fill="url(#gRed)"/><circle cx="72.4" cy="69.60" r="5.25" fill="url(#gRed)"/><circle cx="89.0" cy="69.60" r="5.25" fill="url(#gRed)"/><circle cx="4.4" cy="69.60" r="5.3" fill="url(#gTi)"/><ellipse cx="17.4" cy="69.60" rx="5.8" ry="5.2" fill="url(#gBlue)"/><circle cx="0" cy="92.80" r="5.35" fill="url(#gRed)"/><circle cx="10.0" cy="92.80" r="5.35" fill="url(#gRed)"/><circle cx="26.8" cy="92.80" r="5.35" fill="url(#gRed)"/><circle cx="44.9" cy="92.80" r="5.35" fill="url(#gRed)"/><circle cx="67.3" cy="92.80" r="5.3" fill="url(#gTi)"/><ellipse cx="81.6" cy="92.80" rx="5.8" ry="5.2" fill="url(#gBlue)"/><circle cx="91.0" cy="92.80" r="5.1" fill="url(#gRed)"/><circle cx="26.0" cy="116.00" r="5.25" fill="url(#gRed)"/><circle cx="46.0" cy="116.00" r="5.25" fill="url(#gRed)"/><circle cx="62.5" cy="116.00" r="5.25" fill="url(#gRed)"/><circle cx="72.4" cy="116.00" r="5.25" fill="url(#gRed)"/><circle cx="89.0" cy="116.00" r="5.25" fill="url(#gRed)"/><circle cx="4.4" cy="116.00" r="5.3" fill="url(#gTi)"/><ellipse cx="17.4" cy="116.00" rx="5.8" ry="5.2" fill="url(#gBlue)"/></g><circle cx="763.8" cy="379.1" r="19.7" fill="url(#gAu)"/><circle cx="752.5" cy="384.2" r="12.0" fill="url(#gC)"/><circle cx="748.9" cy="385.6" r="10.7" fill="url(#gPink)"/><circle cx="719.1" cy="421.7" r="21.9" fill="url(#gCe)"/><circle cx="736.7" cy="442.8" r="17.7" fill="url(#gGreen)" clip-path="url(#k12)"/><circle cx="742.1" cy="405.0" r="10.0" fill="url(#gPink)"/><circle cx="731.4" cy="396.4" r="10.2" fill="url(#gPink)"/></g></g><g clip-path="url(#cS4)"><g filter="url(#soft)"><g transform="translate(594.6,597.8) scale(1.095,1.078)"><line x1="-12" y1="-46.40" x2="58" y2="-46.40" stroke="#ff1414" stroke-width="2.4"/><line x1="58" y1="-46.40" x2="77" y2="-46.40" stroke="#c9c9c9" stroke-width="2.4"/><line x1="77" y1="-46.40" x2="86" y2="-46.40" stroke="#1a1ae0" stroke-width="2.4"/><line x1="86" y1="-46.40" x2="100" y2="-46.40" stroke="#ff1414" stroke-width="2.4"/><line x1="0" y1="-46.40" x2="2.20" y2="-34.80" stroke="#ff1414" stroke-width="2.6"/><line x1="2.20" y1="-34.80" x2="4.4" y2="-23.20" stroke="#c9c9c9" stroke-width="2.6"/><line x1="10" y1="-46.40" x2="7.20" y2="-34.80" stroke="#ff1414" stroke-width="2.6"/><line x1="7.20" y1="-34.80" x2="4.4" y2="-23.20" stroke="#c9c9c9" stroke-width="2.6"/><line x1="26.8" y1="-46.40" x2="25.65" y2="-34.80" stroke="#ff1414" stroke-width="2.6"/><line x1="25.65" y1="-34.80" x2="24.5" y2="-23.20" stroke="#c9c9c9" stroke-width="2.6"/><line x1="31.2" y1="-46.40" x2="30.60" y2="-34.80" stroke="#c9c9c9" stroke-width="2.6"/><line x1="30.60" y1="-34.80" x2="30.0" y2="-23.20" stroke="#ff1414" stroke-width="2.6"/><line x1="44.9" y1="-46.40" x2="45.45" y2="-34.80" stroke="#ff1414" stroke-width="2.6"/><line x1="45.45" y1="-34.80" x2="46.0" y2="-23.20" stroke="#c9c9c9" stroke-width="2.6"/><line x1="49.2" y1="-46.40" x2="49.60" y2="-34.80" stroke="#c9c9c9" stroke-width="2.6"/><line x1="49.60" y1="-34.80" x2="50.0" y2="-23.20" stroke="#ff1414" stroke-width="2.6"/><line x1="67.3" y1="-46.40" x2="64.90" y2="-34.80" stroke="#c9c9c9" stroke-width="2.6"/><line x1="64.90" y1="-34.80" x2="62.5" y2="-23.20" stroke="#ff1414" stroke-width="2.6"/><line x1="67.3" y1="-46.40" x2="69.85" y2="-34.80" stroke="#c9c9c9" stroke-width="2.6"/><line x1="69.85" y1="-34.80" x2="72.4" y2="-23.20" stroke="#ff1414" stroke-width="2.6"/><line x1="90.0" y1="-46.40" x2="89.00" y2="-34.80" stroke="#ff1414" stroke-width="2.6"/><line x1="89.00" y1="-34.80" x2="88.0" y2="-23.20" stroke="#c9c9c9" stroke-width="2.6"/><line x1="95.0" y1="-46.40" x2="94.75" y2="-34.80" stroke="#c9c9c9" stroke-width="2.6"/><line x1="94.75" y1="-34.80" x2="94.5" y2="-23.20" stroke="#ff1414" stroke-width="2.6"/><line x1="-12" y1="-23.20" x2="12" y2="-23.20" stroke="#c9c9c9" stroke-width="2.4"/><line x1="12" y1="-23.20" x2="22" y2="-23.20" stroke="#1a1ae0" stroke-width="2.4"/><line x1="40" y1="-23.20" x2="100" y2="-23.20" stroke="#ff1414" stroke-width="2.4"/><line x1="4.4" y1="-23.20" x2="2.20" y2="-11.60" stroke="#c9c9c9" stroke-width="2.6"/><line x1="2.20" y1="-11.60" x2="0" y2="0.00" stroke="#ff1414" stroke-width="2.6"/><line x1="4.4" y1="-23.20" x2="7.20" y2="-11.60" stroke="#c9c9c9" stroke-width="2.6"/><line x1="7.20" y1="-11.60" x2="10" y2="0.00" stroke="#ff1414" stroke-width="2.6"/><line x1="24.5" y1="-23.20" x2="25.65" y2="-11.60" stroke="#c9c9c9" stroke-width="2.6"/><line x1="25.65" y1="-11.60" x2="26.8" y2="0.00" stroke="#ff1414" stroke-width="2.6"/><line x1="30.0" y1="-23.20" x2="30.60" y2="-11.60" stroke="#ff1414" stroke-width="2.6"/><line x1="30.60" y1="-11.60" x2="31.2" y2="0.00" stroke="#c9c9c9" stroke-width="2.6"/><line x1="46.0" y1="-23.20" x2="45.45" y2="-11.60" stroke="#c9c9c9" stroke-width="2.6"/><line x1="45.45" y1="-11.60" x2="44.9" y2="0.00" stroke="#ff1414" stroke-width="2.6"/><line x1="50.0" y1="-23.20" x2="49.60" y2="-11.60" stroke="#ff1414" stroke-width="2.6"/><line x1="49.60" y1="-11.60" x2="49.2" y2="0.00" stroke="#c9c9c9" stroke-width="2.6"/><line x1="62.5" y1="-23.20" x2="64.90" y2="-11.60" stroke="#ff1414" stroke-width="2.6"/><line x1="64.90" y1="-11.60" x2="67.3" y2="0.00" stroke="#c9c9c9" stroke-width="2.6"/><line x1="72.4" y1="-23.20" x2="69.85" y2="-11.60" stroke="#ff1414" stroke-width="2.6"/><line x1="69.85" y1="-11.60" x2="67.3" y2="0.00" stroke="#c9c9c9" stroke-width="2.6"/><line x1="88.0" y1="-23.20" x2="89.00" y2="-11.60" stroke="#c9c9c9" stroke-width="2.6"/><line x1="89.00" y1="-11.60" x2="90.0" y2="0.00" stroke="#ff1414" stroke-width="2.6"/><line x1="94.5" y1="-23.20" x2="94.75" y2="-11.60" stroke="#ff1414" stroke-width="2.6"/><line x1="94.75" y1="-11.60" x2="95.0" y2="0.00" stroke="#c9c9c9" stroke-width="2.6"/><line x1="-12" y1="0.00" x2="58" y2="0.00" stroke="#ff1414" stroke-width="2.4"/><line x1="58" y1="0.00" x2="77" y2="0.00" stroke="#c9c9c9" stroke-width="2.4"/><line x1="77" y1="0.00" x2="86" y2="0.00" stroke="#1a1ae0" stroke-width="2.4"/><line x1="86" y1="0.00" x2="100" y2="0.00" stroke="#ff1414" stroke-width="2.4"/><line x1="0" y1="0.00" x2="2.20" y2="11.60" stroke="#ff1414" stroke-width="2.6"/><line x1="2.20" y1="11.60" x2="4.4" y2="23.20" stroke="#c9c9c9" stroke-width="2.6"/><line x1="10" y1="0.00" x2="7.20" y2="11.60" stroke="#ff1414" stroke-width="2.6"/><line x1="7.20" y1="11.60" x2="4.4" y2="23.20" stroke="#c9c9c9" stroke-width="2.6"/><line x1="26.8" y1="0.00" x2="25.65" y2="11.60" stroke="#ff1414" stroke-width="2.6"/><line x1="25.65" y1="11.60" x2="24.5" y2="23.20" stroke="#c9c9c9" stroke-width="2.6"/><line x1="31.2" y1="0.00" x2="30.60" y2="11.60" stroke="#c9c9c9" stroke-width="2.6"/><line x1="30.60" y1="11.60" x2="30.0" y2="23.20" stroke="#ff1414" stroke-width="2.6"/><line x1="44.9" y1="0.00" x2="45.45" y2="11.60" stroke="#ff1414" stroke-width="2.6"/><line x1="45.45" y1="11.60" x2="46.0" y2="23.20" stroke="#c9c9c9" stroke-width="2.6"/><line x1="49.2" y1="0.00" x2="49.60" y2="11.60" stroke="#c9c9c9" stroke-width="2.6"/><line x1="49.60" y1="11.60" x2="50.0" y2="23.20" stroke="#ff1414" stroke-width="2.6"/><line x1="67.3" y1="0.00" x2="64.90" y2="11.60" stroke="#c9c9c9" stroke-width="2.6"/><line x1="64.90" y1="11.60" x2="62.5" y2="23.20" stroke="#ff1414" stroke-width="2.6"/><line x1="67.3" y1="0.00" x2="69.85" y2="11.60" stroke="#c9c9c9" stroke-width="2.6"/><line x1="69.85" y1="11.60" x2="72.4" y2="23.20" stroke="#ff1414" stroke-width="2.6"/><line x1="90.0" y1="0.00" x2="89.00" y2="11.60" stroke="#ff1414" stroke-width="2.6"/><line x1="89.00" y1="11.60" x2="88.0" y2="23.20" stroke="#c9c9c9" stroke-width="2.6"/><line x1="95.0" y1="0.00" x2="94.75" y2="11.60" stroke="#c9c9c9" stroke-width="2.6"/><line x1="94.75" y1="11.60" x2="94.5" y2="23.20" stroke="#ff1414" stroke-width="2.6"/><line x1="-12" y1="23.20" x2="12" y2="23.20" stroke="#c9c9c9" stroke-width="2.4"/><line x1="12" y1="23.20" x2="22" y2="23.20" stroke="#1a1ae0" stroke-width="2.4"/><line x1="40" y1="23.20" x2="100" y2="23.20" stroke="#ff1414" stroke-width="2.4"/><line x1="4.4" y1="23.20" x2="2.20" y2="34.80" stroke="#c9c9c9" stroke-width="2.6"/><line x1="2.20" y1="34.80" x2="0" y2="46.40" stroke="#ff1414" stroke-width="2.6"/><line x1="4.4" y1="23.20" x2="7.20" y2="34.80" stroke="#c9c9c9" stroke-width="2.6"/><line x1="7.20" y1="34.80" x2="10" y2="46.40" stroke="#ff1414" stroke-width="2.6"/><line x1="24.5" y1="23.20" x2="25.65" y2="34.80" stroke="#c9c9c9" stroke-width="2.6"/><line x1="25.65" y1="34.80" x2="26.8" y2="46.40" stroke="#ff1414" stroke-width="2.6"/><line x1="30.0" y1="23.20" x2="30.60" y2="34.80" stroke="#ff1414" stroke-width="2.6"/><line x1="30.60" y1="34.80" x2="31.2" y2="46.40" stroke="#c9c9c9" stroke-width="2.6"/><line x1="46.0" y1="23.20" x2="45.45" y2="34.80" stroke="#c9c9c9" stroke-width="2.6"/><line x1="45.45" y1="34.80" x2="44.9" y2="46.40" stroke="#ff1414" stroke-width="2.6"/><line x1="50.0" y1="23.20" x2="49.60" y2="34.80" stroke="#ff1414" stroke-width="2.6"/><line x1="49.60" y1="34.80" x2="49.2" y2="46.40" stroke="#c9c9c9" stroke-width="2.6"/><line x1="62.5" y1="23.20" x2="64.90" y2="34.80" stroke="#ff1414" stroke-width="2.6"/><line x1="64.90" y1="34.80" x2="67.3" y2="46.40" stroke="#c9c9c9" stroke-width="2.6"/><line x1="72.4" y1="23.20" x2="69.85" y2="34.80" stroke="#ff1414" stroke-width="2.6"/><line x1="69.85" y1="34.80" x2="67.3" y2="46.40" stroke="#c9c9c9" stroke-width="2.6"/><line x1="88.0" y1="23.20" x2="89.00" y2="34.80" stroke="#c9c9c9" stroke-width="2.6"/><line x1="89.00" y1="34.80" x2="90.0" y2="46.40" stroke="#ff1414" stroke-width="2.6"/><line x1="94.5" y1="23.20" x2="94.75" y2="34.80" stroke="#ff1414" stroke-width="2.6"/><line x1="94.75" y1="34.80" x2="95.0" y2="46.40" stroke="#c9c9c9" stroke-width="2.6"/><line x1="-12" y1="46.40" x2="58" y2="46.40" stroke="#ff1414" stroke-width="2.4"/><line x1="58" y1="46.40" x2="77" y2="46.40" stroke="#c9c9c9" stroke-width="2.4"/><line x1="77" y1="46.40" x2="86" y2="46.40" stroke="#1a1ae0" stroke-width="2.4"/><line x1="86" y1="46.40" x2="100" y2="46.40" stroke="#ff1414" stroke-width="2.4"/><line x1="0" y1="46.40" x2="2.20" y2="58.00" stroke="#ff1414" stroke-width="2.6"/><line x1="2.20" y1="58.00" x2="4.4" y2="69.60" stroke="#c9c9c9" stroke-width="2.6"/><line x1="10" y1="46.40" x2="7.20" y2="58.00" stroke="#ff1414" stroke-width="2.6"/><line x1="7.20" y1="58.00" x2="4.4" y2="69.60" stroke="#c9c9c9" stroke-width="2.6"/><line x1="26.8" y1="46.40" x2="25.65" y2="58.00" stroke="#ff1414" stroke-width="2.6"/><line x1="25.65" y1="58.00" x2="24.5" y2="69.60" stroke="#c9c9c9" stroke-width="2.6"/><line x1="31.2" y1="46.40" x2="30.60" y2="58.00" stroke="#c9c9c9" stroke-width="2.6"/><line x1="30.60" y1="58.00" x2="30.0" y2="69.60" stroke="#ff1414" stroke-width="2.6"/><line x1="44.9" y1="46.40" x2="45.45" y2="58.00" stroke="#ff1414" stroke-width="2.6"/><line x1="45.45" y1="58.00" x2="46.0" y2="69.60" stroke="#c9c9c9" stroke-width="2.6"/><line x1="49.2" y1="46.40" x2="49.60" y2="58.00" stroke="#c9c9c9" stroke-width="2.6"/><line x1="49.60" y1="58.00" x2="50.0" y2="69.60" stroke="#ff1414" stroke-width="2.6"/><line x1="67.3" y1="46.40" x2="64.90" y2="58.00" stroke="#c9c9c9" stroke-width="2.6"/><line x1="64.90" y1="58.00" x2="62.5" y2="69.60" stroke="#ff1414" stroke-width="2.6"/><line x1="67.3" y1="46.40" x2="69.85" y2="58.00" stroke="#c9c9c9" stroke-width="2.6"/><line x1="69.85" y1="58.00" x2="72.4" y2="69.60" stroke="#ff1414" stroke-width="2.6"/><line x1="90.0" y1="46.40" x2="89.00" y2="58.00" stroke="#ff1414" stroke-width="2.6"/><line x1="89.00" y1="58.00" x2="88.0" y2="69.60" stroke="#c9c9c9" stroke-width="2.6"/><line x1="95.0" y1="46.40" x2="94.75" y2="58.00" stroke="#c9c9c9" stroke-width="2.6"/><line x1="94.75" y1="58.00" x2="94.5" y2="69.60" stroke="#ff1414" stroke-width="2.6"/><line x1="-12" y1="69.60" x2="12" y2="69.60" stroke="#c9c9c9" stroke-width="2.4"/><line x1="12" y1="69.60" x2="22" y2="69.60" stroke="#1a1ae0" stroke-width="2.4"/><line x1="40" y1="69.60" x2="100" y2="69.60" stroke="#ff1414" stroke-width="2.4"/><line x1="4.4" y1="69.60" x2="2.20" y2="81.20" stroke="#c9c9c9" stroke-width="2.6"/><line x1="2.20" y1="81.20" x2="0" y2="92.80" stroke="#ff1414" stroke-width="2.6"/><line x1="4.4" y1="69.60" x2="7.20" y2="81.20" stroke="#c9c9c9" stroke-width="2.6"/><line x1="7.20" y1="81.20" x2="10" y2="92.80" stroke="#ff1414" stroke-width="2.6"/><line x1="24.5" y1="69.60" x2="25.65" y2="81.20" stroke="#c9c9c9" stroke-width="2.6"/><line x1="25.65" y1="81.20" x2="26.8" y2="92.80" stroke="#ff1414" stroke-width="2.6"/><line x1="30.0" y1="69.60" x2="30.60" y2="81.20" stroke="#ff1414" stroke-width="2.6"/><line x1="30.60" y1="81.20" x2="31.2" y2="92.80" stroke="#c9c9c9" stroke-width="2.6"/><line x1="46.0" y1="69.60" x2="45.45" y2="81.20" stroke="#c9c9c9" stroke-width="2.6"/><line x1="45.45" y1="81.20" x2="44.9" y2="92.80" stroke="#ff1414" stroke-width="2.6"/><line x1="50.0" y1="69.60" x2="49.60" y2="81.20" stroke="#ff1414" stroke-width="2.6"/><line x1="49.60" y1="81.20" x2="49.2" y2="92.80" stroke="#c9c9c9" stroke-width="2.6"/><line x1="62.5" y1="69.60" x2="64.90" y2="81.20" stroke="#ff1414" stroke-width="2.6"/><line x1="64.90" y1="81.20" x2="67.3" y2="92.80" stroke="#c9c9c9" stroke-width="2.6"/><line x1="72.4" y1="69.60" x2="69.85" y2="81.20" stroke="#ff1414" stroke-width="2.6"/><line x1="69.85" y1="81.20" x2="67.3" y2="92.80" stroke="#c9c9c9" stroke-width="2.6"/><line x1="88.0" y1="69.60" x2="89.00" y2="81.20" stroke="#c9c9c9" stroke-width="2.6"/><line x1="89.00" y1="81.20" x2="90.0" y2="92.80" stroke="#ff1414" stroke-width="2.6"/><line x1="94.5" y1="69.60" x2="94.75" y2="81.20" stroke="#ff1414" stroke-width="2.6"/><line x1="94.75" y1="81.20" x2="95.0" y2="92.80" stroke="#c9c9c9" stroke-width="2.6"/><line x1="-12" y1="92.80" x2="58" y2="92.80" stroke="#ff1414" stroke-width="2.4"/><line x1="58" y1="92.80" x2="77" y2="92.80" stroke="#c9c9c9" stroke-width="2.4"/><line x1="77" y1="92.80" x2="86" y2="92.80" stroke="#1a1ae0" stroke-width="2.4"/><line x1="86" y1="92.80" x2="100" y2="92.80" stroke="#ff1414" stroke-width="2.4"/><line x1="0" y1="92.80" x2="2.20" y2="104.40" stroke="#ff1414" stroke-width="2.6"/><line x1="2.20" y1="104.40" x2="4.4" y2="116.00" stroke="#c9c9c9" stroke-width="2.6"/><line x1="10" y1="92.80" x2="7.20" y2="104.40" stroke="#ff1414" stroke-width="2.6"/><line x1="7.20" y1="104.40" x2="4.4" y2="116.00" stroke="#c9c9c9" stroke-width="2.6"/><line x1="26.8" y1="92.80" x2="25.65" y2="104.40" stroke="#ff1414" stroke-width="2.6"/><line x1="25.65" y1="104.40" x2="24.5" y2="116.00" stroke="#c9c9c9" stroke-width="2.6"/><line x1="31.2" y1="92.80" x2="30.60" y2="104.40" stroke="#c9c9c9" stroke-width="2.6"/><line x1="30.60" y1="104.40" x2="30.0" y2="116.00" stroke="#ff1414" stroke-width="2.6"/><line x1="44.9" y1="92.80" x2="45.45" y2="104.40" stroke="#ff1414" stroke-width="2.6"/><line x1="45.45" y1="104.40" x2="46.0" y2="116.00" stroke="#c9c9c9" stroke-width="2.6"/><line x1="49.2" y1="92.80" x2="49.60" y2="104.40" stroke="#c9c9c9" stroke-width="2.6"/><line x1="49.60" y1="104.40" x2="50.0" y2="116.00" stroke="#ff1414" stroke-width="2.6"/><line x1="67.3" y1="92.80" x2="64.90" y2="104.40" stroke="#c9c9c9" stroke-width="2.6"/><line x1="64.90" y1="104.40" x2="62.5" y2="116.00" stroke="#ff1414" stroke-width="2.6"/><line x1="67.3" y1="92.80" x2="69.85" y2="104.40" stroke="#c9c9c9" stroke-width="2.6"/><line x1="69.85" y1="104.40" x2="72.4" y2="116.00" stroke="#ff1414" stroke-width="2.6"/><line x1="90.0" y1="92.80" x2="89.00" y2="104.40" stroke="#ff1414" stroke-width="2.6"/><line x1="89.00" y1="104.40" x2="88.0" y2="116.00" stroke="#c9c9c9" stroke-width="2.6"/><line x1="95.0" y1="92.80" x2="94.75" y2="104.40" stroke="#c9c9c9" stroke-width="2.6"/><line x1="94.75" y1="104.40" x2="94.5" y2="116.00" stroke="#ff1414" stroke-width="2.6"/><line x1="-12" y1="116.00" x2="12" y2="116.00" stroke="#c9c9c9" stroke-width="2.4"/><line x1="12" y1="116.00" x2="22" y2="116.00" stroke="#1a1ae0" stroke-width="2.4"/><line x1="40" y1="116.00" x2="100" y2="116.00" stroke="#ff1414" stroke-width="2.4"/><line x1="4.4" y1="116.00" x2="2.20" y2="127.60" stroke="#c9c9c9" stroke-width="2.6"/><line x1="2.20" y1="127.60" x2="0" y2="139.20" stroke="#ff1414" stroke-width="2.6"/><line x1="4.4" y1="116.00" x2="7.20" y2="127.60" stroke="#c9c9c9" stroke-width="2.6"/><line x1="7.20" y1="127.60" x2="10" y2="139.20" stroke="#ff1414" stroke-width="2.6"/><line x1="24.5" y1="116.00" x2="25.65" y2="127.60" stroke="#c9c9c9" stroke-width="2.6"/><line x1="25.65" y1="127.60" x2="26.8" y2="139.20" stroke="#ff1414" stroke-width="2.6"/><line x1="30.0" y1="116.00" x2="30.60" y2="127.60" stroke="#ff1414" stroke-width="2.6"/><line x1="30.60" y1="127.60" x2="31.2" y2="139.20" stroke="#c9c9c9" stroke-width="2.6"/><line x1="46.0" y1="116.00" x2="45.45" y2="127.60" stroke="#c9c9c9" stroke-width="2.6"/><line x1="45.45" y1="127.60" x2="44.9" y2="139.20" stroke="#ff1414" stroke-width="2.6"/><line x1="50.0" y1="116.00" x2="49.60" y2="127.60" stroke="#ff1414" stroke-width="2.6"/><line x1="49.60" y1="127.60" x2="49.2" y2="139.20" stroke="#c9c9c9" stroke-width="2.6"/><line x1="62.5" y1="116.00" x2="64.90" y2="127.60" stroke="#ff1414" stroke-width="2.6"/><line x1="64.90" y1="127.60" x2="67.3" y2="139.20" stroke="#c9c9c9" stroke-width="2.6"/><line x1="72.4" y1="116.00" x2="69.85" y2="127.60" stroke="#ff1414" stroke-width="2.6"/><line x1="69.85" y1="127.60" x2="67.3" y2="139.20" stroke="#c9c9c9" stroke-width="2.6"/><line x1="88.0" y1="116.00" x2="89.00" y2="127.60" stroke="#c9c9c9" stroke-width="2.6"/><line x1="89.00" y1="127.60" x2="90.0" y2="139.20" stroke="#ff1414" stroke-width="2.6"/><line x1="94.5" y1="116.00" x2="94.75" y2="127.60" stroke="#ff1414" stroke-width="2.6"/><line x1="94.75" y1="127.60" x2="95.0" y2="139.20" stroke="#c9c9c9" stroke-width="2.6"/><circle cx="30.8" cy="-46.40" r="4.7" fill="url(#gTiB)"/><circle cx="48.8" cy="-46.40" r="4.7" fill="url(#gTiB)"/><circle cx="95.0" cy="-46.40" r="4.4" fill="url(#gTiB)"/><circle cx="61.9" cy="-46.40" r="5.0" fill="url(#gRed)"/><circle cx="72.7" cy="-46.40" r="5.0" fill="url(#gRed)"/><circle cx="-1.8" cy="-23.20" r="5.0" fill="url(#gRed)"/><circle cx="10.6" cy="-23.20" r="5.0" fill="url(#gRed)"/><circle cx="38.0" cy="-23.20" r="4.6" fill="url(#gTiB)"/><circle cx="94.5" cy="-23.20" r="4.4" fill="url(#gTiB)"/><circle cx="30.8" cy="0.00" r="4.7" fill="url(#gTiB)"/><circle cx="48.8" cy="0.00" r="4.7" fill="url(#gTiB)"/><circle cx="95.0" cy="0.00" r="4.4" fill="url(#gTiB)"/><circle cx="61.9" cy="0.00" r="5.0" fill="url(#gRed)"/><circle cx="72.7" cy="0.00" r="5.0" fill="url(#gRed)"/><circle cx="-1.8" cy="23.20" r="5.0" fill="url(#gRed)"/><circle cx="10.6" cy="23.20" r="5.0" fill="url(#gRed)"/><circle cx="38.0" cy="23.20" r="4.6" fill="url(#gTiB)"/><circle cx="94.5" cy="23.20" r="4.4" fill="url(#gTiB)"/><circle cx="30.8" cy="46.40" r="4.7" fill="url(#gTiB)"/><circle cx="48.8" cy="46.40" r="4.7" fill="url(#gTiB)"/><circle cx="95.0" cy="46.40" r="4.4" fill="url(#gTiB)"/><circle cx="61.9" cy="46.40" r="5.0" fill="url(#gRed)"/><circle cx="72.7" cy="46.40" r="5.0" fill="url(#gRed)"/><circle cx="-1.8" cy="69.60" r="5.0" fill="url(#gRed)"/><circle cx="10.6" cy="69.60" r="5.0" fill="url(#gRed)"/><circle cx="38.0" cy="69.60" r="4.6" fill="url(#gTiB)"/><circle cx="94.5" cy="69.60" r="4.4" fill="url(#gTiB)"/><circle cx="30.8" cy="92.80" r="4.7" fill="url(#gTiB)"/><circle cx="48.8" cy="92.80" r="4.7" fill="url(#gTiB)"/><circle cx="95.0" cy="92.80" r="4.4" fill="url(#gTiB)"/><circle cx="61.9" cy="92.80" r="5.0" fill="url(#gRed)"/><circle cx="72.7" cy="92.80" r="5.0" fill="url(#gRed)"/><circle cx="-1.8" cy="116.00" r="5.0" fill="url(#gRed)"/><circle cx="10.6" cy="116.00" r="5.0" fill="url(#gRed)"/><circle cx="38.0" cy="116.00" r="4.6" fill="url(#gTiB)"/><circle cx="94.5" cy="116.00" r="4.4" fill="url(#gTiB)"/><circle cx="0" cy="-46.40" r="5.35" fill="url(#gRed)"/><circle cx="10.0" cy="-46.40" r="5.35" fill="url(#gRed)"/><circle cx="26.8" cy="-46.40" r="5.35" fill="url(#gRed)"/><circle cx="44.9" cy="-46.40" r="5.35" fill="url(#gRed)"/><circle cx="67.3" cy="-46.40" r="5.3" fill="url(#gTi)"/><ellipse cx="81.6" cy="-46.40" rx="5.8" ry="5.2" fill="url(#gBlue)"/><circle cx="91.0" cy="-46.40" r="5.1" fill="url(#gRed)"/><circle cx="26.0" cy="-23.20" r="5.25" fill="url(#gRed)"/><circle cx="46.0" cy="-23.20" r="5.25" fill="url(#gRed)"/><circle cx="62.5" cy="-23.20" r="5.25" fill="url(#gRed)"/><circle cx="72.4" cy="-23.20" r="5.25" fill="url(#gRed)"/><circle cx="89.0" cy="-23.20" r="5.25" fill="url(#gRed)"/><circle cx="4.4" cy="-23.20" r="5.3" fill="url(#gTi)"/><ellipse cx="17.4" cy="-23.20" rx="5.8" ry="5.2" fill="url(#gBlue)"/><circle cx="0" cy="0.00" r="5.35" fill="url(#gRed)"/><circle cx="10.0" cy="0.00" r="5.35" fill="url(#gRed)"/><circle cx="26.8" cy="0.00" r="5.35" fill="url(#gRed)"/><circle cx="44.9" cy="0.00" r="5.35" fill="url(#gRed)"/><circle cx="67.3" cy="0.00" r="5.3" fill="url(#gTi)"/><ellipse cx="81.6" cy="0.00" rx="5.8" ry="5.2" fill="url(#gBlue)"/><circle cx="91.0" cy="0.00" r="5.1" fill="url(#gRed)"/><circle cx="26.0" cy="23.20" r="5.25" fill="url(#gRed)"/><circle cx="46.0" cy="23.20" r="5.25" fill="url(#gRed)"/><circle cx="62.5" cy="23.20" r="5.25" fill="url(#gRed)"/><circle cx="72.4" cy="23.20" r="5.25" fill="url(#gRed)"/><circle cx="89.0" cy="23.20" r="5.25" fill="url(#gRed)"/><circle cx="4.4" cy="23.20" r="5.3" fill="url(#gTi)"/><ellipse cx="17.4" cy="23.20" rx="5.8" ry="5.2" fill="url(#gBlue)"/><circle cx="0" cy="46.40" r="5.35" fill="url(#gRed)"/><circle cx="10.0" cy="46.40" r="5.35" fill="url(#gRed)"/><circle cx="26.8" cy="46.40" r="5.35" fill="url(#gRed)"/><circle cx="44.9" cy="46.40" r="5.35" fill="url(#gRed)"/><circle cx="67.3" cy="46.40" r="5.3" fill="url(#gTi)"/><ellipse cx="81.6" cy="46.40" rx="5.8" ry="5.2" fill="url(#gBlue)"/><circle cx="91.0" cy="46.40" r="5.1" fill="url(#gRed)"/><circle cx="26.0" cy="69.60" r="5.25" fill="url(#gRed)"/><circle cx="46.0" cy="69.60" r="5.25" fill="url(#gRed)"/><circle cx="62.5" cy="69.60" r="5.25" fill="url(#gRed)"/><circle cx="72.4" cy="69.60" r="5.25" fill="url(#gRed)"/><circle cx="89.0" cy="69.60" r="5.25" fill="url(#gRed)"/><circle cx="4.4" cy="69.60" r="5.3" fill="url(#gTi)"/><ellipse cx="17.4" cy="69.60" rx="5.8" ry="5.2" fill="url(#gBlue)"/><circle cx="0" cy="92.80" r="5.35" fill="url(#gRed)"/><circle cx="10.0" cy="92.80" r="5.35" fill="url(#gRed)"/><circle cx="26.8" cy="92.80" r="5.35" fill="url(#gRed)"/><circle cx="44.9" cy="92.80" r="5.35" fill="url(#gRed)"/><circle cx="67.3" cy="92.80" r="5.3" fill="url(#gTi)"/><ellipse cx="81.6" cy="92.80" rx="5.8" ry="5.2" fill="url(#gBlue)"/><circle cx="91.0" cy="92.80" r="5.1" fill="url(#gRed)"/><circle cx="26.0" cy="116.00" r="5.25" fill="url(#gRed)"/><circle cx="46.0" cy="116.00" r="5.25" fill="url(#gRed)"/><circle cx="62.5" cy="116.00" r="5.25" fill="url(#gRed)"/><circle cx="72.4" cy="116.00" r="5.25" fill="url(#gRed)"/><circle cx="89.0" cy="116.00" r="5.25" fill="url(#gRed)"/><circle cx="4.4" cy="116.00" r="5.3" fill="url(#gTi)"/><ellipse cx="17.4" cy="116.00" rx="5.8" ry="5.2" fill="url(#gBlue)"/></g><circle cx="675.9" cy="602.3" r="21.3" fill="url(#gAu)"/><circle cx="667.5" cy="605.5" r="13.6" fill="url(#gC)"/><circle cx="664.2" cy="607.5" r="11.6" fill="url(#gPink)"/><circle cx="624.9" cy="648.5" r="23.4" fill="url(#gCe)"/><circle cx="644.4" cy="671.2" r="19.5" fill="url(#gGreen)" clip-path="url(#k13)"/><circle cx="650.3" cy="627.0" r="11.0" fill="url(#gPink)"/><circle cx="636.9" cy="621.8" r="11.2" fill="url(#gPink)"/></g></g><g clip-path="url(#cS5)"><g filter="url(#soft)"><g transform="translate(747.4,683.2) scale(0.998)"><line x1="-12" y1="-23.20" x2="12" y2="-23.20" stroke="#c9c9c9" stroke-width="2.4"/><line x1="12" y1="-23.20" x2="22" y2="-23.20" stroke="#1a1ae0" stroke-width="2.4"/><line x1="40" y1="-23.20" x2="100" y2="-23.20" stroke="#ff1414" stroke-width="2.4"/><line x1="4.4" y1="-23.20" x2="2.20" y2="-11.60" stroke="#c9c9c9" stroke-width="2.6"/><line x1="2.20" y1="-11.60" x2="0" y2="0.00" stroke="#ff1414" stroke-width="2.6"/><line x1="4.4" y1="-23.20" x2="7.20" y2="-11.60" stroke="#c9c9c9" stroke-width="2.6"/><line x1="7.20" y1="-11.60" x2="10" y2="0.00" stroke="#ff1414" stroke-width="2.6"/><line x1="24.5" y1="-23.20" x2="25.65" y2="-11.60" stroke="#c9c9c9" stroke-width="2.6"/><line x1="25.65" y1="-11.60" x2="26.8" y2="0.00" stroke="#ff1414" stroke-width="2.6"/><line x1="30.0" y1="-23.20" x2="30.60" y2="-11.60" stroke="#ff1414" stroke-width="2.6"/><line x1="30.60" y1="-11.60" x2="31.2" y2="0.00" stroke="#c9c9c9" stroke-width="2.6"/><line x1="46.0" y1="-23.20" x2="45.45" y2="-11.60" stroke="#c9c9c9" stroke-width="2.6"/><line x1="45.45" y1="-11.60" x2="44.9" y2="0.00" stroke="#ff1414" stroke-width="2.6"/><line x1="50.0" y1="-23.20" x2="49.60" y2="-11.60" stroke="#ff1414" stroke-width="2.6"/><line x1="49.60" y1="-11.60" x2="49.2" y2="0.00" stroke="#c9c9c9" stroke-width="2.6"/><line x1="62.5" y1="-23.20" x2="64.90" y2="-11.60" stroke="#ff1414" stroke-width="2.6"/><line x1="64.90" y1="-11.60" x2="67.3" y2="0.00" stroke="#c9c9c9" stroke-width="2.6"/><line x1="72.4" y1="-23.20" x2="69.85" y2="-11.60" stroke="#ff1414" stroke-width="2.6"/><line x1="69.85" y1="-11.60" x2="67.3" y2="0.00" stroke="#c9c9c9" stroke-width="2.6"/><line x1="88.0" y1="-23.20" x2="89.00" y2="-11.60" stroke="#c9c9c9" stroke-width="2.6"/><line x1="89.00" y1="-11.60" x2="90.0" y2="0.00" stroke="#ff1414" stroke-width="2.6"/><line x1="94.5" y1="-23.20" x2="94.75" y2="-11.60" stroke="#ff1414" stroke-width="2.6"/><line x1="94.75" y1="-11.60" x2="95.0" y2="0.00" stroke="#c9c9c9" stroke-width="2.6"/><line x1="-12" y1="0.00" x2="58" y2="0.00" stroke="#ff1414" stroke-width="2.4"/><line x1="58" y1="0.00" x2="77" y2="0.00" stroke="#c9c9c9" stroke-width="2.4"/><line x1="77" y1="0.00" x2="86" y2="0.00" stroke="#1a1ae0" stroke-width="2.4"/><line x1="86" y1="0.00" x2="100" y2="0.00" stroke="#ff1414" stroke-width="2.4"/><line x1="0" y1="0.00" x2="2.20" y2="11.60" stroke="#ff1414" stroke-width="2.6"/><line x1="2.20" y1="11.60" x2="4.4" y2="23.20" stroke="#c9c9c9" stroke-width="2.6"/><line x1="10" y1="0.00" x2="7.20" y2="11.60" stroke="#ff1414" stroke-width="2.6"/><line x1="7.20" y1="11.60" x2="4.4" y2="23.20" stroke="#c9c9c9" stroke-width="2.6"/><line x1="26.8" y1="0.00" x2="25.65" y2="11.60" stroke="#ff1414" stroke-width="2.6"/><line x1="25.65" y1="11.60" x2="24.5" y2="23.20" stroke="#c9c9c9" stroke-width="2.6"/><line x1="31.2" y1="0.00" x2="30.60" y2="11.60" stroke="#c9c9c9" stroke-width="2.6"/><line x1="30.60" y1="11.60" x2="30.0" y2="23.20" stroke="#ff1414" stroke-width="2.6"/><line x1="44.9" y1="0.00" x2="45.45" y2="11.60" stroke="#ff1414" stroke-width="2.6"/><line x1="45.45" y1="11.60" x2="46.0" y2="23.20" stroke="#c9c9c9" stroke-width="2.6"/><line x1="49.2" y1="0.00" x2="49.60" y2="11.60" stroke="#c9c9c9" stroke-width="2.6"/><line x1="49.60" y1="11.60" x2="50.0" y2="23.20" stroke="#ff1414" stroke-width="2.6"/><line x1="67.3" y1="0.00" x2="64.90" y2="11.60" stroke="#c9c9c9" stroke-width="2.6"/><line x1="64.90" y1="11.60" x2="62.5" y2="23.20" stroke="#ff1414" stroke-width="2.6"/><line x1="67.3" y1="0.00" x2="69.85" y2="11.60" stroke="#c9c9c9" stroke-width="2.6"/><line x1="69.85" y1="11.60" x2="72.4" y2="23.20" stroke="#ff1414" stroke-width="2.6"/><line x1="90.0" y1="0.00" x2="89.00" y2="11.60" stroke="#ff1414" stroke-width="2.6"/><line x1="89.00" y1="11.60" x2="88.0" y2="23.20" stroke="#c9c9c9" stroke-width="2.6"/><line x1="95.0" y1="0.00" x2="94.75" y2="11.60" stroke="#c9c9c9" stroke-width="2.6"/><line x1="94.75" y1="11.60" x2="94.5" y2="23.20" stroke="#ff1414" stroke-width="2.6"/><line x1="-12" y1="23.20" x2="12" y2="23.20" stroke="#c9c9c9" stroke-width="2.4"/><line x1="12" y1="23.20" x2="22" y2="23.20" stroke="#1a1ae0" stroke-width="2.4"/><line x1="40" y1="23.20" x2="100" y2="23.20" stroke="#ff1414" stroke-width="2.4"/><line x1="4.4" y1="23.20" x2="2.20" y2="34.80" stroke="#c9c9c9" stroke-width="2.6"/><line x1="2.20" y1="34.80" x2="0" y2="46.40" stroke="#ff1414" stroke-width="2.6"/><line x1="4.4" y1="23.20" x2="7.20" y2="34.80" stroke="#c9c9c9" stroke-width="2.6"/><line x1="7.20" y1="34.80" x2="10" y2="46.40" stroke="#ff1414" stroke-width="2.6"/><line x1="24.5" y1="23.20" x2="25.65" y2="34.80" stroke="#c9c9c9" stroke-width="2.6"/><line x1="25.65" y1="34.80" x2="26.8" y2="46.40" stroke="#ff1414" stroke-width="2.6"/><line x1="30.0" y1="23.20" x2="30.60" y2="34.80" stroke="#ff1414" stroke-width="2.6"/><line x1="30.60" y1="34.80" x2="31.2" y2="46.40" stroke="#c9c9c9" stroke-width="2.6"/><line x1="46.0" y1="23.20" x2="45.45" y2="34.80" stroke="#c9c9c9" stroke-width="2.6"/><line x1="45.45" y1="34.80" x2="44.9" y2="46.40" stroke="#ff1414" stroke-width="2.6"/><line x1="50.0" y1="23.20" x2="49.60" y2="34.80" stroke="#ff1414" stroke-width="2.6"/><line x1="49.60" y1="34.80" x2="49.2" y2="46.40" stroke="#c9c9c9" stroke-width="2.6"/><line x1="62.5" y1="23.20" x2="64.90" y2="34.80" stroke="#ff1414" stroke-width="2.6"/><line x1="64.90" y1="34.80" x2="67.3" y2="46.40" stroke="#c9c9c9" stroke-width="2.6"/><line x1="72.4" y1="23.20" x2="69.85" y2="34.80" stroke="#ff1414" stroke-width="2.6"/><line x1="69.85" y1="34.80" x2="67.3" y2="46.40" stroke="#c9c9c9" stroke-width="2.6"/><line x1="88.0" y1="23.20" x2="89.00" y2="34.80" stroke="#c9c9c9" stroke-width="2.6"/><line x1="89.00" y1="34.80" x2="90.0" y2="46.40" stroke="#ff1414" stroke-width="2.6"/><line x1="94.5" y1="23.20" x2="94.75" y2="34.80" stroke="#ff1414" stroke-width="2.6"/><line x1="94.75" y1="34.80" x2="95.0" y2="46.40" stroke="#c9c9c9" stroke-width="2.6"/><line x1="-12" y1="46.40" x2="58" y2="46.40" stroke="#ff1414" stroke-width="2.4"/><line x1="58" y1="46.40" x2="77" y2="46.40" stroke="#c9c9c9" stroke-width="2.4"/><line x1="77" y1="46.40" x2="86" y2="46.40" stroke="#1a1ae0" stroke-width="2.4"/><line x1="86" y1="46.40" x2="100" y2="46.40" stroke="#ff1414" stroke-width="2.4"/><line x1="0" y1="46.40" x2="2.20" y2="58.00" stroke="#ff1414" stroke-width="2.6"/><line x1="2.20" y1="58.00" x2="4.4" y2="69.60" stroke="#c9c9c9" stroke-width="2.6"/><line x1="10" y1="46.40" x2="7.20" y2="58.00" stroke="#ff1414" stroke-width="2.6"/><line x1="7.20" y1="58.00" x2="4.4" y2="69.60" stroke="#c9c9c9" stroke-width="2.6"/><line x1="26.8" y1="46.40" x2="25.65" y2="58.00" stroke="#ff1414" stroke-width="2.6"/><line x1="25.65" y1="58.00" x2="24.5" y2="69.60" stroke="#c9c9c9" stroke-width="2.6"/><line x1="31.2" y1="46.40" x2="30.60" y2="58.00" stroke="#c9c9c9" stroke-width="2.6"/><line x1="30.60" y1="58.00" x2="30.0" y2="69.60" stroke="#ff1414" stroke-width="2.6"/><line x1="44.9" y1="46.40" x2="45.45" y2="58.00" stroke="#ff1414" stroke-width="2.6"/><line x1="45.45" y1="58.00" x2="46.0" y2="69.60" stroke="#c9c9c9" stroke-width="2.6"/><line x1="49.2" y1="46.40" x2="49.60" y2="58.00" stroke="#c9c9c9" stroke-width="2.6"/><line x1="49.60" y1="58.00" x2="50.0" y2="69.60" stroke="#ff1414" stroke-width="2.6"/><line x1="67.3" y1="46.40" x2="64.90" y2="58.00" stroke="#c9c9c9" stroke-width="2.6"/><line x1="64.90" y1="58.00" x2="62.5" y2="69.60" stroke="#ff1414" stroke-width="2.6"/><line x1="67.3" y1="46.40" x2="69.85" y2="58.00" stroke="#c9c9c9" stroke-width="2.6"/><line x1="69.85" y1="58.00" x2="72.4" y2="69.60" stroke="#ff1414" stroke-width="2.6"/><line x1="90.0" y1="46.40" x2="89.00" y2="58.00" stroke="#ff1414" stroke-width="2.6"/><line x1="89.00" y1="58.00" x2="88.0" y2="69.60" stroke="#c9c9c9" stroke-width="2.6"/><line x1="95.0" y1="46.40" x2="94.75" y2="58.00" stroke="#c9c9c9" stroke-width="2.6"/><line x1="94.75" y1="58.00" x2="94.5" y2="69.60" stroke="#ff1414" stroke-width="2.6"/><line x1="-12" y1="69.60" x2="12" y2="69.60" stroke="#c9c9c9" stroke-width="2.4"/><line x1="12" y1="69.60" x2="22" y2="69.60" stroke="#1a1ae0" stroke-width="2.4"/><line x1="40" y1="69.60" x2="100" y2="69.60" stroke="#ff1414" stroke-width="2.4"/><line x1="4.4" y1="69.60" x2="2.20" y2="81.20" stroke="#c9c9c9" stroke-width="2.6"/><line x1="2.20" y1="81.20" x2="0" y2="92.80" stroke="#ff1414" stroke-width="2.6"/><line x1="4.4" y1="69.60" x2="7.20" y2="81.20" stroke="#c9c9c9" stroke-width="2.6"/><line x1="7.20" y1="81.20" x2="10" y2="92.80" stroke="#ff1414" stroke-width="2.6"/><line x1="24.5" y1="69.60" x2="25.65" y2="81.20" stroke="#c9c9c9" stroke-width="2.6"/><line x1="25.65" y1="81.20" x2="26.8" y2="92.80" stroke="#ff1414" stroke-width="2.6"/><line x1="30.0" y1="69.60" x2="30.60" y2="81.20" stroke="#ff1414" stroke-width="2.6"/><line x1="30.60" y1="81.20" x2="31.2" y2="92.80" stroke="#c9c9c9" stroke-width="2.6"/><line x1="46.0" y1="69.60" x2="45.45" y2="81.20" stroke="#c9c9c9" stroke-width="2.6"/><line x1="45.45" y1="81.20" x2="44.9" y2="92.80" stroke="#ff1414" stroke-width="2.6"/><line x1="50.0" y1="69.60" x2="49.60" y2="81.20" stroke="#ff1414" stroke-width="2.6"/><line x1="49.60" y1="81.20" x2="49.2" y2="92.80" stroke="#c9c9c9" stroke-width="2.6"/><line x1="62.5" y1="69.60" x2="64.90" y2="81.20" stroke="#ff1414" stroke-width="2.6"/><line x1="64.90" y1="81.20" x2="67.3" y2="92.80" stroke="#c9c9c9" stroke-width="2.6"/><line x1="72.4" y1="69.60" x2="69.85" y2="81.20" stroke="#ff1414" stroke-width="2.6"/><line x1="69.85" y1="81.20" x2="67.3" y2="92.80" stroke="#c9c9c9" stroke-width="2.6"/><line x1="88.0" y1="69.60" x2="89.00" y2="81.20" stroke="#c9c9c9" stroke-width="2.6"/><line x1="89.00" y1="81.20" x2="90.0" y2="92.80" stroke="#ff1414" stroke-width="2.6"/><line x1="94.5" y1="69.60" x2="94.75" y2="81.20" stroke="#ff1414" stroke-width="2.6"/><line x1="94.75" y1="81.20" x2="95.0" y2="92.80" stroke="#c9c9c9" stroke-width="2.6"/><line x1="-12" y1="92.80" x2="58" y2="92.80" stroke="#ff1414" stroke-width="2.4"/><line x1="58" y1="92.80" x2="77" y2="92.80" stroke="#c9c9c9" stroke-width="2.4"/><line x1="77" y1="92.80" x2="86" y2="92.80" stroke="#1a1ae0" stroke-width="2.4"/><line x1="86" y1="92.80" x2="100" y2="92.80" stroke="#ff1414" stroke-width="2.4"/><line x1="0" y1="92.80" x2="2.20" y2="104.40" stroke="#ff1414" stroke-width="2.6"/><line x1="2.20" y1="104.40" x2="4.4" y2="116.00" stroke="#c9c9c9" stroke-width="2.6"/><line x1="10" y1="92.80" x2="7.20" y2="104.40" stroke="#ff1414" stroke-width="2.6"/><line x1="7.20" y1="104.40" x2="4.4" y2="116.00" stroke="#c9c9c9" stroke-width="2.6"/><line x1="26.8" y1="92.80" x2="25.65" y2="104.40" stroke="#ff1414" stroke-width="2.6"/><line x1="25.65" y1="104.40" x2="24.5" y2="116.00" stroke="#c9c9c9" stroke-width="2.6"/><line x1="31.2" y1="92.80" x2="30.60" y2="104.40" stroke="#c9c9c9" stroke-width="2.6"/><line x1="30.60" y1="104.40" x2="30.0" y2="116.00" stroke="#ff1414" stroke-width="2.6"/><line x1="44.9" y1="92.80" x2="45.45" y2="104.40" stroke="#ff1414" stroke-width="2.6"/><line x1="45.45" y1="104.40" x2="46.0" y2="116.00" stroke="#c9c9c9" stroke-width="2.6"/><line x1="49.2" y1="92.80" x2="49.60" y2="104.40" stroke="#c9c9c9" stroke-width="2.6"/><line x1="49.60" y1="104.40" x2="50.0" y2="116.00" stroke="#ff1414" stroke-width="2.6"/><line x1="67.3" y1="92.80" x2="64.90" y2="104.40" stroke="#c9c9c9" stroke-width="2.6"/><line x1="64.90" y1="104.40" x2="62.5" y2="116.00" stroke="#ff1414" stroke-width="2.6"/><line x1="67.3" y1="92.80" x2="69.85" y2="104.40" stroke="#c9c9c9" stroke-width="2.6"/><line x1="69.85" y1="104.40" x2="72.4" y2="116.00" stroke="#ff1414" stroke-width="2.6"/><line x1="90.0" y1="92.80" x2="89.00" y2="104.40" stroke="#ff1414" stroke-width="2.6"/><line x1="89.00" y1="104.40" x2="88.0" y2="116.00" stroke="#c9c9c9" stroke-width="2.6"/><line x1="95.0" y1="92.80" x2="94.75" y2="104.40" stroke="#c9c9c9" stroke-width="2.6"/><line x1="94.75" y1="104.40" x2="94.5" y2="116.00" stroke="#ff1414" stroke-width="2.6"/><line x1="-12" y1="116.00" x2="12" y2="116.00" stroke="#c9c9c9" stroke-width="2.4"/><line x1="12" y1="116.00" x2="22" y2="116.00" stroke="#1a1ae0" stroke-width="2.4"/><line x1="40" y1="116.00" x2="100" y2="116.00" stroke="#ff1414" stroke-width="2.4"/><line x1="4.4" y1="116.00" x2="2.20" y2="127.60" stroke="#c9c9c9" stroke-width="2.6"/><line x1="2.20" y1="127.60" x2="0" y2="139.20" stroke="#ff1414" stroke-width="2.6"/><line x1="4.4" y1="116.00" x2="7.20" y2="127.60" stroke="#c9c9c9" stroke-width="2.6"/><line x1="7.20" y1="127.60" x2="10" y2="139.20" stroke="#ff1414" stroke-width="2.6"/><line x1="24.5" y1="116.00" x2="25.65" y2="127.60" stroke="#c9c9c9" stroke-width="2.6"/><line x1="25.65" y1="127.60" x2="26.8" y2="139.20" stroke="#ff1414" stroke-width="2.6"/><line x1="30.0" y1="116.00" x2="30.60" y2="127.60" stroke="#ff1414" stroke-width="2.6"/><line x1="30.60" y1="127.60" x2="31.2" y2="139.20" stroke="#c9c9c9" stroke-width="2.6"/><line x1="46.0" y1="116.00" x2="45.45" y2="127.60" stroke="#c9c9c9" stroke-width="2.6"/><line x1="45.45" y1="127.60" x2="44.9" y2="139.20" stroke="#ff1414" stroke-width="2.6"/><line x1="50.0" y1="116.00" x2="49.60" y2="127.60" stroke="#ff1414" stroke-width="2.6"/><line x1="49.60" y1="127.60" x2="49.2" y2="139.20" stroke="#c9c9c9" stroke-width="2.6"/><line x1="62.5" y1="116.00" x2="64.90" y2="127.60" stroke="#ff1414" stroke-width="2.6"/><line x1="64.90" y1="127.60" x2="67.3" y2="139.20" stroke="#c9c9c9" stroke-width="2.6"/><line x1="72.4" y1="116.00" x2="69.85" y2="127.60" stroke="#ff1414" stroke-width="2.6"/><line x1="69.85" y1="127.60" x2="67.3" y2="139.20" stroke="#c9c9c9" stroke-width="2.6"/><line x1="88.0" y1="116.00" x2="89.00" y2="127.60" stroke="#c9c9c9" stroke-width="2.6"/><line x1="89.00" y1="127.60" x2="90.0" y2="139.20" stroke="#ff1414" stroke-width="2.6"/><line x1="94.5" y1="116.00" x2="94.75" y2="127.60" stroke="#ff1414" stroke-width="2.6"/><line x1="94.75" y1="127.60" x2="95.0" y2="139.20" stroke="#c9c9c9" stroke-width="2.6"/><circle cx="-1.8" cy="-23.20" r="5.0" fill="url(#gRed)"/><circle cx="10.6" cy="-23.20" r="5.0" fill="url(#gRed)"/><circle cx="38.0" cy="-23.20" r="4.6" fill="url(#gTiB)"/><circle cx="94.5" cy="-23.20" r="4.4" fill="url(#gTiB)"/><circle cx="30.8" cy="0.00" r="4.7" fill="url(#gTiB)"/><circle cx="48.8" cy="0.00" r="4.7" fill="url(#gTiB)"/><circle cx="95.0" cy="0.00" r="4.4" fill="url(#gTiB)"/><circle cx="61.9" cy="0.00" r="5.0" fill="url(#gRed)"/><circle cx="72.7" cy="0.00" r="5.0" fill="url(#gRed)"/><circle cx="-1.8" cy="23.20" r="5.0" fill="url(#gRed)"/><circle cx="10.6" cy="23.20" r="5.0" fill="url(#gRed)"/><circle cx="38.0" cy="23.20" r="4.6" fill="url(#gTiB)"/><circle cx="94.5" cy="23.20" r="4.4" fill="url(#gTiB)"/><circle cx="30.8" cy="46.40" r="4.7" fill="url(#gTiB)"/><circle cx="48.8" cy="46.40" r="4.7" fill="url(#gTiB)"/><circle cx="95.0" cy="46.40" r="4.4" fill="url(#gTiB)"/><circle cx="61.9" cy="46.40" r="5.0" fill="url(#gRed)"/><circle cx="72.7" cy="46.40" r="5.0" fill="url(#gRed)"/><circle cx="-1.8" cy="69.60" r="5.0" fill="url(#gRed)"/><circle cx="10.6" cy="69.60" r="5.0" fill="url(#gRed)"/><circle cx="38.0" cy="69.60" r="4.6" fill="url(#gTiB)"/><circle cx="94.5" cy="69.60" r="4.4" fill="url(#gTiB)"/><circle cx="30.8" cy="92.80" r="4.7" fill="url(#gTiB)"/><circle cx="48.8" cy="92.80" r="4.7" fill="url(#gTiB)"/><circle cx="95.0" cy="92.80" r="4.4" fill="url(#gTiB)"/><circle cx="61.9" cy="92.80" r="5.0" fill="url(#gRed)"/><circle cx="72.7" cy="92.80" r="5.0" fill="url(#gRed)"/><circle cx="-1.8" cy="116.00" r="5.0" fill="url(#gRed)"/><circle cx="10.6" cy="116.00" r="5.0" fill="url(#gRed)"/><circle cx="38.0" cy="116.00" r="4.6" fill="url(#gTiB)"/><circle cx="94.5" cy="116.00" r="4.4" fill="url(#gTiB)"/><circle cx="26.0" cy="-23.20" r="5.25" fill="url(#gRed)"/><circle cx="46.0" cy="-23.20" r="5.25" fill="url(#gRed)"/><circle cx="62.5" cy="-23.20" r="5.25" fill="url(#gRed)"/><circle cx="72.4" cy="-23.20" r="5.25" fill="url(#gRed)"/><circle cx="89.0" cy="-23.20" r="5.25" fill="url(#gRed)"/><circle cx="4.4" cy="-23.20" r="5.3" fill="url(#gTi)"/><ellipse cx="17.4" cy="-23.20" rx="5.8" ry="5.2" fill="url(#gBlue)"/><circle cx="0" cy="0.00" r="5.35" fill="url(#gRed)"/><circle cx="10.0" cy="0.00" r="5.35" fill="url(#gRed)"/><circle cx="26.8" cy="0.00" r="5.35" fill="url(#gRed)"/><circle cx="44.9" cy="0.00" r="5.35" fill="url(#gRed)"/><circle cx="67.3" cy="0.00" r="5.3" fill="url(#gTi)"/><ellipse cx="81.6" cy="0.00" rx="5.8" ry="5.2" fill="url(#gBlue)"/><circle cx="91.0" cy="0.00" r="5.1" fill="url(#gRed)"/><circle cx="26.0" cy="23.20" r="5.25" fill="url(#gRed)"/><circle cx="46.0" cy="23.20" r="5.25" fill="url(#gRed)"/><circle cx="62.5" cy="23.20" r="5.25" fill="url(#gRed)"/><circle cx="72.4" cy="23.20" r="5.25" fill="url(#gRed)"/><circle cx="89.0" cy="23.20" r="5.25" fill="url(#gRed)"/><circle cx="4.4" cy="23.20" r="5.3" fill="url(#gTi)"/><ellipse cx="17.4" cy="23.20" rx="5.8" ry="5.2" fill="url(#gBlue)"/><circle cx="0" cy="46.40" r="5.35" fill="url(#gRed)"/><circle cx="10.0" cy="46.40" r="5.35" fill="url(#gRed)"/><circle cx="26.8" cy="46.40" r="5.35" fill="url(#gRed)"/><circle cx="44.9" cy="46.40" r="5.35" fill="url(#gRed)"/><circle cx="67.3" cy="46.40" r="5.3" fill="url(#gTi)"/><ellipse cx="81.6" cy="46.40" rx="5.8" ry="5.2" fill="url(#gBlue)"/><circle cx="91.0" cy="46.40" r="5.1" fill="url(#gRed)"/><circle cx="26.0" cy="69.60" r="5.25" fill="url(#gRed)"/><circle cx="46.0" cy="69.60" r="5.25" fill="url(#gRed)"/><circle cx="62.5" cy="69.60" r="5.25" fill="url(#gRed)"/><circle cx="72.4" cy="69.60" r="5.25" fill="url(#gRed)"/><circle cx="89.0" cy="69.60" r="5.25" fill="url(#gRed)"/><circle cx="4.4" cy="69.60" r="5.3" fill="url(#gTi)"/><ellipse cx="17.4" cy="69.60" rx="5.8" ry="5.2" fill="url(#gBlue)"/><circle cx="0" cy="92.80" r="5.35" fill="url(#gRed)"/><circle cx="10.0" cy="92.80" r="5.35" fill="url(#gRed)"/><circle cx="26.8" cy="92.80" r="5.35" fill="url(#gRed)"/><circle cx="44.9" cy="92.80" r="5.35" fill="url(#gRed)"/><circle cx="67.3" cy="92.80" r="5.3" fill="url(#gTi)"/><ellipse cx="81.6" cy="92.80" rx="5.8" ry="5.2" fill="url(#gBlue)"/><circle cx="91.0" cy="92.80" r="5.1" fill="url(#gRed)"/><circle cx="26.0" cy="116.00" r="5.25" fill="url(#gRed)"/><circle cx="46.0" cy="116.00" r="5.25" fill="url(#gRed)"/><circle cx="62.5" cy="116.00" r="5.25" fill="url(#gRed)"/><circle cx="72.4" cy="116.00" r="5.25" fill="url(#gRed)"/><circle cx="89.0" cy="116.00" r="5.25" fill="url(#gRed)"/><circle cx="4.4" cy="116.00" r="5.3" fill="url(#gTi)"/><ellipse cx="17.4" cy="116.00" rx="5.8" ry="5.2" fill="url(#gBlue)"/></g><circle cx="791.2" cy="707.6" r="16.9" fill="url(#gGreen)"/><circle cx="813.9" cy="696.2" r="18.7" fill="url(#gAu)" clip-path="url(#k14)"/><circle cx="776.2" cy="729.6" r="21.0" fill="url(#gCe)" clip-path="url(#k15)"/><circle cx="792.3" cy="750.7" r="17.3" fill="url(#gGreen)" clip-path="url(#k16)"/></g></g><g clip-path="url(#cS6)"><g filter="url(#soft)"><g transform="translate(884.4,683.8) scale(1.0)"><line x1="-12" y1="-23.20" x2="12" y2="-23.20" stroke="#c9c9c9" stroke-width="2.4"/><line x1="12" y1="-23.20" x2="22" y2="-23.20" stroke="#1a1ae0" stroke-width="2.4"/><line x1="40" y1="-23.20" x2="100" y2="-23.20" stroke="#ff1414" stroke-width="2.4"/><line x1="4.4" y1="-23.20" x2="2.20" y2="-11.60" stroke="#c9c9c9" stroke-width="2.6"/><line x1="2.20" y1="-11.60" x2="0" y2="0.00" stroke="#ff1414" stroke-width="2.6"/><line x1="4.4" y1="-23.20" x2="7.20" y2="-11.60" stroke="#c9c9c9" stroke-width="2.6"/><line x1="7.20" y1="-11.60" x2="10" y2="0.00" stroke="#ff1414" stroke-width="2.6"/><line x1="24.5" y1="-23.20" x2="25.65" y2="-11.60" stroke="#c9c9c9" stroke-width="2.6"/><line x1="25.65" y1="-11.60" x2="26.8" y2="0.00" stroke="#ff1414" stroke-width="2.6"/><line x1="30.0" y1="-23.20" x2="30.60" y2="-11.60" stroke="#ff1414" stroke-width="2.6"/><line x1="30.60" y1="-11.60" x2="31.2" y2="0.00" stroke="#c9c9c9" stroke-width="2.6"/><line x1="46.0" y1="-23.20" x2="45.45" y2="-11.60" stroke="#c9c9c9" stroke-width="2.6"/><line x1="45.45" y1="-11.60" x2="44.9" y2="0.00" stroke="#ff1414" stroke-width="2.6"/><line x1="50.0" y1="-23.20" x2="49.60" y2="-11.60" stroke="#ff1414" stroke-width="2.6"/><line x1="49.60" y1="-11.60" x2="49.2" y2="0.00" stroke="#c9c9c9" stroke-width="2.6"/><line x1="62.5" y1="-23.20" x2="64.90" y2="-11.60" stroke="#ff1414" stroke-width="2.6"/><line x1="64.90" y1="-11.60" x2="67.3" y2="0.00" stroke="#c9c9c9" stroke-width="2.6"/><line x1="72.4" y1="-23.20" x2="69.85" y2="-11.60" stroke="#ff1414" stroke-width="2.6"/><line x1="69.85" y1="-11.60" x2="67.3" y2="0.00" stroke="#c9c9c9" stroke-width="2.6"/><line x1="88.0" y1="-23.20" x2="89.00" y2="-11.60" stroke="#c9c9c9" stroke-width="2.6"/><line x1="89.00" y1="-11.60" x2="90.0" y2="0.00" stroke="#ff1414" stroke-width="2.6"/><line x1="94.5" y1="-23.20" x2="94.75" y2="-11.60" stroke="#ff1414" stroke-width="2.6"/><line x1="94.75" y1="-11.60" x2="95.0" y2="0.00" stroke="#c9c9c9" stroke-width="2.6"/><line x1="-12" y1="0.00" x2="58" y2="0.00" stroke="#ff1414" stroke-width="2.4"/><line x1="58" y1="0.00" x2="77" y2="0.00" stroke="#c9c9c9" stroke-width="2.4"/><line x1="77" y1="0.00" x2="86" y2="0.00" stroke="#1a1ae0" stroke-width="2.4"/><line x1="86" y1="0.00" x2="100" y2="0.00" stroke="#ff1414" stroke-width="2.4"/><line x1="0" y1="0.00" x2="2.20" y2="11.60" stroke="#ff1414" stroke-width="2.6"/><line x1="2.20" y1="11.60" x2="4.4" y2="23.20" stroke="#c9c9c9" stroke-width="2.6"/><line x1="10" y1="0.00" x2="7.20" y2="11.60" stroke="#ff1414" stroke-width="2.6"/><line x1="7.20" y1="11.60" x2="4.4" y2="23.20" stroke="#c9c9c9" stroke-width="2.6"/><line x1="26.8" y1="0.00" x2="25.65" y2="11.60" stroke="#ff1414" stroke-width="2.6"/><line x1="25.65" y1="11.60" x2="24.5" y2="23.20" stroke="#c9c9c9" stroke-width="2.6"/><line x1="31.2" y1="0.00" x2="30.60" y2="11.60" stroke="#c9c9c9" stroke-width="2.6"/><line x1="30.60" y1="11.60" x2="30.0" y2="23.20" stroke="#ff1414" stroke-width="2.6"/><line x1="44.9" y1="0.00" x2="45.45" y2="11.60" stroke="#ff1414" stroke-width="2.6"/><line x1="45.45" y1="11.60" x2="46.0" y2="23.20" stroke="#c9c9c9" stroke-width="2.6"/><line x1="49.2" y1="0.00" x2="49.60" y2="11.60" stroke="#c9c9c9" stroke-width="2.6"/><line x1="49.60" y1="11.60" x2="50.0" y2="23.20" stroke="#ff1414" stroke-width="2.6"/><line x1="67.3" y1="0.00" x2="64.90" y2="11.60" stroke="#c9c9c9" stroke-width="2.6"/><line x1="64.90" y1="11.60" x2="62.5" y2="23.20" stroke="#ff1414" stroke-width="2.6"/><line x1="67.3" y1="0.00" x2="69.85" y2="11.60" stroke="#c9c9c9" stroke-width="2.6"/><line x1="69.85" y1="11.60" x2="72.4" y2="23.20" stroke="#ff1414" stroke-width="2.6"/><line x1="90.0" y1="0.00" x2="89.00" y2="11.60" stroke="#ff1414" stroke-width="2.6"/><line x1="89.00" y1="11.60" x2="88.0" y2="23.20" stroke="#c9c9c9" stroke-width="2.6"/><line x1="95.0" y1="0.00" x2="94.75" y2="11.60" stroke="#c9c9c9" stroke-width="2.6"/><line x1="94.75" y1="11.60" x2="94.5" y2="23.20" stroke="#ff1414" stroke-width="2.6"/><line x1="-12" y1="23.20" x2="12" y2="23.20" stroke="#c9c9c9" stroke-width="2.4"/><line x1="12" y1="23.20" x2="22" y2="23.20" stroke="#1a1ae0" stroke-width="2.4"/><line x1="40" y1="23.20" x2="100" y2="23.20" stroke="#ff1414" stroke-width="2.4"/><line x1="4.4" y1="23.20" x2="2.20" y2="34.80" stroke="#c9c9c9" stroke-width="2.6"/><line x1="2.20" y1="34.80" x2="0" y2="46.40" stroke="#ff1414" stroke-width="2.6"/><line x1="4.4" y1="23.20" x2="7.20" y2="34.80" stroke="#c9c9c9" stroke-width="2.6"/><line x1="7.20" y1="34.80" x2="10" y2="46.40" stroke="#ff1414" stroke-width="2.6"/><line x1="24.5" y1="23.20" x2="25.65" y2="34.80" stroke="#c9c9c9" stroke-width="2.6"/><line x1="25.65" y1="34.80" x2="26.8" y2="46.40" stroke="#ff1414" stroke-width="2.6"/><line x1="30.0" y1="23.20" x2="30.60" y2="34.80" stroke="#ff1414" stroke-width="2.6"/><line x1="30.60" y1="34.80" x2="31.2" y2="46.40" stroke="#c9c9c9" stroke-width="2.6"/><line x1="46.0" y1="23.20" x2="45.45" y2="34.80" stroke="#c9c9c9" stroke-width="2.6"/><line x1="45.45" y1="34.80" x2="44.9" y2="46.40" stroke="#ff1414" stroke-width="2.6"/><line x1="50.0" y1="23.20" x2="49.60" y2="34.80" stroke="#ff1414" stroke-width="2.6"/><line x1="49.60" y1="34.80" x2="49.2" y2="46.40" stroke="#c9c9c9" stroke-width="2.6"/><line x1="62.5" y1="23.20" x2="64.90" y2="34.80" stroke="#ff1414" stroke-width="2.6"/><line x1="64.90" y1="34.80" x2="67.3" y2="46.40" stroke="#c9c9c9" stroke-width="2.6"/><line x1="72.4" y1="23.20" x2="69.85" y2="34.80" stroke="#ff1414" stroke-width="2.6"/><line x1="69.85" y1="34.80" x2="67.3" y2="46.40" stroke="#c9c9c9" stroke-width="2.6"/><line x1="88.0" y1="23.20" x2="89.00" y2="34.80" stroke="#c9c9c9" stroke-width="2.6"/><line x1="89.00" y1="34.80" x2="90.0" y2="46.40" stroke="#ff1414" stroke-width="2.6"/><line x1="94.5" y1="23.20" x2="94.75" y2="34.80" stroke="#ff1414" stroke-width="2.6"/><line x1="94.75" y1="34.80" x2="95.0" y2="46.40" stroke="#c9c9c9" stroke-width="2.6"/><line x1="-12" y1="46.40" x2="58" y2="46.40" stroke="#ff1414" stroke-width="2.4"/><line x1="58" y1="46.40" x2="77" y2="46.40" stroke="#c9c9c9" stroke-width="2.4"/><line x1="77" y1="46.40" x2="86" y2="46.40" stroke="#1a1ae0" stroke-width="2.4"/><line x1="86" y1="46.40" x2="100" y2="46.40" stroke="#ff1414" stroke-width="2.4"/><line x1="0" y1="46.40" x2="2.20" y2="58.00" stroke="#ff1414" stroke-width="2.6"/><line x1="2.20" y1="58.00" x2="4.4" y2="69.60" stroke="#c9c9c9" stroke-width="2.6"/><line x1="10" y1="46.40" x2="7.20" y2="58.00" stroke="#ff1414" stroke-width="2.6"/><line x1="7.20" y1="58.00" x2="4.4" y2="69.60" stroke="#c9c9c9" stroke-width="2.6"/><line x1="26.8" y1="46.40" x2="25.65" y2="58.00" stroke="#ff1414" stroke-width="2.6"/><line x1="25.65" y1="58.00" x2="24.5" y2="69.60" stroke="#c9c9c9" stroke-width="2.6"/><line x1="31.2" y1="46.40" x2="30.60" y2="58.00" stroke="#c9c9c9" stroke-width="2.6"/><line x1="30.60" y1="58.00" x2="30.0" y2="69.60" stroke="#ff1414" stroke-width="2.6"/><line x1="44.9" y1="46.40" x2="45.45" y2="58.00" stroke="#ff1414" stroke-width="2.6"/><line x1="45.45" y1="58.00" x2="46.0" y2="69.60" stroke="#c9c9c9" stroke-width="2.6"/><line x1="49.2" y1="46.40" x2="49.60" y2="58.00" stroke="#c9c9c9" stroke-width="2.6"/><line x1="49.60" y1="58.00" x2="50.0" y2="69.60" stroke="#ff1414" stroke-width="2.6"/><line x1="67.3" y1="46.40" x2="64.90" y2="58.00" stroke="#c9c9c9" stroke-width="2.6"/><line x1="64.90" y1="58.00" x2="62.5" y2="69.60" stroke="#ff1414" stroke-width="2.6"/><line x1="67.3" y1="46.40" x2="69.85" y2="58.00" stroke="#c9c9c9" stroke-width="2.6"/><line x1="69.85" y1="58.00" x2="72.4" y2="69.60" stroke="#ff1414" stroke-width="2.6"/><line x1="90.0" y1="46.40" x2="89.00" y2="58.00" stroke="#ff1414" stroke-width="2.6"/><line x1="89.00" y1="58.00" x2="88.0" y2="69.60" stroke="#c9c9c9" stroke-width="2.6"/><line x1="95.0" y1="46.40" x2="94.75" y2="58.00" stroke="#c9c9c9" stroke-width="2.6"/><line x1="94.75" y1="58.00" x2="94.5" y2="69.60" stroke="#ff1414" stroke-width="2.6"/><line x1="-12" y1="69.60" x2="12" y2="69.60" stroke="#c9c9c9" stroke-width="2.4"/><line x1="12" y1="69.60" x2="22" y2="69.60" stroke="#1a1ae0" stroke-width="2.4"/><line x1="40" y1="69.60" x2="100" y2="69.60" stroke="#ff1414" stroke-width="2.4"/><line x1="4.4" y1="69.60" x2="2.20" y2="81.20" stroke="#c9c9c9" stroke-width="2.6"/><line x1="2.20" y1="81.20" x2="0" y2="92.80" stroke="#ff1414" stroke-width="2.6"/><line x1="4.4" y1="69.60" x2="7.20" y2="81.20" stroke="#c9c9c9" stroke-width="2.6"/><line x1="7.20" y1="81.20" x2="10" y2="92.80" stroke="#ff1414" stroke-width="2.6"/><line x1="24.5" y1="69.60" x2="25.65" y2="81.20" stroke="#c9c9c9" stroke-width="2.6"/><line x1="25.65" y1="81.20" x2="26.8" y2="92.80" stroke="#ff1414" stroke-width="2.6"/><line x1="30.0" y1="69.60" x2="30.60" y2="81.20" stroke="#ff1414" stroke-width="2.6"/><line x1="30.60" y1="81.20" x2="31.2" y2="92.80" stroke="#c9c9c9" stroke-width="2.6"/><line x1="46.0" y1="69.60" x2="45.45" y2="81.20" stroke="#c9c9c9" stroke-width="2.6"/><line x1="45.45" y1="81.20" x2="44.9" y2="92.80" stroke="#ff1414" stroke-width="2.6"/><line x1="50.0" y1="69.60" x2="49.60" y2="81.20" stroke="#ff1414" stroke-width="2.6"/><line x1="49.60" y1="81.20" x2="49.2" y2="92.80" stroke="#c9c9c9" stroke-width="2.6"/><line x1="62.5" y1="69.60" x2="64.90" y2="81.20" stroke="#ff1414" stroke-width="2.6"/><line x1="64.90" y1="81.20" x2="67.3" y2="92.80" stroke="#c9c9c9" stroke-width="2.6"/><line x1="72.4" y1="69.60" x2="69.85" y2="81.20" stroke="#ff1414" stroke-width="2.6"/><line x1="69.85" y1="81.20" x2="67.3" y2="92.80" stroke="#c9c9c9" stroke-width="2.6"/><line x1="88.0" y1="69.60" x2="89.00" y2="81.20" stroke="#c9c9c9" stroke-width="2.6"/><line x1="89.00" y1="81.20" x2="90.0" y2="92.80" stroke="#ff1414" stroke-width="2.6"/><line x1="94.5" y1="69.60" x2="94.75" y2="81.20" stroke="#ff1414" stroke-width="2.6"/><line x1="94.75" y1="81.20" x2="95.0" y2="92.80" stroke="#c9c9c9" stroke-width="2.6"/><line x1="-12" y1="92.80" x2="58" y2="92.80" stroke="#ff1414" stroke-width="2.4"/><line x1="58" y1="92.80" x2="77" y2="92.80" stroke="#c9c9c9" stroke-width="2.4"/><line x1="77" y1="92.80" x2="86" y2="92.80" stroke="#1a1ae0" stroke-width="2.4"/><line x1="86" y1="92.80" x2="100" y2="92.80" stroke="#ff1414" stroke-width="2.4"/><line x1="0" y1="92.80" x2="2.20" y2="104.40" stroke="#ff1414" stroke-width="2.6"/><line x1="2.20" y1="104.40" x2="4.4" y2="116.00" stroke="#c9c9c9" stroke-width="2.6"/><line x1="10" y1="92.80" x2="7.20" y2="104.40" stroke="#ff1414" stroke-width="2.6"/><line x1="7.20" y1="104.40" x2="4.4" y2="116.00" stroke="#c9c9c9" stroke-width="2.6"/><line x1="26.8" y1="92.80" x2="25.65" y2="104.40" stroke="#ff1414" stroke-width="2.6"/><line x1="25.65" y1="104.40" x2="24.5" y2="116.00" stroke="#c9c9c9" stroke-width="2.6"/><line x1="31.2" y1="92.80" x2="30.60" y2="104.40" stroke="#c9c9c9" stroke-width="2.6"/><line x1="30.60" y1="104.40" x2="30.0" y2="116.00" stroke="#ff1414" stroke-width="2.6"/><line x1="44.9" y1="92.80" x2="45.45" y2="104.40" stroke="#ff1414" stroke-width="2.6"/><line x1="45.45" y1="104.40" x2="46.0" y2="116.00" stroke="#c9c9c9" stroke-width="2.6"/><line x1="49.2" y1="92.80" x2="49.60" y2="104.40" stroke="#c9c9c9" stroke-width="2.6"/><line x1="49.60" y1="104.40" x2="50.0" y2="116.00" stroke="#ff1414" stroke-width="2.6"/><line x1="67.3" y1="92.80" x2="64.90" y2="104.40" stroke="#c9c9c9" stroke-width="2.6"/><line x1="64.90" y1="104.40" x2="62.5" y2="116.00" stroke="#ff1414" stroke-width="2.6"/><line x1="67.3" y1="92.80" x2="69.85" y2="104.40" stroke="#c9c9c9" stroke-width="2.6"/><line x1="69.85" y1="104.40" x2="72.4" y2="116.00" stroke="#ff1414" stroke-width="2.6"/><line x1="90.0" y1="92.80" x2="89.00" y2="104.40" stroke="#ff1414" stroke-width="2.6"/><line x1="89.00" y1="104.40" x2="88.0" y2="116.00" stroke="#c9c9c9" stroke-width="2.6"/><line x1="95.0" y1="92.80" x2="94.75" y2="104.40" stroke="#c9c9c9" stroke-width="2.6"/><line x1="94.75" y1="104.40" x2="94.5" y2="116.00" stroke="#ff1414" stroke-width="2.6"/><line x1="-12" y1="116.00" x2="12" y2="116.00" stroke="#c9c9c9" stroke-width="2.4"/><line x1="12" y1="116.00" x2="22" y2="116.00" stroke="#1a1ae0" stroke-width="2.4"/><line x1="40" y1="116.00" x2="100" y2="116.00" stroke="#ff1414" stroke-width="2.4"/><line x1="4.4" y1="116.00" x2="2.20" y2="127.60" stroke="#c9c9c9" stroke-width="2.6"/><line x1="2.20" y1="127.60" x2="0" y2="139.20" stroke="#ff1414" stroke-width="2.6"/><line x1="4.4" y1="116.00" x2="7.20" y2="127.60" stroke="#c9c9c9" stroke-width="2.6"/><line x1="7.20" y1="127.60" x2="10" y2="139.20" stroke="#ff1414" stroke-width="2.6"/><line x1="24.5" y1="116.00" x2="25.65" y2="127.60" stroke="#c9c9c9" stroke-width="2.6"/><line x1="25.65" y1="127.60" x2="26.8" y2="139.20" stroke="#ff1414" stroke-width="2.6"/><line x1="30.0" y1="116.00" x2="30.60" y2="127.60" stroke="#ff1414" stroke-width="2.6"/><line x1="30.60" y1="127.60" x2="31.2" y2="139.20" stroke="#c9c9c9" stroke-width="2.6"/><line x1="46.0" y1="116.00" x2="45.45" y2="127.60" stroke="#c9c9c9" stroke-width="2.6"/><line x1="45.45" y1="127.60" x2="44.9" y2="139.20" stroke="#ff1414" stroke-width="2.6"/><line x1="50.0" y1="116.00" x2="49.60" y2="127.60" stroke="#ff1414" stroke-width="2.6"/><line x1="49.60" y1="127.60" x2="49.2" y2="139.20" stroke="#c9c9c9" stroke-width="2.6"/><line x1="62.5" y1="116.00" x2="64.90" y2="127.60" stroke="#ff1414" stroke-width="2.6"/><line x1="64.90" y1="127.60" x2="67.3" y2="139.20" stroke="#c9c9c9" stroke-width="2.6"/><line x1="72.4" y1="116.00" x2="69.85" y2="127.60" stroke="#ff1414" stroke-width="2.6"/><line x1="69.85" y1="127.60" x2="67.3" y2="139.20" stroke="#c9c9c9" stroke-width="2.6"/><line x1="88.0" y1="116.00" x2="89.00" y2="127.60" stroke="#c9c9c9" stroke-width="2.6"/><line x1="89.00" y1="127.60" x2="90.0" y2="139.20" stroke="#ff1414" stroke-width="2.6"/><line x1="94.5" y1="116.00" x2="94.75" y2="127.60" stroke="#ff1414" stroke-width="2.6"/><line x1="94.75" y1="127.60" x2="95.0" y2="139.20" stroke="#c9c9c9" stroke-width="2.6"/><circle cx="-1.8" cy="-23.20" r="5.0" fill="url(#gRed)"/><circle cx="10.6" cy="-23.20" r="5.0" fill="url(#gRed)"/><circle cx="38.0" cy="-23.20" r="4.6" fill="url(#gTiB)"/><circle cx="94.5" cy="-23.20" r="4.4" fill="url(#gTiB)"/><circle cx="30.8" cy="0.00" r="4.7" fill="url(#gTiB)"/><circle cx="48.8" cy="0.00" r="4.7" fill="url(#gTiB)"/><circle cx="95.0" cy="0.00" r="4.4" fill="url(#gTiB)"/><circle cx="61.9" cy="0.00" r="5.0" fill="url(#gRed)"/><circle cx="72.7" cy="0.00" r="5.0" fill="url(#gRed)"/><circle cx="-1.8" cy="23.20" r="5.0" fill="url(#gRed)"/><circle cx="10.6" cy="23.20" r="5.0" fill="url(#gRed)"/><circle cx="38.0" cy="23.20" r="4.6" fill="url(#gTiB)"/><circle cx="94.5" cy="23.20" r="4.4" fill="url(#gTiB)"/><circle cx="30.8" cy="46.40" r="4.7" fill="url(#gTiB)"/><circle cx="48.8" cy="46.40" r="4.7" fill="url(#gTiB)"/><circle cx="95.0" cy="46.40" r="4.4" fill="url(#gTiB)"/><circle cx="61.9" cy="46.40" r="5.0" fill="url(#gRed)"/><circle cx="72.7" cy="46.40" r="5.0" fill="url(#gRed)"/><circle cx="-1.8" cy="69.60" r="5.0" fill="url(#gRed)"/><circle cx="10.6" cy="69.60" r="5.0" fill="url(#gRed)"/><circle cx="38.0" cy="69.60" r="4.6" fill="url(#gTiB)"/><circle cx="94.5" cy="69.60" r="4.4" fill="url(#gTiB)"/><circle cx="30.8" cy="92.80" r="4.7" fill="url(#gTiB)"/><circle cx="48.8" cy="92.80" r="4.7" fill="url(#gTiB)"/><circle cx="95.0" cy="92.80" r="4.4" fill="url(#gTiB)"/><circle cx="61.9" cy="92.80" r="5.0" fill="url(#gRed)"/><circle cx="72.7" cy="92.80" r="5.0" fill="url(#gRed)"/><circle cx="-1.8" cy="116.00" r="5.0" fill="url(#gRed)"/><circle cx="10.6" cy="116.00" r="5.0" fill="url(#gRed)"/><circle cx="38.0" cy="116.00" r="4.6" fill="url(#gTiB)"/><circle cx="94.5" cy="116.00" r="4.4" fill="url(#gTiB)"/><circle cx="26.0" cy="-23.20" r="5.25" fill="url(#gRed)"/><circle cx="46.0" cy="-23.20" r="5.25" fill="url(#gRed)"/><circle cx="62.5" cy="-23.20" r="5.25" fill="url(#gRed)"/><circle cx="72.4" cy="-23.20" r="5.25" fill="url(#gRed)"/><circle cx="89.0" cy="-23.20" r="5.25" fill="url(#gRed)"/><circle cx="4.4" cy="-23.20" r="5.3" fill="url(#gTi)"/><ellipse cx="17.4" cy="-23.20" rx="5.8" ry="5.2" fill="url(#gBlue)"/><circle cx="0" cy="0.00" r="5.35" fill="url(#gRed)"/><circle cx="10.0" cy="0.00" r="5.35" fill="url(#gRed)"/><circle cx="26.8" cy="0.00" r="5.35" fill="url(#gRed)"/><circle cx="44.9" cy="0.00" r="5.35" fill="url(#gRed)"/><circle cx="67.3" cy="0.00" r="5.3" fill="url(#gTi)"/><ellipse cx="81.6" cy="0.00" rx="5.8" ry="5.2" fill="url(#gBlue)"/><circle cx="91.0" cy="0.00" r="5.1" fill="url(#gRed)"/><circle cx="26.0" cy="23.20" r="5.25" fill="url(#gRed)"/><circle cx="46.0" cy="23.20" r="5.25" fill="url(#gRed)"/><circle cx="62.5" cy="23.20" r="5.25" fill="url(#gRed)"/><circle cx="72.4" cy="23.20" r="5.25" fill="url(#gRed)"/><circle cx="89.0" cy="23.20" r="5.25" fill="url(#gRed)"/><circle cx="4.4" cy="23.20" r="5.3" fill="url(#gTi)"/><ellipse cx="17.4" cy="23.20" rx="5.8" ry="5.2" fill="url(#gBlue)"/><circle cx="0" cy="46.40" r="5.35" fill="url(#gRed)"/><circle cx="10.0" cy="46.40" r="5.35" fill="url(#gRed)"/><circle cx="26.8" cy="46.40" r="5.35" fill="url(#gRed)"/><circle cx="44.9" cy="46.40" r="5.35" fill="url(#gRed)"/><circle cx="67.3" cy="46.40" r="5.3" fill="url(#gTi)"/><ellipse cx="81.6" cy="46.40" rx="5.8" ry="5.2" fill="url(#gBlue)"/><circle cx="91.0" cy="46.40" r="5.1" fill="url(#gRed)"/><circle cx="26.0" cy="69.60" r="5.25" fill="url(#gRed)"/><circle cx="46.0" cy="69.60" r="5.25" fill="url(#gRed)"/><circle cx="62.5" cy="69.60" r="5.25" fill="url(#gRed)"/><circle cx="72.4" cy="69.60" r="5.25" fill="url(#gRed)"/><circle cx="89.0" cy="69.60" r="5.25" fill="url(#gRed)"/><circle cx="4.4" cy="69.60" r="5.3" fill="url(#gTi)"/><ellipse cx="17.4" cy="69.60" rx="5.8" ry="5.2" fill="url(#gBlue)"/><circle cx="0" cy="92.80" r="5.35" fill="url(#gRed)"/><circle cx="10.0" cy="92.80" r="5.35" fill="url(#gRed)"/><circle cx="26.8" cy="92.80" r="5.35" fill="url(#gRed)"/><circle cx="44.9" cy="92.80" r="5.35" fill="url(#gRed)"/><circle cx="67.3" cy="92.80" r="5.3" fill="url(#gTi)"/><ellipse cx="81.6" cy="92.80" rx="5.8" ry="5.2" fill="url(#gBlue)"/><circle cx="91.0" cy="92.80" r="5.1" fill="url(#gRed)"/><circle cx="26.0" cy="116.00" r="5.25" fill="url(#gRed)"/><circle cx="46.0" cy="116.00" r="5.25" fill="url(#gRed)"/><circle cx="62.5" cy="116.00" r="5.25" fill="url(#gRed)"/><circle cx="72.4" cy="116.00" r="5.25" fill="url(#gRed)"/><circle cx="89.0" cy="116.00" r="5.25" fill="url(#gRed)"/><circle cx="4.4" cy="116.00" r="5.3" fill="url(#gTi)"/><ellipse cx="17.4" cy="116.00" rx="5.8" ry="5.2" fill="url(#gBlue)"/></g><circle cx="926.1" cy="708.4" r="16.4" fill="url(#gGreen)"/><circle cx="950.8" cy="718.8" r="18.6" fill="url(#gAu)" clip-path="url(#k17)"/><circle cx="910.0" cy="731.0" r="21.2" fill="url(#gCe)" clip-path="url(#k18)"/><circle cx="928.9" cy="750.3" r="17.2" fill="url(#gGreen)" clip-path="url(#k19)"/></g></g><polyline points="187.00,253.20 280.50,353.20 368.00,320.20 459.00,326.00 551.50,417.50 640.20,525.20 729.00,513.90 817.50,664.20 908.00,666.00" fill="none" stroke="#727272" stroke-width="1.3" stroke-dasharray="1.4 1.05"/><line x1="171.80" y1="253.20" x2="213.80" y2="253.20" stroke="#000" stroke-width="4" stroke-linecap="round"/><line x1="261.20" y1="353.20" x2="303.20" y2="353.20" stroke="#000" stroke-width="4" stroke-linecap="round"/><line x1="350.75" y1="320.10" x2="392.75" y2="320.10" stroke="#000" stroke-width="4" stroke-linecap="round"/><line x1="439.85" y1="326.00" x2="481.85" y2="326.00" stroke="#000" stroke-width="4" stroke-linecap="round"/><line x1="529.00" y1="417.50" x2="571.00" y2="417.50" stroke="#000" stroke-width="4" stroke-linecap="round"/><line x1="618.20" y1="525.20" x2="660.20" y2="525.20" stroke="#000" stroke-width="4" stroke-linecap="round"/><line x1="707.50" y1="513.90" x2="749.50" y2="513.90" stroke="#000" stroke-width="4" stroke-linecap="round"/><line x1="796.75" y1="664.20" x2="838.75" y2="664.20" stroke="#000" stroke-width="4" stroke-linecap="round"/><line x1="885.70" y1="666.00" x2="927.70" y2="666.00" stroke="#000" stroke-width="4" stroke-linecap="round"/><text x="188" y="382.7" font-size="25" font-weight="bold" letter-spacing="0.25" fill="#000" font-family="'Liberation Sans', Arial, Helvetica, sans-serif">Δ<tspan font-style="italic">E</tspan><tspan font-size="17.5" dy="5">1</tspan><tspan dy="-5">= -1.60</tspan></text><text x="306.5" y="304.7" font-size="25" font-weight="bold" letter-spacing="0.05" fill="#0a72cc" font-family="'Liberation Sans', Arial, Helvetica, sans-serif"><tspan font-style="italic">E</tspan><tspan font-size="17.5" dy="5">act1</tspan><tspan dy="-5">= 0.54</tspan></text><text x="439" y="316.7" font-size="25" font-weight="bold" letter-spacing="0.25" fill="#000" font-family="'Liberation Sans', Arial, Helvetica, sans-serif">Δ<tspan font-style="italic">E</tspan><tspan font-size="17.5" dy="5">2</tspan><tspan dy="-5">= 0.44</tspan></text><text x="483" y="401.5" font-size="25" font-weight="bold" letter-spacing="0.25" fill="#000" font-family="'Liberation Sans', Arial, Helvetica, sans-serif">Δ<tspan font-style="italic">E</tspan><tspan font-size="17.5" dy="5">3</tspan><tspan dy="-5">= -1.46</tspan></text><text x="583.75" y="556.5" font-size="25" font-weight="bold" letter-spacing="0.25" fill="#000" font-family="'Liberation Sans', Arial, Helvetica, sans-serif">Δ<tspan font-style="italic">E</tspan><tspan font-size="17.5" dy="5">4</tspan><tspan dy="-5">= -1.73</tspan></text><text x="674.5" y="498.8" font-size="25" font-weight="bold" letter-spacing="0.05" fill="#0a72cc" font-family="'Liberation Sans', Arial, Helvetica, sans-serif"><tspan font-style="italic">E</tspan><tspan font-size="17.5" dy="5">act2</tspan><tspan dy="-5">= 0.19</tspan></text><text x="721.5" y="648" font-size="25" font-weight="bold" letter-spacing="0.25" fill="#000" font-family="'Liberation Sans', Arial, Helvetica, sans-serif">Δ<tspan font-style="italic">E</tspan><tspan font-size="17.5" dy="5">5</tspan><tspan dy="-5">= -2.22</tspan></text><text x="865.5" y="653.75" font-size="25" font-weight="bold" letter-spacing="0.25" fill="#000" font-family="'Liberation Sans', Arial, Helvetica, sans-serif">Δ<tspan font-style="italic">E</tspan><tspan font-size="17.5" dy="5">6</tspan><tspan dy="-5">= -0.03</tspan></text><rect x="104.8" y="128.6" width="890.0" height="686.0" fill="none" stroke="#000" stroke-width="2.5"/><line x1="104.8" y1="128.10" x2="118.8" y2="128.10" stroke="#000" stroke-width="2.5"/><text transform="translate(89,136.40) scale(1,1.075)" text-anchor="end" font-size="30" font-family="'Liberation Sans', Arial, Helvetica, sans-serif">2</text><line x1="104.8" y1="253.20" x2="118.8" y2="253.20" stroke="#000" stroke-width="2.5"/><text transform="translate(89,261.50) scale(1,1.075)" text-anchor="end" font-size="30" font-family="'Liberation Sans', Arial, Helvetica, sans-serif">0</text><line x1="104.8" y1="378.30" x2="118.8" y2="378.30" stroke="#000" stroke-width="2.5"/><text transform="translate(89,386.60) scale(1,1.075)" text-anchor="end" font-size="30" font-family="'Liberation Sans', Arial, Helvetica, sans-serif">-2</text><line x1="104.8" y1="503.40" x2="118.8" y2="503.40" stroke="#000" stroke-width="2.5"/><text transform="translate(89,511.70) scale(1,1.075)" text-anchor="end" font-size="30" font-family="'Liberation Sans', Arial, Helvetica, sans-serif">-4</text><line x1="104.8" y1="628.50" x2="118.8" y2="628.50" stroke="#000" stroke-width="2.5"/><text transform="translate(89,636.80) scale(1,1.075)" text-anchor="end" font-size="30" font-family="'Liberation Sans', Arial, Helvetica, sans-serif">-6</text><line x1="104.8" y1="753.60" x2="118.8" y2="753.60" stroke="#000" stroke-width="2.5"/><text transform="translate(89,761.90) scale(1,1.075)" text-anchor="end" font-size="30" font-family="'Liberation Sans', Arial, Helvetica, sans-serif">-8</text><line x1="192.80" y1="814.6" x2="192.80" y2="801.6" stroke="#000" stroke-width="2.5"/><line x1="192.80" y1="128.6" x2="192.80" y2="115.6" stroke="#000" stroke-width="2.5"/><line x1="282.15" y1="814.6" x2="282.15" y2="801.6" stroke="#000" stroke-width="2.5"/><line x1="282.15" y1="128.6" x2="282.15" y2="115.6" stroke="#000" stroke-width="2.5"/><line x1="371.50" y1="814.6" x2="371.50" y2="801.6" stroke="#000" stroke-width="2.5"/><line x1="371.50" y1="128.6" x2="371.50" y2="115.6" stroke="#000" stroke-width="2.5"/><line x1="460.85" y1="814.6" x2="460.85" y2="801.6" stroke="#000" stroke-width="2.5"/><line x1="460.85" y1="128.6" x2="460.85" y2="115.6" stroke="#000" stroke-width="2.5"/><line x1="550.20" y1="814.6" x2="550.20" y2="801.6" stroke="#000" stroke-width="2.5"/><line x1="550.20" y1="128.6" x2="550.20" y2="115.6" stroke="#000" stroke-width="2.5"/><line x1="639.55" y1="814.6" x2="639.55" y2="801.6" stroke="#000" stroke-width="2.5"/><line x1="639.55" y1="128.6" x2="639.55" y2="115.6" stroke="#000" stroke-width="2.5"/><line x1="728.90" y1="814.6" x2="728.90" y2="801.6" stroke="#000" stroke-width="2.5"/><line x1="728.90" y1="128.6" x2="728.90" y2="115.6" stroke="#000" stroke-width="2.5"/><line x1="818.25" y1="814.6" x2="818.25" y2="801.6" stroke="#000" stroke-width="2.5"/><line x1="818.25" y1="128.6" x2="818.25" y2="115.6" stroke="#000" stroke-width="2.5"/><line x1="907.60" y1="814.6" x2="907.60" y2="801.6" stroke="#000" stroke-width="2.5"/><line x1="907.60" y1="128.6" x2="907.60" y2="115.6" stroke="#000" stroke-width="2.5"/><text transform="translate(196.10,857.6) scale(1,1.08)" text-anchor="middle" font-size="33" font-family="'Liberation Sans', Arial, Helvetica, sans-serif">S0</text><text transform="translate(279.65,857.6) scale(1,1.08)" text-anchor="middle" font-size="33" font-family="'Liberation Sans', Arial, Helvetica, sans-serif">S1</text><text transform="translate(372.80,857.6) scale(1,1.08)" text-anchor="middle" font-size="33" font-family="'Liberation Sans', Arial, Helvetica, sans-serif">TS1</text><text transform="translate(460.65,857.6) scale(1,1.08)" text-anchor="middle" font-size="33" font-family="'Liberation Sans', Arial, Helvetica, sans-serif">S2</text><text transform="translate(550.80,857.6) scale(1,1.08)" text-anchor="middle" font-size="33" font-family="'Liberation Sans', Arial, Helvetica, sans-serif">S3</text><text transform="translate(641.35,857.6) scale(1,1.08)" text-anchor="middle" font-size="33" font-family="'Liberation Sans', Arial, Helvetica, sans-serif">S4</text><text transform="translate(728.90,857.6) scale(1,1.08)" text-anchor="middle" font-size="33" font-family="'Liberation Sans', Arial, Helvetica, sans-serif">TS2</text><text transform="translate(817.85,857.6) scale(1,1.08)" text-anchor="middle" font-size="33" font-family="'Liberation Sans', Arial, Helvetica, sans-serif">S5</text><text transform="translate(908.30,857.6) scale(1,1.08)" text-anchor="middle" font-size="33" font-family="'Liberation Sans', Arial, Helvetica, sans-serif">S6</text><text x="553" y="911.5" text-anchor="middle" font-size="32.9" font-weight="bold" font-family="'Liberation Sans', Arial, Helvetica, sans-serif">Reaction stage</text><text transform="translate(28.3,463.0) rotate(-90)" text-anchor="middle" font-size="32.75" font-weight="bold" font-family="'Liberation Sans', Arial, Helvetica, sans-serif">Relative reaction energy (eV)</text><text transform="translate(215.0,58.5) rotate(-42)" text-anchor="middle" font-size="25.5" font-family="'Liberation Sans', Arial, Helvetica, sans-serif">Au/CeO<tspan font-size="17.3" dy="5.6">2</tspan><tspan dy="-5.6">-TiO</tspan><tspan font-size="17.3" dy="5.6">2</tspan></text><text transform="translate(275.4,61.0) rotate(-42)" text-anchor="middle" font-size="25.5" font-family="'Liberation Sans', Arial, Helvetica, sans-serif">CO</text><text transform="translate(290.7,78.4) rotate(-42)" text-anchor="middle" font-size="25.5" font-family="'Liberation Sans', Arial, Helvetica, sans-serif">binding</text><text transform="translate(376.5,67.1) rotate(-42)" text-anchor="middle" font-size="25.5" font-family="'Liberation Sans', Arial, Helvetica, sans-serif">Transition</text><text transform="translate(393.9,82.4) rotate(-42)" text-anchor="middle" font-size="25.5" font-family="'Liberation Sans', Arial, Helvetica, sans-serif">state</text><text transform="translate(463.4,45.8) rotate(-42)" text-anchor="middle" font-size="25.5" font-family="'Liberation Sans', Arial, Helvetica, sans-serif">CO<tspan font-size="17.3" dy="5.6">2</tspan></text><text transform="translate(481.5,60.1) rotate(-42)" text-anchor="middle" font-size="25.5" font-family="'Liberation Sans', Arial, Helvetica, sans-serif">production</text><text transform="translate(557.3,47.0) rotate(-42)" text-anchor="middle" font-size="25.5" font-family="'Liberation Sans', Arial, Helvetica, sans-serif">O<tspan font-size="17.3" dy="5.6">2</tspan></text><text transform="translate(575.4,60.0) rotate(-42)" text-anchor="middle" font-size="25.5" font-family="'Liberation Sans', Arial, Helvetica, sans-serif">adsorption</text><text transform="translate(639.9,53.6) rotate(-42)" text-anchor="middle" font-size="25.5" font-family="'Liberation Sans', Arial, Helvetica, sans-serif">CO</text><text transform="translate(655.7,70.4) rotate(-42)" text-anchor="middle" font-size="25.5" font-family="'Liberation Sans', Arial, Helvetica, sans-serif">binding</text><text transform="translate(732.1,68.4) rotate(-42)" text-anchor="middle" font-size="25.5" font-family="'Liberation Sans', Arial, Helvetica, sans-serif">Transition</text><text transform="translate(749.5,84.0) rotate(-42)" text-anchor="middle" font-size="25.5" font-family="'Liberation Sans', Arial, Helvetica, sans-serif">state</text><text transform="translate(828.8,44.3) rotate(-42)" text-anchor="middle" font-size="25.5" font-family="'Liberation Sans', Arial, Helvetica, sans-serif">CO<tspan font-size="17.3" dy="5.6">2</tspan></text><text transform="translate(846.6,58.6) rotate(-42)" text-anchor="middle" font-size="25.5" font-family="'Liberation Sans', Arial, Helvetica, sans-serif">production</text><text transform="translate(926.1,59.4) rotate(-42)" text-anchor="middle" font-size="25.5" font-family="'Liberation Sans', Arial, Helvetica, sans-serif">Au/CeO-TiO<tspan font-size="17.3" dy="5.6">2</tspan></text><circle cx="141.9" cy="720.6" r="18.2" fill="url(#gLTi)" filter="url(#soft2)"/><text x="166" y="727.5" font-size="20" font-weight="bold" letter-spacing="0.3" font-family="'Liberation Sans', Arial, Helvetica, sans-serif">Ti</text><circle cx="219.4" cy="720.6" r="18.2" fill="url(#gLCe)" filter="url(#soft2)"/><text x="243.5" y="727.5" font-size="20" font-weight="bold" letter-spacing="0.3" font-family="'Liberation Sans', Arial, Helvetica, sans-serif">Ce</text><circle cx="306" cy="720.6" r="18.2" fill="url(#gLAu)" filter="url(#soft2)"/><text x="331.5" y="727.5" font-size="20" font-weight="bold" letter-spacing="0.3" font-family="'Liberation Sans', Arial, Helvetica, sans-serif">Au</text><circle cx="398.5" cy="720.4" r="18.2" fill="url(#gLRed)" filter="url(#soft2)"/><text x="423.4" y="727.5" font-size="20" font-weight="bold" letter-spacing="0.3" font-family="'Liberation Sans', Arial, Helvetica, sans-serif">O (TiO<tspan font-size="15" dy="5">2</tspan><tspan dy="-5">-lattice)</tspan></text><circle cx="141.9" cy="773" r="18.2" fill="url(#gLGreen)" filter="url(#soft2)"/><text x="166" y="778.7" font-size="20" font-weight="bold" letter-spacing="0.3" font-family="'Liberation Sans', Arial, Helvetica, sans-serif">O (CeO<tspan font-size="15" dy="5">2</tspan><tspan dy="-5">)</tspan></text><circle cx="306" cy="773" r="18.2" fill="url(#gLBlue)" filter="url(#soft2)"/><text x="331" y="778.7" font-size="20" font-weight="bold" letter-spacing="0.3" font-family="'Liberation Sans', Arial, Helvetica, sans-serif">O (TiO<tspan font-size="15" dy="5">2</tspan><tspan dy="-5">-bridging)</tspan></text></svg>
</body></html>
